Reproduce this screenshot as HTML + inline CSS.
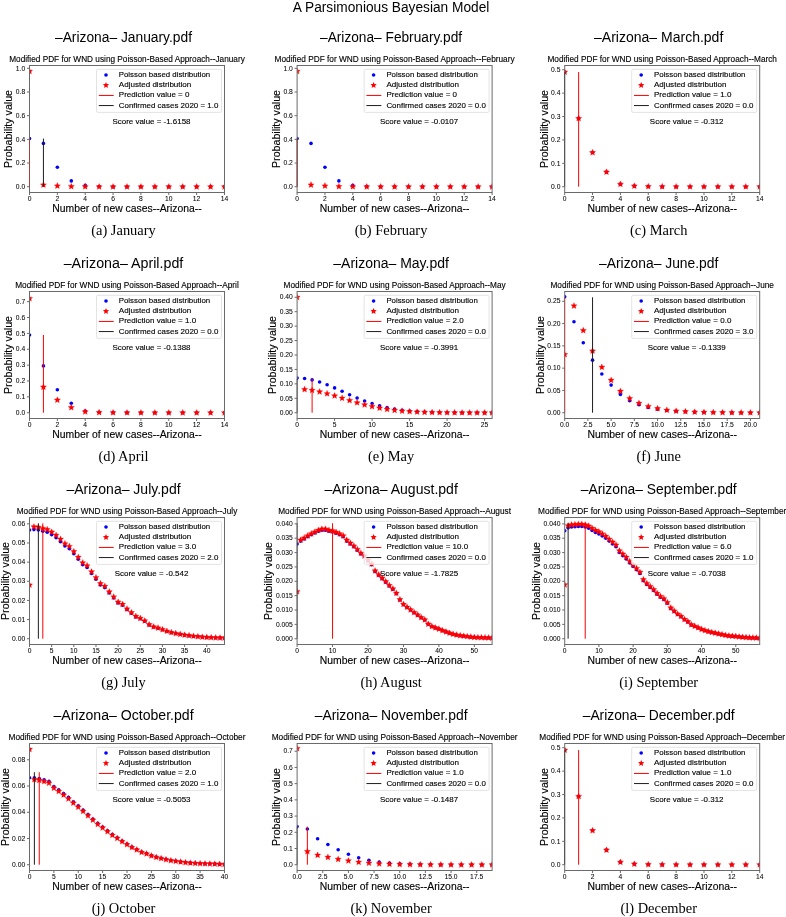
<!DOCTYPE html>
<html><head><meta charset="utf-8"><style>
html,body{margin:0;padding:0;background:#fff;width:786px;height:917px;overflow:hidden}
svg{display:block;will-change:transform}
.b{stroke:#000;stroke-width:0.13px}
.t{stroke:#000;stroke-width:0.05px}
</style></head><body>
<svg width="786" height="917" viewBox="0 0 786 917">
<text x="391.1" y="11.8" font-size="14" text-anchor="middle" textLength="196.46" lengthAdjust="spacingAndGlyphs" fill="#000" font-family='"Liberation Sans", sans-serif'>A Parsimonious Bayesian Model</text>
<text x="123.5" y="41.5" font-size="14" text-anchor="middle" textLength="137" lengthAdjust="spacingAndGlyphs" fill="#000" font-family='"Liberation Sans", sans-serif'>–Arizona– January.pdf</text>
<text x="123.5" y="235.1" font-size="14.45" text-anchor="middle" fill="#000" font-family='"Liberation Serif", serif'>(a) January</text>
<text x="127" y="62.4" font-size="8.2" text-anchor="middle" textLength="235.6" lengthAdjust="spacingAndGlyphs" fill="#000" font-family='"Liberation Sans", sans-serif' class="b">Modified PDF for WND using Poisson-Based Approach--January</text>
<clipPath id="clip0"><rect x="29.5" y="65.5" width="195" height="127"/></clipPath>
<g clip-path="url(#clip0)">
<circle cx="29.5" cy="138.58" r="1.8" fill="#0000ff"/>
<circle cx="43.43" cy="143.4" r="1.8" fill="#0000ff"/>
<circle cx="57.36" cy="167.23" r="1.8" fill="#0000ff"/>
<circle cx="71.29" cy="180.88" r="1.8" fill="#0000ff"/>
<circle cx="85.21" cy="185.41" r="1.8" fill="#0000ff"/>
<circle cx="99.14" cy="186.49" r="1.8" fill="#0000ff"/>
<circle cx="113.07" cy="186.69" r="1.8" fill="#0000ff"/>
<circle cx="127" cy="186.72" r="1.8" fill="#0000ff"/>
<circle cx="140.93" cy="186.73" r="1.8" fill="#0000ff"/>
<circle cx="154.86" cy="186.73" r="1.8" fill="#0000ff"/>
<circle cx="168.79" cy="186.73" r="1.8" fill="#0000ff"/>
<circle cx="182.71" cy="186.73" r="1.8" fill="#0000ff"/>
<circle cx="196.64" cy="186.73" r="1.8" fill="#0000ff"/>
<circle cx="210.57" cy="186.73" r="1.8" fill="#0000ff"/>
<circle cx="224.5" cy="186.73" r="1.8" fill="#0000ff"/>
<path d="M29.50,67.97L28.61,70.04L26.36,70.25L28.06,71.74L27.56,73.94L29.50,72.79L31.44,73.94L30.94,71.74L32.64,70.25L30.39,70.04ZM43.43,181.60L42.54,183.67L40.29,183.88L41.98,185.37L41.49,187.57L43.43,186.42L45.37,187.57L44.87,185.37L46.57,183.88L44.32,183.67ZM57.36,182.61L56.46,184.68L54.22,184.89L55.91,186.37L55.42,188.58L57.36,187.42L59.30,188.58L58.80,186.37L60.50,184.89L58.25,184.68ZM71.29,183.18L70.39,185.25L68.15,185.46L69.84,186.95L69.35,189.15L71.29,188.00L73.23,189.15L72.73,186.95L74.42,185.46L72.18,185.25ZM85.21,183.37L84.32,185.44L82.08,185.65L83.77,187.14L83.27,189.34L85.21,188.19L87.15,189.34L86.66,187.14L88.35,185.65L86.11,185.44ZM99.14,183.42L98.25,185.49L96.00,185.70L97.70,187.19L97.20,189.39L99.14,188.24L101.08,189.39L100.59,187.19L102.28,185.70L100.04,185.49ZM113.07,183.43L112.18,185.50L109.93,185.71L111.63,187.19L111.13,189.40L113.07,188.24L115.01,189.40L114.52,187.19L116.21,185.71L113.96,185.50ZM127.00,183.43L126.11,185.50L123.86,185.71L125.56,187.20L125.06,189.40L127.00,188.25L128.94,189.40L128.44,187.20L130.14,185.71L127.89,185.50ZM140.93,183.43L140.04,185.50L137.79,185.71L139.48,187.20L138.99,189.40L140.93,188.25L142.87,189.40L142.37,187.20L144.07,185.71L141.82,185.50ZM154.86,183.43L153.96,185.50L151.72,185.71L153.41,187.20L152.92,189.40L154.86,188.25L156.80,189.40L156.30,187.20L158.00,185.71L155.75,185.50ZM168.79,183.43L167.89,185.50L165.65,185.71L167.34,187.20L166.85,189.40L168.79,188.25L170.73,189.40L170.23,187.20L171.92,185.71L169.68,185.50ZM182.71,183.43L181.82,185.50L179.58,185.71L181.27,187.20L180.77,189.40L182.71,188.25L184.65,189.40L184.16,187.20L185.85,185.71L183.61,185.50ZM196.64,183.43L195.75,185.50L193.50,185.71L195.20,187.20L194.70,189.40L196.64,188.25L198.58,189.40L198.09,187.20L199.78,185.71L197.54,185.50ZM210.57,183.43L209.68,185.50L207.43,185.71L209.13,187.20L208.63,189.40L210.57,188.25L212.51,189.40L212.02,187.20L213.71,185.71L211.46,185.50ZM224.50,183.43L223.61,185.50L221.36,185.71L223.06,187.20L222.56,189.40L224.50,188.25L226.44,189.40L225.94,187.20L227.64,185.71L225.39,185.50Z" fill="#ff0000" stroke="#ff0000" stroke-width="0.25" stroke-linejoin="round"/>
<line x1="43.43" y1="186.73" x2="43.43" y2="138.58" stroke="#1e1e1e" stroke-width="1.0"/>
<text x="151.5" y="123.7" font-size="7.7" text-anchor="middle" textLength="78.06" lengthAdjust="spacingAndGlyphs" fill="#000" font-family='"Liberation Sans", sans-serif' class="b">Score value = -1.6158</text>
<rect x="96.5" y="69.3" width="125" height="43.1" rx="1.5" fill="#fff" fill-opacity="0.8" stroke="#dcdcdc" stroke-width="0.8"/>
<circle cx="106" cy="75.05" r="1.8" fill="#0000ff"/>
<path d="M106.00,81.95L105.11,84.02L102.86,84.23L104.56,85.72L104.06,87.92L106.00,86.77L107.94,87.92L107.44,85.72L109.14,84.23L106.89,84.02Z" fill="#ff0000"/>
<line x1="98.8" y1="95.45" x2="113.7" y2="95.45" stroke="#ff0000" stroke-width="1.0"/>
<line x1="98.8" y1="105.55" x2="113.7" y2="105.55" stroke="#1e1e1e" stroke-width="1.0"/>
<text x="118.8" y="77.1" font-size="7.7" text-anchor="start" textLength="91.42" lengthAdjust="spacingAndGlyphs" fill="#000" font-family='"Liberation Sans", sans-serif' class="b">Poisson based distribution</text>
<text x="118.8" y="87.27" font-size="7.7" text-anchor="start" textLength="72.54" lengthAdjust="spacingAndGlyphs" fill="#000" font-family='"Liberation Sans", sans-serif' class="b">Adjusted distribution</text>
<text x="118.8" y="97.44" font-size="7.7" text-anchor="start" textLength="70.69" lengthAdjust="spacingAndGlyphs" fill="#000" font-family='"Liberation Sans", sans-serif' class="b">Prediction value = 0</text>
<text x="118.8" y="107.61" font-size="7.7" text-anchor="start" textLength="99.51" lengthAdjust="spacingAndGlyphs" fill="#000" font-family='"Liberation Sans", sans-serif' class="b">Confirmed cases 2020 = 1.0</text>
</g>
<rect x="29.5" y="65.5" width="195" height="127" fill="none" stroke="#6a6a6a" stroke-width="1"/>
<line x1="29.5" y1="186.73" x2="29.5" y2="138.58" stroke="#ff0000" stroke-opacity="0.4" stroke-width="1.0"/>
<line x1="27" y1="186.73" x2="29.5" y2="186.73" stroke="#6a6a6a" stroke-width="1"/>
<text x="25.2" y="188.93" font-size="6.3" text-anchor="end" textLength="9.38" lengthAdjust="spacingAndGlyphs" fill="#000" font-family='"Liberation Sans", sans-serif' class="t">0.0</text>
<line x1="27" y1="163.04" x2="29.5" y2="163.04" stroke="#6a6a6a" stroke-width="1"/>
<text x="25.2" y="165.24" font-size="6.3" text-anchor="end" textLength="9.38" lengthAdjust="spacingAndGlyphs" fill="#000" font-family='"Liberation Sans", sans-serif' class="t">0.2</text>
<line x1="27" y1="139.36" x2="29.5" y2="139.36" stroke="#6a6a6a" stroke-width="1"/>
<text x="25.2" y="141.56" font-size="6.3" text-anchor="end" textLength="9.38" lengthAdjust="spacingAndGlyphs" fill="#000" font-family='"Liberation Sans", sans-serif' class="t">0.4</text>
<line x1="27" y1="115.68" x2="29.5" y2="115.68" stroke="#6a6a6a" stroke-width="1"/>
<text x="25.2" y="117.88" font-size="6.3" text-anchor="end" textLength="9.38" lengthAdjust="spacingAndGlyphs" fill="#000" font-family='"Liberation Sans", sans-serif' class="t">0.6</text>
<line x1="27" y1="92" x2="29.5" y2="92" stroke="#6a6a6a" stroke-width="1"/>
<text x="25.2" y="94.2" font-size="6.3" text-anchor="end" textLength="9.38" lengthAdjust="spacingAndGlyphs" fill="#000" font-family='"Liberation Sans", sans-serif' class="t">0.8</text>
<line x1="27" y1="68.31" x2="29.5" y2="68.31" stroke="#6a6a6a" stroke-width="1"/>
<text x="25.2" y="70.51" font-size="6.3" text-anchor="end" textLength="9.38" lengthAdjust="spacingAndGlyphs" fill="#000" font-family='"Liberation Sans", sans-serif' class="t">1.0</text>
<line x1="29.5" y1="192.5" x2="29.5" y2="195" stroke="#6a6a6a" stroke-width="1"/>
<text x="29.5" y="201" font-size="6.3" text-anchor="middle" textLength="3.75" lengthAdjust="spacingAndGlyphs" fill="#000" font-family='"Liberation Sans", sans-serif' class="t">0</text>
<line x1="57.36" y1="192.5" x2="57.36" y2="195" stroke="#6a6a6a" stroke-width="1"/>
<text x="57.36" y="201" font-size="6.3" text-anchor="middle" textLength="3.75" lengthAdjust="spacingAndGlyphs" fill="#000" font-family='"Liberation Sans", sans-serif' class="t">2</text>
<line x1="85.21" y1="192.5" x2="85.21" y2="195" stroke="#6a6a6a" stroke-width="1"/>
<text x="85.21" y="201" font-size="6.3" text-anchor="middle" textLength="3.75" lengthAdjust="spacingAndGlyphs" fill="#000" font-family='"Liberation Sans", sans-serif' class="t">4</text>
<line x1="113.07" y1="192.5" x2="113.07" y2="195" stroke="#6a6a6a" stroke-width="1"/>
<text x="113.07" y="201" font-size="6.3" text-anchor="middle" textLength="3.75" lengthAdjust="spacingAndGlyphs" fill="#000" font-family='"Liberation Sans", sans-serif' class="t">6</text>
<line x1="140.93" y1="192.5" x2="140.93" y2="195" stroke="#6a6a6a" stroke-width="1"/>
<text x="140.93" y="201" font-size="6.3" text-anchor="middle" textLength="3.75" lengthAdjust="spacingAndGlyphs" fill="#000" font-family='"Liberation Sans", sans-serif' class="t">8</text>
<line x1="168.79" y1="192.5" x2="168.79" y2="195" stroke="#6a6a6a" stroke-width="1"/>
<text x="168.79" y="201" font-size="6.3" text-anchor="middle" textLength="7.51" lengthAdjust="spacingAndGlyphs" fill="#000" font-family='"Liberation Sans", sans-serif' class="t">10</text>
<line x1="196.64" y1="192.5" x2="196.64" y2="195" stroke="#6a6a6a" stroke-width="1"/>
<text x="196.64" y="201" font-size="6.3" text-anchor="middle" textLength="7.51" lengthAdjust="spacingAndGlyphs" fill="#000" font-family='"Liberation Sans", sans-serif' class="t">12</text>
<line x1="224.5" y1="192.5" x2="224.5" y2="195" stroke="#6a6a6a" stroke-width="1"/>
<text x="224.5" y="201" font-size="6.3" text-anchor="middle" textLength="7.51" lengthAdjust="spacingAndGlyphs" fill="#000" font-family='"Liberation Sans", sans-serif' class="t">14</text>
<text x="127" y="211.7" font-size="10" text-anchor="middle" textLength="149.59" lengthAdjust="spacingAndGlyphs" fill="#000" font-family='"Liberation Sans", sans-serif' class="b">Number of new cases--Arizona--</text>
<g transform="translate(12.32,129) rotate(-90)"><text x="0" y="0" font-size="10" text-anchor="middle" textLength="77.94" lengthAdjust="spacingAndGlyphs" fill="#000" font-family='"Liberation Sans", sans-serif' class="b">Probability value</text></g>
<text x="391.1" y="41.5" font-size="14" text-anchor="middle" textLength="142.09" lengthAdjust="spacingAndGlyphs" fill="#000" font-family='"Liberation Sans", sans-serif'>–Arizona– February.pdf</text>
<text x="391.1" y="235.1" font-size="14.45" text-anchor="middle" fill="#000" font-family='"Liberation Serif", serif'>(b) February</text>
<text x="394.6" y="62.4" font-size="8.2" text-anchor="middle" textLength="240.02" lengthAdjust="spacingAndGlyphs" fill="#000" font-family='"Liberation Sans", sans-serif' class="b">Modified PDF for WND using Poisson-Based Approach--February</text>
<clipPath id="clip1"><rect x="297.1" y="65.5" width="195" height="127"/></clipPath>
<g clip-path="url(#clip1)">
<circle cx="297.1" cy="138.58" r="1.8" fill="#0000ff"/>
<circle cx="311.03" cy="143.4" r="1.8" fill="#0000ff"/>
<circle cx="324.96" cy="167.23" r="1.8" fill="#0000ff"/>
<circle cx="338.89" cy="180.88" r="1.8" fill="#0000ff"/>
<circle cx="352.81" cy="185.41" r="1.8" fill="#0000ff"/>
<circle cx="366.74" cy="186.49" r="1.8" fill="#0000ff"/>
<circle cx="380.67" cy="186.69" r="1.8" fill="#0000ff"/>
<circle cx="394.6" cy="186.72" r="1.8" fill="#0000ff"/>
<circle cx="408.53" cy="186.73" r="1.8" fill="#0000ff"/>
<circle cx="422.46" cy="186.73" r="1.8" fill="#0000ff"/>
<circle cx="436.39" cy="186.73" r="1.8" fill="#0000ff"/>
<circle cx="450.31" cy="186.73" r="1.8" fill="#0000ff"/>
<circle cx="464.24" cy="186.73" r="1.8" fill="#0000ff"/>
<circle cx="478.17" cy="186.73" r="1.8" fill="#0000ff"/>
<circle cx="492.1" cy="186.73" r="1.8" fill="#0000ff"/>
<path d="M297.10,67.97L296.21,70.04L293.96,70.25L295.66,71.74L295.16,73.94L297.10,72.79L299.04,73.94L298.54,71.74L300.24,70.25L297.99,70.04ZM311.03,181.60L310.14,183.67L307.89,183.88L309.58,185.37L309.09,187.57L311.03,186.42L312.97,187.57L312.47,185.37L314.17,183.88L311.92,183.67ZM324.96,182.61L324.06,184.68L321.82,184.89L323.51,186.37L323.02,188.58L324.96,187.42L326.90,188.58L326.40,186.37L328.10,184.89L325.85,184.68ZM338.89,183.18L337.99,185.25L335.75,185.46L337.44,186.95L336.95,189.15L338.89,188.00L340.83,189.15L340.33,186.95L342.02,185.46L339.78,185.25ZM352.81,183.37L351.92,185.44L349.68,185.65L351.37,187.14L350.87,189.34L352.81,188.19L354.75,189.34L354.26,187.14L355.95,185.65L353.71,185.44ZM366.74,183.42L365.85,185.49L363.60,185.70L365.30,187.19L364.80,189.39L366.74,188.24L368.68,189.39L368.19,187.19L369.88,185.70L367.64,185.49ZM380.67,183.43L379.78,185.50L377.53,185.71L379.23,187.19L378.73,189.40L380.67,188.24L382.61,189.40L382.12,187.19L383.81,185.71L381.56,185.50ZM394.60,183.43L393.71,185.50L391.46,185.71L393.16,187.20L392.66,189.40L394.60,188.25L396.54,189.40L396.04,187.20L397.74,185.71L395.49,185.50ZM408.53,183.43L407.64,185.50L405.39,185.71L407.08,187.20L406.59,189.40L408.53,188.25L410.47,189.40L409.97,187.20L411.67,185.71L409.42,185.50ZM422.46,183.43L421.56,185.50L419.32,185.71L421.01,187.20L420.52,189.40L422.46,188.25L424.40,189.40L423.90,187.20L425.60,185.71L423.35,185.50ZM436.39,183.43L435.49,185.50L433.25,185.71L434.94,187.20L434.45,189.40L436.39,188.25L438.33,189.40L437.83,187.20L439.52,185.71L437.28,185.50ZM450.31,183.43L449.42,185.50L447.18,185.71L448.87,187.20L448.37,189.40L450.31,188.25L452.25,189.40L451.76,187.20L453.45,185.71L451.21,185.50ZM464.24,183.43L463.35,185.50L461.10,185.71L462.80,187.20L462.30,189.40L464.24,188.25L466.18,189.40L465.69,187.20L467.38,185.71L465.14,185.50ZM478.17,183.43L477.28,185.50L475.03,185.71L476.73,187.20L476.23,189.40L478.17,188.25L480.11,189.40L479.62,187.20L481.31,185.71L479.06,185.50ZM492.10,183.43L491.21,185.50L488.96,185.71L490.66,187.20L490.16,189.40L492.10,188.25L494.04,189.40L493.54,187.20L495.24,185.71L492.99,185.50Z" fill="#ff0000" stroke="#ff0000" stroke-width="0.25" stroke-linejoin="round"/>
<text x="419.1" y="123.7" font-size="7.7" text-anchor="middle" textLength="78.06" lengthAdjust="spacingAndGlyphs" fill="#000" font-family='"Liberation Sans", sans-serif' class="b">Score value = -0.0107</text>
<rect x="364.1" y="69.3" width="125" height="43.1" rx="1.5" fill="#fff" fill-opacity="0.8" stroke="#dcdcdc" stroke-width="0.8"/>
<circle cx="373.6" cy="75.05" r="1.8" fill="#0000ff"/>
<path d="M373.60,81.95L372.71,84.02L370.46,84.23L372.16,85.72L371.66,87.92L373.60,86.77L375.54,87.92L375.04,85.72L376.74,84.23L374.49,84.02Z" fill="#ff0000"/>
<line x1="366.4" y1="95.45" x2="381.3" y2="95.45" stroke="#ff0000" stroke-width="1.0"/>
<line x1="366.4" y1="105.55" x2="381.3" y2="105.55" stroke="#1e1e1e" stroke-width="1.0"/>
<text x="386.4" y="77.1" font-size="7.7" text-anchor="start" textLength="91.42" lengthAdjust="spacingAndGlyphs" fill="#000" font-family='"Liberation Sans", sans-serif' class="b">Poisson based distribution</text>
<text x="386.4" y="87.27" font-size="7.7" text-anchor="start" textLength="72.54" lengthAdjust="spacingAndGlyphs" fill="#000" font-family='"Liberation Sans", sans-serif' class="b">Adjusted distribution</text>
<text x="386.4" y="97.44" font-size="7.7" text-anchor="start" textLength="70.69" lengthAdjust="spacingAndGlyphs" fill="#000" font-family='"Liberation Sans", sans-serif' class="b">Prediction value = 0</text>
<text x="386.4" y="107.61" font-size="7.7" text-anchor="start" textLength="99.51" lengthAdjust="spacingAndGlyphs" fill="#000" font-family='"Liberation Sans", sans-serif' class="b">Confirmed cases 2020 = 0.0</text>
</g>
<rect x="297.1" y="65.5" width="195" height="127" fill="none" stroke="#6a6a6a" stroke-width="1"/>
<line x1="297.1" y1="186.73" x2="297.1" y2="138.58" stroke="#ff0000" stroke-opacity="0.4" stroke-width="1.0"/>
<line x1="297.1" y1="186.73" x2="297.1" y2="138.58" stroke="#000" stroke-opacity="0.45" stroke-width="1.0"/>
<line x1="294.6" y1="186.73" x2="297.1" y2="186.73" stroke="#6a6a6a" stroke-width="1"/>
<text x="292.8" y="188.93" font-size="6.3" text-anchor="end" textLength="9.38" lengthAdjust="spacingAndGlyphs" fill="#000" font-family='"Liberation Sans", sans-serif' class="t">0.0</text>
<line x1="294.6" y1="163.04" x2="297.1" y2="163.04" stroke="#6a6a6a" stroke-width="1"/>
<text x="292.8" y="165.24" font-size="6.3" text-anchor="end" textLength="9.38" lengthAdjust="spacingAndGlyphs" fill="#000" font-family='"Liberation Sans", sans-serif' class="t">0.2</text>
<line x1="294.6" y1="139.36" x2="297.1" y2="139.36" stroke="#6a6a6a" stroke-width="1"/>
<text x="292.8" y="141.56" font-size="6.3" text-anchor="end" textLength="9.38" lengthAdjust="spacingAndGlyphs" fill="#000" font-family='"Liberation Sans", sans-serif' class="t">0.4</text>
<line x1="294.6" y1="115.68" x2="297.1" y2="115.68" stroke="#6a6a6a" stroke-width="1"/>
<text x="292.8" y="117.88" font-size="6.3" text-anchor="end" textLength="9.38" lengthAdjust="spacingAndGlyphs" fill="#000" font-family='"Liberation Sans", sans-serif' class="t">0.6</text>
<line x1="294.6" y1="92" x2="297.1" y2="92" stroke="#6a6a6a" stroke-width="1"/>
<text x="292.8" y="94.2" font-size="6.3" text-anchor="end" textLength="9.38" lengthAdjust="spacingAndGlyphs" fill="#000" font-family='"Liberation Sans", sans-serif' class="t">0.8</text>
<line x1="294.6" y1="68.31" x2="297.1" y2="68.31" stroke="#6a6a6a" stroke-width="1"/>
<text x="292.8" y="70.51" font-size="6.3" text-anchor="end" textLength="9.38" lengthAdjust="spacingAndGlyphs" fill="#000" font-family='"Liberation Sans", sans-serif' class="t">1.0</text>
<line x1="297.1" y1="192.5" x2="297.1" y2="195" stroke="#6a6a6a" stroke-width="1"/>
<text x="297.1" y="201" font-size="6.3" text-anchor="middle" textLength="3.75" lengthAdjust="spacingAndGlyphs" fill="#000" font-family='"Liberation Sans", sans-serif' class="t">0</text>
<line x1="324.96" y1="192.5" x2="324.96" y2="195" stroke="#6a6a6a" stroke-width="1"/>
<text x="324.96" y="201" font-size="6.3" text-anchor="middle" textLength="3.75" lengthAdjust="spacingAndGlyphs" fill="#000" font-family='"Liberation Sans", sans-serif' class="t">2</text>
<line x1="352.81" y1="192.5" x2="352.81" y2="195" stroke="#6a6a6a" stroke-width="1"/>
<text x="352.81" y="201" font-size="6.3" text-anchor="middle" textLength="3.75" lengthAdjust="spacingAndGlyphs" fill="#000" font-family='"Liberation Sans", sans-serif' class="t">4</text>
<line x1="380.67" y1="192.5" x2="380.67" y2="195" stroke="#6a6a6a" stroke-width="1"/>
<text x="380.67" y="201" font-size="6.3" text-anchor="middle" textLength="3.75" lengthAdjust="spacingAndGlyphs" fill="#000" font-family='"Liberation Sans", sans-serif' class="t">6</text>
<line x1="408.53" y1="192.5" x2="408.53" y2="195" stroke="#6a6a6a" stroke-width="1"/>
<text x="408.53" y="201" font-size="6.3" text-anchor="middle" textLength="3.75" lengthAdjust="spacingAndGlyphs" fill="#000" font-family='"Liberation Sans", sans-serif' class="t">8</text>
<line x1="436.39" y1="192.5" x2="436.39" y2="195" stroke="#6a6a6a" stroke-width="1"/>
<text x="436.39" y="201" font-size="6.3" text-anchor="middle" textLength="7.51" lengthAdjust="spacingAndGlyphs" fill="#000" font-family='"Liberation Sans", sans-serif' class="t">10</text>
<line x1="464.24" y1="192.5" x2="464.24" y2="195" stroke="#6a6a6a" stroke-width="1"/>
<text x="464.24" y="201" font-size="6.3" text-anchor="middle" textLength="7.51" lengthAdjust="spacingAndGlyphs" fill="#000" font-family='"Liberation Sans", sans-serif' class="t">12</text>
<line x1="492.1" y1="192.5" x2="492.1" y2="195" stroke="#6a6a6a" stroke-width="1"/>
<text x="492.1" y="201" font-size="6.3" text-anchor="middle" textLength="7.51" lengthAdjust="spacingAndGlyphs" fill="#000" font-family='"Liberation Sans", sans-serif' class="t">14</text>
<text x="394.6" y="211.7" font-size="10" text-anchor="middle" textLength="149.59" lengthAdjust="spacingAndGlyphs" fill="#000" font-family='"Liberation Sans", sans-serif' class="b">Number of new cases--Arizona--</text>
<g transform="translate(279.92,129) rotate(-90)"><text x="0" y="0" font-size="10" text-anchor="middle" textLength="77.94" lengthAdjust="spacingAndGlyphs" fill="#000" font-family='"Liberation Sans", sans-serif' class="b">Probability value</text></g>
<text x="658.7" y="41.5" font-size="14" text-anchor="middle" textLength="129.23" lengthAdjust="spacingAndGlyphs" fill="#000" font-family='"Liberation Sans", sans-serif'>–Arizona– March.pdf</text>
<text x="658.7" y="235.1" font-size="14.45" text-anchor="middle" fill="#000" font-family='"Liberation Serif", serif'>(c) March</text>
<text x="662.2" y="62.4" font-size="8.2" text-anchor="middle" textLength="229.57" lengthAdjust="spacingAndGlyphs" fill="#000" font-family='"Liberation Sans", sans-serif' class="b">Modified PDF for WND using Poisson-Based Approach--March</text>
<clipPath id="clip2"><rect x="564.7" y="65.5" width="195" height="127"/></clipPath>
<g clip-path="url(#clip2)">
<circle cx="564.7" cy="72.07" r="1.8" fill="#0000ff"/>
<circle cx="578.63" cy="118.4" r="1.8" fill="#0000ff"/>
<circle cx="592.56" cy="152.56" r="1.8" fill="#0000ff"/>
<circle cx="606.49" cy="171.99" r="1.8" fill="#0000ff"/>
<circle cx="620.41" cy="184.15" r="1.8" fill="#0000ff"/>
<circle cx="634.34" cy="186.03" r="1.8" fill="#0000ff"/>
<circle cx="648.27" cy="186.49" r="1.8" fill="#0000ff"/>
<circle cx="662.2" cy="186.63" r="1.8" fill="#0000ff"/>
<circle cx="676.13" cy="186.68" r="1.8" fill="#0000ff"/>
<circle cx="690.06" cy="186.7" r="1.8" fill="#0000ff"/>
<circle cx="703.99" cy="186.7" r="1.8" fill="#0000ff"/>
<circle cx="717.91" cy="186.7" r="1.8" fill="#0000ff"/>
<circle cx="731.84" cy="186.7" r="1.8" fill="#0000ff"/>
<circle cx="745.77" cy="186.7" r="1.8" fill="#0000ff"/>
<circle cx="759.7" cy="186.7" r="1.8" fill="#0000ff"/>
<path d="M564.70,68.77L563.81,70.84L561.56,71.05L563.26,72.54L562.76,74.74L564.70,73.59L566.64,74.74L566.14,72.54L567.84,71.05L565.59,70.84ZM578.63,115.10L577.74,117.17L575.49,117.38L577.18,118.87L576.69,121.07L578.63,119.92L580.57,121.07L580.07,118.87L581.77,117.38L579.52,117.17ZM592.56,149.26L591.66,151.34L589.42,151.54L591.11,153.03L590.62,155.23L592.56,154.08L594.50,155.23L594.00,153.03L595.70,151.54L593.45,151.34ZM606.49,168.69L605.59,170.76L603.35,170.97L605.04,172.45L604.55,174.66L606.49,173.50L608.43,174.66L607.93,172.45L609.62,170.97L607.38,170.76ZM620.41,180.85L619.52,182.93L617.28,183.13L618.97,184.62L618.47,186.82L620.41,185.67L622.35,186.82L621.86,184.62L623.55,183.13L621.31,182.93ZM634.34,182.73L633.45,184.80L631.20,185.01L632.90,186.49L632.40,188.70L634.34,187.54L636.28,188.70L635.79,186.49L637.48,185.01L635.24,184.80ZM648.27,183.19L647.38,185.27L645.13,185.47L646.83,186.96L646.33,189.16L648.27,188.01L650.21,189.16L649.72,186.96L651.41,185.47L649.16,185.27ZM662.20,183.33L661.31,185.41L659.06,185.61L660.76,187.10L660.26,189.30L662.20,188.15L664.14,189.30L663.64,187.10L665.34,185.61L663.09,185.41ZM676.13,183.38L675.24,185.45L672.99,185.66L674.68,187.15L674.19,189.35L676.13,188.20L678.07,189.35L677.57,187.15L679.27,185.66L677.02,185.45ZM690.06,183.40L689.16,185.48L686.92,185.68L688.61,187.17L688.12,189.37L690.06,188.22L692.00,189.37L691.50,187.17L693.20,185.68L690.95,185.48ZM703.99,183.40L703.09,185.48L700.85,185.68L702.54,187.17L702.05,189.37L703.99,188.22L705.93,189.37L705.43,187.17L707.12,185.68L704.88,185.48ZM717.91,183.40L717.02,185.48L714.78,185.68L716.47,187.17L715.97,189.37L717.91,188.22L719.85,189.37L719.36,187.17L721.05,185.68L718.81,185.48ZM731.84,183.40L730.95,185.48L728.70,185.68L730.40,187.17L729.90,189.37L731.84,188.22L733.78,189.37L733.29,187.17L734.98,185.68L732.74,185.48ZM745.77,183.40L744.88,185.48L742.63,185.68L744.33,187.17L743.83,189.37L745.77,188.22L747.71,189.37L747.22,187.17L748.91,185.68L746.66,185.48ZM759.70,183.40L758.81,185.48L756.56,185.68L758.26,187.17L757.76,189.37L759.70,188.22L761.64,189.37L761.14,187.17L762.84,185.68L760.59,185.48Z" fill="#ff0000" stroke="#ff0000" stroke-width="0.25" stroke-linejoin="round"/>
<line x1="578.63" y1="186.73" x2="578.63" y2="72.07" stroke="#ff0000" stroke-width="1.0"/>
<text x="686.7" y="123.7" font-size="7.7" text-anchor="middle" textLength="73.62" lengthAdjust="spacingAndGlyphs" fill="#000" font-family='"Liberation Sans", sans-serif' class="b">Score value = -0.312</text>
<rect x="631.7" y="69.3" width="125" height="43.1" rx="1.5" fill="#fff" fill-opacity="0.8" stroke="#dcdcdc" stroke-width="0.8"/>
<circle cx="641.2" cy="75.05" r="1.8" fill="#0000ff"/>
<path d="M641.20,81.95L640.31,84.02L638.06,84.23L639.76,85.72L639.26,87.92L641.20,86.77L643.14,87.92L642.64,85.72L644.34,84.23L642.09,84.02Z" fill="#ff0000"/>
<line x1="634" y1="95.45" x2="648.9" y2="95.45" stroke="#ff0000" stroke-width="1.0"/>
<line x1="634" y1="105.55" x2="648.9" y2="105.55" stroke="#1e1e1e" stroke-width="1.0"/>
<text x="654" y="77.1" font-size="7.7" text-anchor="start" textLength="91.42" lengthAdjust="spacingAndGlyphs" fill="#000" font-family='"Liberation Sans", sans-serif' class="b">Poisson based distribution</text>
<text x="654" y="87.27" font-size="7.7" text-anchor="start" textLength="72.54" lengthAdjust="spacingAndGlyphs" fill="#000" font-family='"Liberation Sans", sans-serif' class="b">Adjusted distribution</text>
<text x="654" y="97.44" font-size="7.7" text-anchor="start" textLength="77.35" lengthAdjust="spacingAndGlyphs" fill="#000" font-family='"Liberation Sans", sans-serif' class="b">Prediction value = 1.0</text>
<text x="654" y="107.61" font-size="7.7" text-anchor="start" textLength="99.51" lengthAdjust="spacingAndGlyphs" fill="#000" font-family='"Liberation Sans", sans-serif' class="b">Confirmed cases 2020 = 0.0</text>
</g>
<rect x="564.7" y="65.5" width="195" height="127" fill="none" stroke="#6a6a6a" stroke-width="1"/>
<line x1="564.7" y1="186.73" x2="564.7" y2="72.07" stroke="#000" stroke-opacity="0.45" stroke-width="1.0"/>
<line x1="562.2" y1="186.73" x2="564.7" y2="186.73" stroke="#6a6a6a" stroke-width="1"/>
<text x="560.4" y="188.93" font-size="6.3" text-anchor="end" textLength="9.38" lengthAdjust="spacingAndGlyphs" fill="#000" font-family='"Liberation Sans", sans-serif' class="t">0.0</text>
<line x1="562.2" y1="163.33" x2="564.7" y2="163.33" stroke="#6a6a6a" stroke-width="1"/>
<text x="560.4" y="165.53" font-size="6.3" text-anchor="end" textLength="9.38" lengthAdjust="spacingAndGlyphs" fill="#000" font-family='"Liberation Sans", sans-serif' class="t">0.1</text>
<line x1="562.2" y1="139.93" x2="564.7" y2="139.93" stroke="#6a6a6a" stroke-width="1"/>
<text x="560.4" y="142.13" font-size="6.3" text-anchor="end" textLength="9.38" lengthAdjust="spacingAndGlyphs" fill="#000" font-family='"Liberation Sans", sans-serif' class="t">0.2</text>
<line x1="562.2" y1="116.53" x2="564.7" y2="116.53" stroke="#6a6a6a" stroke-width="1"/>
<text x="560.4" y="118.73" font-size="6.3" text-anchor="end" textLength="9.38" lengthAdjust="spacingAndGlyphs" fill="#000" font-family='"Liberation Sans", sans-serif' class="t">0.3</text>
<line x1="562.2" y1="93.13" x2="564.7" y2="93.13" stroke="#6a6a6a" stroke-width="1"/>
<text x="560.4" y="95.33" font-size="6.3" text-anchor="end" textLength="9.38" lengthAdjust="spacingAndGlyphs" fill="#000" font-family='"Liberation Sans", sans-serif' class="t">0.4</text>
<line x1="562.2" y1="69.73" x2="564.7" y2="69.73" stroke="#6a6a6a" stroke-width="1"/>
<text x="560.4" y="71.93" font-size="6.3" text-anchor="end" textLength="9.38" lengthAdjust="spacingAndGlyphs" fill="#000" font-family='"Liberation Sans", sans-serif' class="t">0.5</text>
<line x1="564.7" y1="192.5" x2="564.7" y2="195" stroke="#6a6a6a" stroke-width="1"/>
<text x="564.7" y="201" font-size="6.3" text-anchor="middle" textLength="3.75" lengthAdjust="spacingAndGlyphs" fill="#000" font-family='"Liberation Sans", sans-serif' class="t">0</text>
<line x1="592.56" y1="192.5" x2="592.56" y2="195" stroke="#6a6a6a" stroke-width="1"/>
<text x="592.56" y="201" font-size="6.3" text-anchor="middle" textLength="3.75" lengthAdjust="spacingAndGlyphs" fill="#000" font-family='"Liberation Sans", sans-serif' class="t">2</text>
<line x1="620.41" y1="192.5" x2="620.41" y2="195" stroke="#6a6a6a" stroke-width="1"/>
<text x="620.41" y="201" font-size="6.3" text-anchor="middle" textLength="3.75" lengthAdjust="spacingAndGlyphs" fill="#000" font-family='"Liberation Sans", sans-serif' class="t">4</text>
<line x1="648.27" y1="192.5" x2="648.27" y2="195" stroke="#6a6a6a" stroke-width="1"/>
<text x="648.27" y="201" font-size="6.3" text-anchor="middle" textLength="3.75" lengthAdjust="spacingAndGlyphs" fill="#000" font-family='"Liberation Sans", sans-serif' class="t">6</text>
<line x1="676.13" y1="192.5" x2="676.13" y2="195" stroke="#6a6a6a" stroke-width="1"/>
<text x="676.13" y="201" font-size="6.3" text-anchor="middle" textLength="3.75" lengthAdjust="spacingAndGlyphs" fill="#000" font-family='"Liberation Sans", sans-serif' class="t">8</text>
<line x1="703.99" y1="192.5" x2="703.99" y2="195" stroke="#6a6a6a" stroke-width="1"/>
<text x="703.99" y="201" font-size="6.3" text-anchor="middle" textLength="7.51" lengthAdjust="spacingAndGlyphs" fill="#000" font-family='"Liberation Sans", sans-serif' class="t">10</text>
<line x1="731.84" y1="192.5" x2="731.84" y2="195" stroke="#6a6a6a" stroke-width="1"/>
<text x="731.84" y="201" font-size="6.3" text-anchor="middle" textLength="7.51" lengthAdjust="spacingAndGlyphs" fill="#000" font-family='"Liberation Sans", sans-serif' class="t">12</text>
<line x1="759.7" y1="192.5" x2="759.7" y2="195" stroke="#6a6a6a" stroke-width="1"/>
<text x="759.7" y="201" font-size="6.3" text-anchor="middle" textLength="7.51" lengthAdjust="spacingAndGlyphs" fill="#000" font-family='"Liberation Sans", sans-serif' class="t">14</text>
<text x="662.2" y="211.7" font-size="10" text-anchor="middle" textLength="149.59" lengthAdjust="spacingAndGlyphs" fill="#000" font-family='"Liberation Sans", sans-serif' class="b">Number of new cases--Arizona--</text>
<g transform="translate(547.52,129) rotate(-90)"><text x="0" y="0" font-size="10" text-anchor="middle" textLength="77.94" lengthAdjust="spacingAndGlyphs" fill="#000" font-family='"Liberation Sans", sans-serif' class="b">Probability value</text></g>
<text x="123.5" y="267.5" font-size="14" text-anchor="middle" textLength="119.6" lengthAdjust="spacingAndGlyphs" fill="#000" font-family='"Liberation Sans", sans-serif'>–Arizona– April.pdf</text>
<text x="123.5" y="461.1" font-size="14.45" text-anchor="middle" fill="#000" font-family='"Liberation Serif", serif'>(d) April</text>
<text x="127" y="288.4" font-size="8.2" text-anchor="middle" textLength="223.63" lengthAdjust="spacingAndGlyphs" fill="#000" font-family='"Liberation Sans", sans-serif' class="b">Modified PDF for WND using Poisson-Based Approach--April</text>
<clipPath id="clip3"><rect x="29.5" y="291.5" width="195" height="127"/></clipPath>
<g clip-path="url(#clip3)">
<circle cx="29.5" cy="334.96" r="1.8" fill="#0000ff"/>
<circle cx="43.43" cy="365.91" r="1.8" fill="#0000ff"/>
<circle cx="57.36" cy="389.72" r="1.8" fill="#0000ff"/>
<circle cx="71.29" cy="403.21" r="1.8" fill="#0000ff"/>
<circle cx="85.21" cy="410.98" r="1.8" fill="#0000ff"/>
<circle cx="99.14" cy="412.25" r="1.8" fill="#0000ff"/>
<circle cx="113.07" cy="412.57" r="1.8" fill="#0000ff"/>
<circle cx="127" cy="412.66" r="1.8" fill="#0000ff"/>
<circle cx="140.93" cy="412.7" r="1.8" fill="#0000ff"/>
<circle cx="154.86" cy="412.71" r="1.8" fill="#0000ff"/>
<circle cx="168.79" cy="412.71" r="1.8" fill="#0000ff"/>
<circle cx="182.71" cy="412.71" r="1.8" fill="#0000ff"/>
<circle cx="196.64" cy="412.71" r="1.8" fill="#0000ff"/>
<circle cx="210.57" cy="412.71" r="1.8" fill="#0000ff"/>
<circle cx="224.5" cy="412.71" r="1.8" fill="#0000ff"/>
<path d="M29.50,295.16L28.61,297.23L26.36,297.44L28.06,298.93L27.56,301.13L29.50,299.98L31.44,301.13L30.94,298.93L32.64,297.44L30.39,297.23ZM43.43,383.72L42.54,385.80L40.29,386.00L41.98,387.49L41.49,389.69L43.43,388.54L45.37,389.69L44.87,387.49L46.57,386.00L44.32,385.80ZM57.36,396.79L56.46,398.87L54.22,399.07L55.91,400.56L55.42,402.76L57.36,401.61L59.30,402.76L58.80,400.56L60.50,399.07L58.25,398.87ZM71.29,404.20L70.39,406.27L68.15,406.48L69.84,407.97L69.35,410.17L71.29,409.02L73.23,410.17L72.73,407.97L74.42,406.48L72.18,406.27ZM85.21,408.47L84.32,410.54L82.08,410.75L83.77,412.24L83.27,414.44L85.21,413.29L87.15,414.44L86.66,412.24L88.35,410.75L86.11,410.54ZM99.14,409.17L98.25,411.24L96.00,411.45L97.70,412.93L97.20,415.14L99.14,413.98L101.08,415.14L100.59,412.93L102.28,411.45L100.04,411.24ZM113.07,409.34L112.18,411.41L109.93,411.62L111.63,413.11L111.13,415.31L113.07,414.16L115.01,415.31L114.52,413.11L116.21,411.62L113.96,411.41ZM127.00,409.39L126.11,411.46L123.86,411.67L125.56,413.16L125.06,415.36L127.00,414.21L128.94,415.36L128.44,413.16L130.14,411.67L127.89,411.46ZM140.93,409.41L140.04,411.48L137.79,411.69L139.48,413.18L138.99,415.38L140.93,414.23L142.87,415.38L142.37,413.18L144.07,411.69L141.82,411.48ZM154.86,409.42L153.96,411.49L151.72,411.70L153.41,413.19L152.92,415.39L154.86,414.24L156.80,415.39L156.30,413.19L158.00,411.70L155.75,411.49ZM168.79,409.42L167.89,411.49L165.65,411.70L167.34,413.19L166.85,415.39L168.79,414.24L170.73,415.39L170.23,413.19L171.92,411.70L169.68,411.49ZM182.71,409.42L181.82,411.49L179.58,411.70L181.27,413.19L180.77,415.39L182.71,414.24L184.65,415.39L184.16,413.19L185.85,411.70L183.61,411.49ZM196.64,409.42L195.75,411.49L193.50,411.70L195.20,413.19L194.70,415.39L196.64,414.24L198.58,415.39L198.09,413.19L199.78,411.70L197.54,411.49ZM210.57,409.42L209.68,411.49L207.43,411.70L209.13,413.19L208.63,415.39L210.57,414.24L212.51,415.39L212.02,413.19L213.71,411.70L211.46,411.49ZM224.50,409.42L223.61,411.49L221.36,411.70L223.06,413.19L222.56,415.39L224.50,414.24L226.44,415.39L225.94,413.19L227.64,411.70L225.39,411.49Z" fill="#ff0000" stroke="#ff0000" stroke-width="0.25" stroke-linejoin="round"/>
<line x1="43.43" y1="412.73" x2="43.43" y2="334.96" stroke="#ff0000" stroke-width="1.0"/>
<text x="151.5" y="349.7" font-size="7.7" text-anchor="middle" textLength="78.06" lengthAdjust="spacingAndGlyphs" fill="#000" font-family='"Liberation Sans", sans-serif' class="b">Score value = -0.1388</text>
<rect x="96.5" y="295.3" width="125" height="43.1" rx="1.5" fill="#fff" fill-opacity="0.8" stroke="#dcdcdc" stroke-width="0.8"/>
<circle cx="106" cy="301.05" r="1.8" fill="#0000ff"/>
<path d="M106.00,307.95L105.11,310.02L102.86,310.23L104.56,311.72L104.06,313.92L106.00,312.77L107.94,313.92L107.44,311.72L109.14,310.23L106.89,310.02Z" fill="#ff0000"/>
<line x1="98.8" y1="321.45" x2="113.7" y2="321.45" stroke="#ff0000" stroke-width="1.0"/>
<line x1="98.8" y1="331.55" x2="113.7" y2="331.55" stroke="#1e1e1e" stroke-width="1.0"/>
<text x="118.8" y="303.1" font-size="7.7" text-anchor="start" textLength="91.42" lengthAdjust="spacingAndGlyphs" fill="#000" font-family='"Liberation Sans", sans-serif' class="b">Poisson based distribution</text>
<text x="118.8" y="313.27" font-size="7.7" text-anchor="start" textLength="72.54" lengthAdjust="spacingAndGlyphs" fill="#000" font-family='"Liberation Sans", sans-serif' class="b">Adjusted distribution</text>
<text x="118.8" y="323.44" font-size="7.7" text-anchor="start" textLength="77.35" lengthAdjust="spacingAndGlyphs" fill="#000" font-family='"Liberation Sans", sans-serif' class="b">Prediction value = 1.0</text>
<text x="118.8" y="333.61" font-size="7.7" text-anchor="start" textLength="99.51" lengthAdjust="spacingAndGlyphs" fill="#000" font-family='"Liberation Sans", sans-serif' class="b">Confirmed cases 2020 = 0.0</text>
</g>
<rect x="29.5" y="291.5" width="195" height="127" fill="none" stroke="#6a6a6a" stroke-width="1"/>
<line x1="29.5" y1="412.73" x2="29.5" y2="334.96" stroke="#000" stroke-opacity="0.45" stroke-width="1.0"/>
<line x1="27" y1="412.73" x2="29.5" y2="412.73" stroke="#6a6a6a" stroke-width="1"/>
<text x="25.2" y="414.93" font-size="6.3" text-anchor="end" textLength="9.38" lengthAdjust="spacingAndGlyphs" fill="#000" font-family='"Liberation Sans", sans-serif' class="t">0.0</text>
<line x1="27" y1="396.86" x2="29.5" y2="396.86" stroke="#6a6a6a" stroke-width="1"/>
<text x="25.2" y="399.06" font-size="6.3" text-anchor="end" textLength="9.38" lengthAdjust="spacingAndGlyphs" fill="#000" font-family='"Liberation Sans", sans-serif' class="t">0.1</text>
<line x1="27" y1="380.99" x2="29.5" y2="380.99" stroke="#6a6a6a" stroke-width="1"/>
<text x="25.2" y="383.19" font-size="6.3" text-anchor="end" textLength="9.38" lengthAdjust="spacingAndGlyphs" fill="#000" font-family='"Liberation Sans", sans-serif' class="t">0.2</text>
<line x1="27" y1="365.12" x2="29.5" y2="365.12" stroke="#6a6a6a" stroke-width="1"/>
<text x="25.2" y="367.32" font-size="6.3" text-anchor="end" textLength="9.38" lengthAdjust="spacingAndGlyphs" fill="#000" font-family='"Liberation Sans", sans-serif' class="t">0.3</text>
<line x1="27" y1="349.25" x2="29.5" y2="349.25" stroke="#6a6a6a" stroke-width="1"/>
<text x="25.2" y="351.45" font-size="6.3" text-anchor="end" textLength="9.38" lengthAdjust="spacingAndGlyphs" fill="#000" font-family='"Liberation Sans", sans-serif' class="t">0.4</text>
<line x1="27" y1="333.38" x2="29.5" y2="333.38" stroke="#6a6a6a" stroke-width="1"/>
<text x="25.2" y="335.58" font-size="6.3" text-anchor="end" textLength="9.38" lengthAdjust="spacingAndGlyphs" fill="#000" font-family='"Liberation Sans", sans-serif' class="t">0.5</text>
<line x1="27" y1="317.51" x2="29.5" y2="317.51" stroke="#6a6a6a" stroke-width="1"/>
<text x="25.2" y="319.71" font-size="6.3" text-anchor="end" textLength="9.38" lengthAdjust="spacingAndGlyphs" fill="#000" font-family='"Liberation Sans", sans-serif' class="t">0.6</text>
<line x1="27" y1="301.64" x2="29.5" y2="301.64" stroke="#6a6a6a" stroke-width="1"/>
<text x="25.2" y="303.84" font-size="6.3" text-anchor="end" textLength="9.38" lengthAdjust="spacingAndGlyphs" fill="#000" font-family='"Liberation Sans", sans-serif' class="t">0.7</text>
<line x1="29.5" y1="418.5" x2="29.5" y2="421" stroke="#6a6a6a" stroke-width="1"/>
<text x="29.5" y="427" font-size="6.3" text-anchor="middle" textLength="3.75" lengthAdjust="spacingAndGlyphs" fill="#000" font-family='"Liberation Sans", sans-serif' class="t">0</text>
<line x1="57.36" y1="418.5" x2="57.36" y2="421" stroke="#6a6a6a" stroke-width="1"/>
<text x="57.36" y="427" font-size="6.3" text-anchor="middle" textLength="3.75" lengthAdjust="spacingAndGlyphs" fill="#000" font-family='"Liberation Sans", sans-serif' class="t">2</text>
<line x1="85.21" y1="418.5" x2="85.21" y2="421" stroke="#6a6a6a" stroke-width="1"/>
<text x="85.21" y="427" font-size="6.3" text-anchor="middle" textLength="3.75" lengthAdjust="spacingAndGlyphs" fill="#000" font-family='"Liberation Sans", sans-serif' class="t">4</text>
<line x1="113.07" y1="418.5" x2="113.07" y2="421" stroke="#6a6a6a" stroke-width="1"/>
<text x="113.07" y="427" font-size="6.3" text-anchor="middle" textLength="3.75" lengthAdjust="spacingAndGlyphs" fill="#000" font-family='"Liberation Sans", sans-serif' class="t">6</text>
<line x1="140.93" y1="418.5" x2="140.93" y2="421" stroke="#6a6a6a" stroke-width="1"/>
<text x="140.93" y="427" font-size="6.3" text-anchor="middle" textLength="3.75" lengthAdjust="spacingAndGlyphs" fill="#000" font-family='"Liberation Sans", sans-serif' class="t">8</text>
<line x1="168.79" y1="418.5" x2="168.79" y2="421" stroke="#6a6a6a" stroke-width="1"/>
<text x="168.79" y="427" font-size="6.3" text-anchor="middle" textLength="7.51" lengthAdjust="spacingAndGlyphs" fill="#000" font-family='"Liberation Sans", sans-serif' class="t">10</text>
<line x1="196.64" y1="418.5" x2="196.64" y2="421" stroke="#6a6a6a" stroke-width="1"/>
<text x="196.64" y="427" font-size="6.3" text-anchor="middle" textLength="7.51" lengthAdjust="spacingAndGlyphs" fill="#000" font-family='"Liberation Sans", sans-serif' class="t">12</text>
<line x1="224.5" y1="418.5" x2="224.5" y2="421" stroke="#6a6a6a" stroke-width="1"/>
<text x="224.5" y="427" font-size="6.3" text-anchor="middle" textLength="7.51" lengthAdjust="spacingAndGlyphs" fill="#000" font-family='"Liberation Sans", sans-serif' class="t">14</text>
<text x="127" y="437.7" font-size="10" text-anchor="middle" textLength="149.59" lengthAdjust="spacingAndGlyphs" fill="#000" font-family='"Liberation Sans", sans-serif' class="b">Number of new cases--Arizona--</text>
<g transform="translate(12.32,355) rotate(-90)"><text x="0" y="0" font-size="10" text-anchor="middle" textLength="77.94" lengthAdjust="spacingAndGlyphs" fill="#000" font-family='"Liberation Sans", sans-serif' class="b">Probability value</text></g>
<text x="391.1" y="267.5" font-size="14" text-anchor="middle" textLength="115.63" lengthAdjust="spacingAndGlyphs" fill="#000" font-family='"Liberation Sans", sans-serif'>–Arizona– May.pdf</text>
<text x="391.1" y="461.1" font-size="14.45" text-anchor="middle" fill="#000" font-family='"Liberation Serif", serif'>(e) May</text>
<text x="394.6" y="288.4" font-size="8.2" text-anchor="middle" textLength="222.15" lengthAdjust="spacingAndGlyphs" fill="#000" font-family='"Liberation Sans", sans-serif' class="b">Modified PDF for WND using Poisson-Based Approach--May</text>
<clipPath id="clip4"><rect x="297.1" y="291.5" width="195" height="127"/></clipPath>
<g clip-path="url(#clip4)">
<circle cx="297.1" cy="378.09" r="1.8" fill="#0000ff"/>
<circle cx="304.6" cy="378.55" r="1.8" fill="#0000ff"/>
<circle cx="312.1" cy="379.89" r="1.8" fill="#0000ff"/>
<circle cx="319.6" cy="382.01" r="1.8" fill="#0000ff"/>
<circle cx="327.1" cy="384.75" r="1.8" fill="#0000ff"/>
<circle cx="334.6" cy="387.91" r="1.8" fill="#0000ff"/>
<circle cx="342.1" cy="391.29" r="1.8" fill="#0000ff"/>
<circle cx="349.6" cy="394.71" r="1.8" fill="#0000ff"/>
<circle cx="357.1" cy="397.97" r="1.8" fill="#0000ff"/>
<circle cx="364.6" cy="400.96" r="1.8" fill="#0000ff"/>
<circle cx="372.1" cy="403.6" r="1.8" fill="#0000ff"/>
<circle cx="379.6" cy="405.83" r="1.8" fill="#0000ff"/>
<circle cx="387.1" cy="407.65" r="1.8" fill="#0000ff"/>
<circle cx="394.6" cy="409.09" r="1.8" fill="#0000ff"/>
<circle cx="402.1" cy="410.19" r="1.8" fill="#0000ff"/>
<circle cx="409.6" cy="411" r="1.8" fill="#0000ff"/>
<circle cx="417.1" cy="411.59" r="1.8" fill="#0000ff"/>
<circle cx="424.6" cy="411.99" r="1.8" fill="#0000ff"/>
<circle cx="432.1" cy="412.27" r="1.8" fill="#0000ff"/>
<circle cx="439.6" cy="412.45" r="1.8" fill="#0000ff"/>
<circle cx="447.1" cy="412.56" r="1.8" fill="#0000ff"/>
<circle cx="454.6" cy="412.63" r="1.8" fill="#0000ff"/>
<circle cx="462.1" cy="412.67" r="1.8" fill="#0000ff"/>
<circle cx="469.6" cy="412.7" r="1.8" fill="#0000ff"/>
<circle cx="477.1" cy="412.71" r="1.8" fill="#0000ff"/>
<circle cx="484.6" cy="412.72" r="1.8" fill="#0000ff"/>
<circle cx="492.1" cy="412.72" r="1.8" fill="#0000ff"/>
<path d="M297.10,293.97L296.21,296.04L293.96,296.25L295.66,297.74L295.16,299.94L297.10,298.79L299.04,299.94L298.54,297.74L300.24,296.25L297.99,296.04ZM304.60,386.12L303.71,388.20L301.46,388.40L303.16,389.89L302.66,392.09L304.60,390.94L306.54,392.09L306.04,389.89L307.74,388.40L305.49,388.20ZM312.10,387.04L311.21,389.11L308.96,389.32L310.66,390.81L310.16,393.01L312.10,391.86L314.04,393.01L313.54,390.81L315.24,389.32L312.99,389.11ZM319.60,388.48L318.71,390.55L316.46,390.76L318.16,392.25L317.66,394.45L319.60,393.30L321.54,394.45L321.04,392.25L322.74,390.76L320.49,390.55ZM327.10,390.35L326.21,392.42L323.96,392.63L325.66,394.12L325.16,396.32L327.10,395.17L329.04,396.32L328.54,394.12L330.24,392.63L327.99,392.42ZM334.60,392.51L333.71,394.58L331.46,394.79L333.16,396.27L332.66,398.48L334.60,397.32L336.54,398.48L336.04,396.27L337.74,394.79L335.49,394.58ZM342.10,394.81L341.21,396.89L338.96,397.09L340.66,398.58L340.16,400.78L342.10,399.63L344.04,400.78L343.54,398.58L345.24,397.09L342.99,396.89ZM349.60,397.14L348.71,399.21L346.46,399.42L348.16,400.91L347.66,403.11L349.60,401.96L351.54,403.11L351.04,400.91L352.74,399.42L350.49,399.21ZM357.10,399.37L356.21,401.44L353.96,401.65L355.66,403.14L355.16,405.34L357.10,404.19L359.04,405.34L358.54,403.14L360.24,401.65L357.99,401.44ZM364.60,401.41L363.71,403.48L361.46,403.69L363.16,405.18L362.66,407.38L364.60,406.23L366.54,407.38L366.04,405.18L367.74,403.69L365.49,403.48ZM372.10,403.20L371.21,405.27L368.96,405.48L370.66,406.97L370.16,409.17L372.10,408.02L374.04,409.17L373.54,406.97L375.24,405.48L372.99,405.27ZM379.60,404.72L378.71,406.79L376.46,407.00L378.16,408.49L377.66,410.69L379.60,409.54L381.54,410.69L381.04,408.49L382.74,407.00L380.49,406.79ZM387.10,405.97L386.21,408.04L383.96,408.25L385.66,409.73L385.16,411.93L387.10,410.78L389.04,411.93L388.54,409.73L390.24,408.25L387.99,408.04ZM394.60,406.95L393.71,409.02L391.46,409.23L393.16,410.72L392.66,412.92L394.60,411.76L396.54,412.92L396.04,410.72L397.74,409.23L395.49,409.02ZM402.10,407.70L401.21,409.77L398.96,409.98L400.66,411.47L400.16,413.67L402.10,412.51L404.04,413.67L403.54,411.47L405.24,409.98L402.99,409.77ZM409.60,408.25L408.71,410.32L406.46,410.53L408.16,412.02L407.66,414.22L409.60,413.07L411.54,414.22L411.04,412.02L412.74,410.53L410.49,410.32ZM417.10,408.65L416.21,410.72L413.96,410.93L415.66,412.42L415.16,414.62L417.10,413.47L419.04,414.62L418.54,412.42L420.24,410.93L417.99,410.72ZM424.60,408.93L423.71,411.00L421.46,411.21L423.16,412.70L422.66,414.90L424.60,413.74L426.54,414.90L426.04,412.70L427.74,411.21L425.49,411.00ZM432.10,409.11L431.21,411.19L428.96,411.39L430.66,412.88L430.16,415.08L432.10,413.93L434.04,415.08L433.54,412.88L435.24,411.39L432.99,411.19ZM439.60,409.24L438.71,411.31L436.46,411.52L438.16,413.00L437.66,415.21L439.60,414.05L441.54,415.21L441.04,413.00L442.74,411.52L440.49,411.31ZM447.10,409.31L446.21,411.39L443.96,411.59L445.66,413.08L445.16,415.28L447.10,414.13L449.04,415.28L448.54,413.08L450.24,411.59L447.99,411.39ZM454.60,409.36L453.71,411.43L451.46,411.64L453.16,413.13L452.66,415.33L454.60,414.18L456.54,415.33L456.04,413.13L457.74,411.64L455.49,411.43ZM462.10,409.39L461.21,411.46L458.96,411.67L460.66,413.16L460.16,415.36L462.10,414.21L464.04,415.36L463.54,413.16L465.24,411.67L462.99,411.46ZM469.60,409.41L468.71,411.48L466.46,411.69L468.16,413.18L467.66,415.38L469.60,414.22L471.54,415.38L471.04,413.18L472.74,411.69L470.49,411.48ZM477.10,409.42L476.21,411.49L473.96,411.70L475.66,413.19L475.16,415.39L477.10,414.23L479.04,415.39L478.54,413.19L480.24,411.70L477.99,411.49ZM484.60,409.42L483.71,411.49L481.46,411.70L483.16,413.19L482.66,415.39L484.60,414.24L486.54,415.39L486.04,413.19L487.74,411.70L485.49,411.49ZM492.10,409.42L491.21,411.50L488.96,411.70L490.66,413.19L490.16,415.39L492.10,414.24L494.04,415.39L493.54,413.19L495.24,411.70L492.99,411.50Z" fill="#ff0000" stroke="#ff0000" stroke-width="0.25" stroke-linejoin="round"/>
<line x1="312.1" y1="412.73" x2="312.1" y2="378.81" stroke="#ff0000" stroke-width="1.0"/>
<text x="419.1" y="349.7" font-size="7.7" text-anchor="middle" textLength="78.06" lengthAdjust="spacingAndGlyphs" fill="#000" font-family='"Liberation Sans", sans-serif' class="b">Score value = -0.3991</text>
<rect x="364.1" y="295.3" width="125" height="43.1" rx="1.5" fill="#fff" fill-opacity="0.8" stroke="#dcdcdc" stroke-width="0.8"/>
<circle cx="373.6" cy="301.05" r="1.8" fill="#0000ff"/>
<path d="M373.60,307.95L372.71,310.02L370.46,310.23L372.16,311.72L371.66,313.92L373.60,312.77L375.54,313.92L375.04,311.72L376.74,310.23L374.49,310.02Z" fill="#ff0000"/>
<line x1="366.4" y1="321.45" x2="381.3" y2="321.45" stroke="#ff0000" stroke-width="1.0"/>
<line x1="366.4" y1="331.55" x2="381.3" y2="331.55" stroke="#1e1e1e" stroke-width="1.0"/>
<text x="386.4" y="303.1" font-size="7.7" text-anchor="start" textLength="91.42" lengthAdjust="spacingAndGlyphs" fill="#000" font-family='"Liberation Sans", sans-serif' class="b">Poisson based distribution</text>
<text x="386.4" y="313.27" font-size="7.7" text-anchor="start" textLength="72.54" lengthAdjust="spacingAndGlyphs" fill="#000" font-family='"Liberation Sans", sans-serif' class="b">Adjusted distribution</text>
<text x="386.4" y="323.44" font-size="7.7" text-anchor="start" textLength="77.35" lengthAdjust="spacingAndGlyphs" fill="#000" font-family='"Liberation Sans", sans-serif' class="b">Prediction value = 2.0</text>
<text x="386.4" y="333.61" font-size="7.7" text-anchor="start" textLength="99.51" lengthAdjust="spacingAndGlyphs" fill="#000" font-family='"Liberation Sans", sans-serif' class="b">Confirmed cases 2020 = 0.0</text>
</g>
<rect x="297.1" y="291.5" width="195" height="127" fill="none" stroke="#6a6a6a" stroke-width="1"/>
<line x1="297.1" y1="412.73" x2="297.1" y2="378.81" stroke="#000" stroke-opacity="0.45" stroke-width="1.0"/>
<line x1="294.6" y1="412.73" x2="297.1" y2="412.73" stroke="#6a6a6a" stroke-width="1"/>
<text x="292.8" y="414.93" font-size="6.3" text-anchor="end" textLength="13.14" lengthAdjust="spacingAndGlyphs" fill="#000" font-family='"Liberation Sans", sans-serif' class="t">0.00</text>
<line x1="294.6" y1="398.3" x2="297.1" y2="398.3" stroke="#6a6a6a" stroke-width="1"/>
<text x="292.8" y="400.5" font-size="6.3" text-anchor="end" textLength="13.14" lengthAdjust="spacingAndGlyphs" fill="#000" font-family='"Liberation Sans", sans-serif' class="t">0.05</text>
<line x1="294.6" y1="383.86" x2="297.1" y2="383.86" stroke="#6a6a6a" stroke-width="1"/>
<text x="292.8" y="386.06" font-size="6.3" text-anchor="end" textLength="13.14" lengthAdjust="spacingAndGlyphs" fill="#000" font-family='"Liberation Sans", sans-serif' class="t">0.10</text>
<line x1="294.6" y1="369.43" x2="297.1" y2="369.43" stroke="#6a6a6a" stroke-width="1"/>
<text x="292.8" y="371.63" font-size="6.3" text-anchor="end" textLength="13.14" lengthAdjust="spacingAndGlyphs" fill="#000" font-family='"Liberation Sans", sans-serif' class="t">0.15</text>
<line x1="294.6" y1="355" x2="297.1" y2="355" stroke="#6a6a6a" stroke-width="1"/>
<text x="292.8" y="357.2" font-size="6.3" text-anchor="end" textLength="13.14" lengthAdjust="spacingAndGlyphs" fill="#000" font-family='"Liberation Sans", sans-serif' class="t">0.20</text>
<line x1="294.6" y1="340.57" x2="297.1" y2="340.57" stroke="#6a6a6a" stroke-width="1"/>
<text x="292.8" y="342.77" font-size="6.3" text-anchor="end" textLength="13.14" lengthAdjust="spacingAndGlyphs" fill="#000" font-family='"Liberation Sans", sans-serif' class="t">0.25</text>
<line x1="294.6" y1="326.14" x2="297.1" y2="326.14" stroke="#6a6a6a" stroke-width="1"/>
<text x="292.8" y="328.34" font-size="6.3" text-anchor="end" textLength="13.14" lengthAdjust="spacingAndGlyphs" fill="#000" font-family='"Liberation Sans", sans-serif' class="t">0.30</text>
<line x1="294.6" y1="311.7" x2="297.1" y2="311.7" stroke="#6a6a6a" stroke-width="1"/>
<text x="292.8" y="313.9" font-size="6.3" text-anchor="end" textLength="13.14" lengthAdjust="spacingAndGlyphs" fill="#000" font-family='"Liberation Sans", sans-serif' class="t">0.35</text>
<line x1="294.6" y1="297.27" x2="297.1" y2="297.27" stroke="#6a6a6a" stroke-width="1"/>
<text x="292.8" y="299.47" font-size="6.3" text-anchor="end" textLength="13.14" lengthAdjust="spacingAndGlyphs" fill="#000" font-family='"Liberation Sans", sans-serif' class="t">0.40</text>
<line x1="297.1" y1="418.5" x2="297.1" y2="421" stroke="#6a6a6a" stroke-width="1"/>
<text x="297.1" y="427" font-size="6.3" text-anchor="middle" textLength="3.75" lengthAdjust="spacingAndGlyphs" fill="#000" font-family='"Liberation Sans", sans-serif' class="t">0</text>
<line x1="334.6" y1="418.5" x2="334.6" y2="421" stroke="#6a6a6a" stroke-width="1"/>
<text x="334.6" y="427" font-size="6.3" text-anchor="middle" textLength="3.75" lengthAdjust="spacingAndGlyphs" fill="#000" font-family='"Liberation Sans", sans-serif' class="t">5</text>
<line x1="372.1" y1="418.5" x2="372.1" y2="421" stroke="#6a6a6a" stroke-width="1"/>
<text x="372.1" y="427" font-size="6.3" text-anchor="middle" textLength="7.51" lengthAdjust="spacingAndGlyphs" fill="#000" font-family='"Liberation Sans", sans-serif' class="t">10</text>
<line x1="409.6" y1="418.5" x2="409.6" y2="421" stroke="#6a6a6a" stroke-width="1"/>
<text x="409.6" y="427" font-size="6.3" text-anchor="middle" textLength="7.51" lengthAdjust="spacingAndGlyphs" fill="#000" font-family='"Liberation Sans", sans-serif' class="t">15</text>
<line x1="447.1" y1="418.5" x2="447.1" y2="421" stroke="#6a6a6a" stroke-width="1"/>
<text x="447.1" y="427" font-size="6.3" text-anchor="middle" textLength="7.51" lengthAdjust="spacingAndGlyphs" fill="#000" font-family='"Liberation Sans", sans-serif' class="t">20</text>
<line x1="484.6" y1="418.5" x2="484.6" y2="421" stroke="#6a6a6a" stroke-width="1"/>
<text x="484.6" y="427" font-size="6.3" text-anchor="middle" textLength="7.51" lengthAdjust="spacingAndGlyphs" fill="#000" font-family='"Liberation Sans", sans-serif' class="t">25</text>
<text x="394.6" y="437.7" font-size="10" text-anchor="middle" textLength="149.59" lengthAdjust="spacingAndGlyphs" fill="#000" font-family='"Liberation Sans", sans-serif' class="b">Number of new cases--Arizona--</text>
<g transform="translate(276.16,355) rotate(-90)"><text x="0" y="0" font-size="10" text-anchor="middle" textLength="77.94" lengthAdjust="spacingAndGlyphs" fill="#000" font-family='"Liberation Sans", sans-serif' class="b">Probability value</text></g>
<text x="658.7" y="267.5" font-size="14" text-anchor="middle" textLength="119.22" lengthAdjust="spacingAndGlyphs" fill="#000" font-family='"Liberation Sans", sans-serif'>–Arizona– June.pdf</text>
<text x="658.7" y="461.1" font-size="14.45" text-anchor="middle" fill="#000" font-family='"Liberation Serif", serif'>(f) June</text>
<text x="662.2" y="288.4" font-size="8.2" text-anchor="middle" textLength="223.41" lengthAdjust="spacingAndGlyphs" fill="#000" font-family='"Liberation Sans", sans-serif' class="b">Modified PDF for WND using Poisson-Based Approach--June</text>
<clipPath id="clip5"><rect x="564.7" y="291.5" width="195" height="127"/></clipPath>
<g clip-path="url(#clip5)">
<circle cx="564.7" cy="296.83" r="1.8" fill="#0000ff"/>
<circle cx="573.99" cy="321.79" r="1.8" fill="#0000ff"/>
<circle cx="583.27" cy="342.74" r="1.8" fill="#0000ff"/>
<circle cx="592.56" cy="360.13" r="1.8" fill="#0000ff"/>
<circle cx="601.84" cy="373.95" r="1.8" fill="#0000ff"/>
<circle cx="611.13" cy="385.09" r="1.8" fill="#0000ff"/>
<circle cx="620.41" cy="394.45" r="1.8" fill="#0000ff"/>
<circle cx="629.7" cy="400.69" r="1.8" fill="#0000ff"/>
<circle cx="638.99" cy="404.7" r="1.8" fill="#0000ff"/>
<circle cx="648.27" cy="407.38" r="1.8" fill="#0000ff"/>
<circle cx="657.56" cy="409.16" r="1.8" fill="#0000ff"/>
<circle cx="666.84" cy="410.5" r="1.8" fill="#0000ff"/>
<circle cx="676.13" cy="411.26" r="1.8" fill="#0000ff"/>
<circle cx="685.41" cy="411.75" r="1.8" fill="#0000ff"/>
<circle cx="694.7" cy="412.1" r="1.8" fill="#0000ff"/>
<circle cx="703.99" cy="412.33" r="1.8" fill="#0000ff"/>
<circle cx="713.27" cy="412.46" r="1.8" fill="#0000ff"/>
<circle cx="722.56" cy="412.55" r="1.8" fill="#0000ff"/>
<circle cx="731.84" cy="412.64" r="1.8" fill="#0000ff"/>
<circle cx="741.13" cy="412.68" r="1.8" fill="#0000ff"/>
<circle cx="750.41" cy="412.68" r="1.8" fill="#0000ff"/>
<circle cx="759.7" cy="412.68" r="1.8" fill="#0000ff"/>
<path d="M564.70,351.25L563.81,353.33L561.56,353.53L563.26,355.02L562.76,357.22L564.70,356.07L566.64,357.22L566.14,355.02L567.84,353.53L565.59,353.33ZM573.99,302.58L573.09,304.65L570.85,304.86L572.54,306.35L572.05,308.55L573.99,307.39L575.93,308.55L575.43,306.35L577.12,304.86L574.88,304.65ZM583.27,327.19L582.38,329.27L580.13,329.47L581.83,330.96L581.33,333.16L583.27,332.01L585.21,333.16L584.72,330.96L586.41,329.47L584.16,329.27ZM592.56,347.62L591.66,349.69L589.42,349.90L591.11,351.39L590.62,353.59L592.56,352.44L594.50,353.59L594.00,351.39L595.70,349.90L593.45,349.69ZM601.84,363.86L600.95,365.93L598.70,366.14L600.40,367.63L599.90,369.83L601.84,368.68L603.78,369.83L603.29,367.63L604.98,366.14L602.74,365.93ZM611.13,376.95L610.24,379.02L607.99,379.23L609.68,380.72L609.19,382.92L611.13,381.77L613.07,382.92L612.57,380.72L614.27,379.23L612.02,379.02ZM620.41,387.95L619.52,390.02L617.28,390.23L618.97,391.72L618.47,393.92L620.41,392.77L622.35,393.92L621.86,391.72L623.55,390.23L621.31,390.02ZM629.70,395.29L628.81,397.36L626.56,397.57L628.26,399.05L627.76,401.25L629.70,400.10L631.64,401.25L631.14,399.05L632.84,397.57L630.59,397.36ZM638.99,400.00L638.09,402.07L635.85,402.28L637.54,403.77L637.05,405.97L638.99,404.82L640.93,405.97L640.43,403.77L642.12,402.28L639.88,402.07ZM648.27,403.14L647.38,405.21L645.13,405.42L646.83,406.91L646.33,409.11L648.27,407.96L650.21,409.11L649.72,406.91L651.41,405.42L649.16,405.21ZM657.56,405.24L656.66,407.31L654.42,407.52L656.11,409.01L655.62,411.21L657.56,410.06L659.50,411.21L659.00,409.01L660.70,407.52L658.45,407.31ZM666.84,406.81L665.95,408.88L663.70,409.09L665.40,410.58L664.90,412.78L666.84,411.63L668.78,412.78L668.29,410.58L669.98,409.09L667.74,408.88ZM676.13,407.70L675.24,409.77L672.99,409.98L674.68,411.47L674.19,413.67L676.13,412.52L678.07,413.67L677.57,411.47L679.27,409.98L677.02,409.77ZM685.41,408.27L684.52,410.35L682.28,410.56L683.97,412.04L683.47,414.24L685.41,413.09L687.35,414.24L686.86,412.04L688.55,410.56L686.31,410.35ZM694.70,408.69L693.81,410.77L691.56,410.97L693.26,412.46L692.76,414.66L694.70,413.51L696.64,414.66L696.14,412.46L697.84,410.97L695.59,410.77ZM703.99,408.96L703.09,411.03L700.85,411.24L702.54,412.72L702.05,414.93L703.99,413.77L705.93,414.93L705.43,412.72L707.12,411.24L704.88,411.03ZM713.27,409.11L712.38,411.18L710.13,411.39L711.83,412.88L711.33,415.08L713.27,413.93L715.21,415.08L714.72,412.88L716.41,411.39L714.16,411.18ZM722.56,409.22L721.66,411.29L719.42,411.50L721.11,412.99L720.62,415.19L722.56,414.04L724.50,415.19L724.00,412.99L725.70,411.50L723.45,411.29ZM731.84,409.32L730.95,411.39L728.70,411.60L730.40,413.09L729.90,415.29L731.84,414.14L733.78,415.29L733.29,413.09L734.98,411.60L732.74,411.39ZM741.13,409.37L740.24,411.45L737.99,411.66L739.68,413.14L739.19,415.34L741.13,414.19L743.07,415.34L742.57,413.14L744.27,411.66L742.02,411.45ZM750.41,409.37L749.52,411.45L747.28,411.66L748.97,413.14L748.47,415.34L750.41,414.19L752.35,415.34L751.86,413.14L753.55,411.66L751.31,411.45ZM759.70,409.37L758.81,411.45L756.56,411.66L758.26,413.14L757.76,415.34L759.70,414.19L761.64,415.34L761.14,413.14L762.84,411.66L760.59,411.45Z" fill="#ff0000" stroke="#ff0000" stroke-width="0.25" stroke-linejoin="round"/>
<line x1="592.56" y1="412.73" x2="592.56" y2="297.27" stroke="#1e1e1e" stroke-width="1.0"/>
<text x="686.7" y="349.7" font-size="7.7" text-anchor="middle" textLength="78.06" lengthAdjust="spacingAndGlyphs" fill="#000" font-family='"Liberation Sans", sans-serif' class="b">Score value = -0.1339</text>
<rect x="631.7" y="295.3" width="125" height="43.1" rx="1.5" fill="#fff" fill-opacity="0.8" stroke="#dcdcdc" stroke-width="0.8"/>
<circle cx="641.2" cy="301.05" r="1.8" fill="#0000ff"/>
<path d="M641.20,307.95L640.31,310.02L638.06,310.23L639.76,311.72L639.26,313.92L641.20,312.77L643.14,313.92L642.64,311.72L644.34,310.23L642.09,310.02Z" fill="#ff0000"/>
<line x1="634" y1="321.45" x2="648.9" y2="321.45" stroke="#ff0000" stroke-width="1.0"/>
<line x1="634" y1="331.55" x2="648.9" y2="331.55" stroke="#1e1e1e" stroke-width="1.0"/>
<text x="654" y="303.1" font-size="7.7" text-anchor="start" textLength="91.42" lengthAdjust="spacingAndGlyphs" fill="#000" font-family='"Liberation Sans", sans-serif' class="b">Poisson based distribution</text>
<text x="654" y="313.27" font-size="7.7" text-anchor="start" textLength="72.54" lengthAdjust="spacingAndGlyphs" fill="#000" font-family='"Liberation Sans", sans-serif' class="b">Adjusted distribution</text>
<text x="654" y="323.44" font-size="7.7" text-anchor="start" textLength="77.35" lengthAdjust="spacingAndGlyphs" fill="#000" font-family='"Liberation Sans", sans-serif' class="b">Prediction value = 0.0</text>
<text x="654" y="333.61" font-size="7.7" text-anchor="start" textLength="99.51" lengthAdjust="spacingAndGlyphs" fill="#000" font-family='"Liberation Sans", sans-serif' class="b">Confirmed cases 2020 = 3.0</text>
</g>
<rect x="564.7" y="291.5" width="195" height="127" fill="none" stroke="#6a6a6a" stroke-width="1"/>
<line x1="564.7" y1="412.73" x2="564.7" y2="297.27" stroke="#ff0000" stroke-opacity="0.4" stroke-width="1.0"/>
<line x1="562.2" y1="412.73" x2="564.7" y2="412.73" stroke="#6a6a6a" stroke-width="1"/>
<text x="560.4" y="414.93" font-size="6.3" text-anchor="end" textLength="13.14" lengthAdjust="spacingAndGlyphs" fill="#000" font-family='"Liberation Sans", sans-serif' class="t">0.00</text>
<line x1="562.2" y1="390.44" x2="564.7" y2="390.44" stroke="#6a6a6a" stroke-width="1"/>
<text x="560.4" y="392.64" font-size="6.3" text-anchor="end" textLength="13.14" lengthAdjust="spacingAndGlyphs" fill="#000" font-family='"Liberation Sans", sans-serif' class="t">0.05</text>
<line x1="562.2" y1="368.15" x2="564.7" y2="368.15" stroke="#6a6a6a" stroke-width="1"/>
<text x="560.4" y="370.35" font-size="6.3" text-anchor="end" textLength="13.14" lengthAdjust="spacingAndGlyphs" fill="#000" font-family='"Liberation Sans", sans-serif' class="t">0.10</text>
<line x1="562.2" y1="345.86" x2="564.7" y2="345.86" stroke="#6a6a6a" stroke-width="1"/>
<text x="560.4" y="348.06" font-size="6.3" text-anchor="end" textLength="13.14" lengthAdjust="spacingAndGlyphs" fill="#000" font-family='"Liberation Sans", sans-serif' class="t">0.15</text>
<line x1="562.2" y1="323.57" x2="564.7" y2="323.57" stroke="#6a6a6a" stroke-width="1"/>
<text x="560.4" y="325.77" font-size="6.3" text-anchor="end" textLength="13.14" lengthAdjust="spacingAndGlyphs" fill="#000" font-family='"Liberation Sans", sans-serif' class="t">0.20</text>
<line x1="562.2" y1="301.28" x2="564.7" y2="301.28" stroke="#6a6a6a" stroke-width="1"/>
<text x="560.4" y="303.48" font-size="6.3" text-anchor="end" textLength="13.14" lengthAdjust="spacingAndGlyphs" fill="#000" font-family='"Liberation Sans", sans-serif' class="t">0.25</text>
<line x1="564.7" y1="418.5" x2="564.7" y2="421" stroke="#6a6a6a" stroke-width="1"/>
<text x="564.7" y="427" font-size="6.3" text-anchor="middle" textLength="9.38" lengthAdjust="spacingAndGlyphs" fill="#000" font-family='"Liberation Sans", sans-serif' class="t">0.0</text>
<line x1="587.91" y1="418.5" x2="587.91" y2="421" stroke="#6a6a6a" stroke-width="1"/>
<text x="587.91" y="427" font-size="6.3" text-anchor="middle" textLength="9.38" lengthAdjust="spacingAndGlyphs" fill="#000" font-family='"Liberation Sans", sans-serif' class="t">2.5</text>
<line x1="611.13" y1="418.5" x2="611.13" y2="421" stroke="#6a6a6a" stroke-width="1"/>
<text x="611.13" y="427" font-size="6.3" text-anchor="middle" textLength="9.38" lengthAdjust="spacingAndGlyphs" fill="#000" font-family='"Liberation Sans", sans-serif' class="t">5.0</text>
<line x1="634.34" y1="418.5" x2="634.34" y2="421" stroke="#6a6a6a" stroke-width="1"/>
<text x="634.34" y="427" font-size="6.3" text-anchor="middle" textLength="9.38" lengthAdjust="spacingAndGlyphs" fill="#000" font-family='"Liberation Sans", sans-serif' class="t">7.5</text>
<line x1="657.56" y1="418.5" x2="657.56" y2="421" stroke="#6a6a6a" stroke-width="1"/>
<text x="657.56" y="427" font-size="6.3" text-anchor="middle" textLength="13.14" lengthAdjust="spacingAndGlyphs" fill="#000" font-family='"Liberation Sans", sans-serif' class="t">10.0</text>
<line x1="680.77" y1="418.5" x2="680.77" y2="421" stroke="#6a6a6a" stroke-width="1"/>
<text x="680.77" y="427" font-size="6.3" text-anchor="middle" textLength="13.14" lengthAdjust="spacingAndGlyphs" fill="#000" font-family='"Liberation Sans", sans-serif' class="t">12.5</text>
<line x1="703.99" y1="418.5" x2="703.99" y2="421" stroke="#6a6a6a" stroke-width="1"/>
<text x="703.99" y="427" font-size="6.3" text-anchor="middle" textLength="13.14" lengthAdjust="spacingAndGlyphs" fill="#000" font-family='"Liberation Sans", sans-serif' class="t">15.0</text>
<line x1="727.2" y1="418.5" x2="727.2" y2="421" stroke="#6a6a6a" stroke-width="1"/>
<text x="727.2" y="427" font-size="6.3" text-anchor="middle" textLength="13.14" lengthAdjust="spacingAndGlyphs" fill="#000" font-family='"Liberation Sans", sans-serif' class="t">17.5</text>
<line x1="750.41" y1="418.5" x2="750.41" y2="421" stroke="#6a6a6a" stroke-width="1"/>
<text x="750.41" y="427" font-size="6.3" text-anchor="middle" textLength="13.14" lengthAdjust="spacingAndGlyphs" fill="#000" font-family='"Liberation Sans", sans-serif' class="t">20.0</text>
<text x="662.2" y="437.7" font-size="10" text-anchor="middle" textLength="149.59" lengthAdjust="spacingAndGlyphs" fill="#000" font-family='"Liberation Sans", sans-serif' class="b">Number of new cases--Arizona--</text>
<g transform="translate(543.76,355) rotate(-90)"><text x="0" y="0" font-size="10" text-anchor="middle" textLength="77.94" lengthAdjust="spacingAndGlyphs" fill="#000" font-family='"Liberation Sans", sans-serif' class="b">Probability value</text></g>
<text x="123.5" y="493.5" font-size="14" text-anchor="middle" textLength="114.16" lengthAdjust="spacingAndGlyphs" fill="#000" font-family='"Liberation Sans", sans-serif'>–Arizona– July.pdf</text>
<text x="123.5" y="687.1" font-size="14.45" text-anchor="middle" fill="#000" font-family='"Liberation Serif", serif'>(g) July</text>
<text x="127" y="514.4" font-size="8.2" text-anchor="middle" textLength="220.54" lengthAdjust="spacingAndGlyphs" fill="#000" font-family='"Liberation Sans", sans-serif' class="b">Modified PDF for WND using Poisson-Based Approach--July</text>
<clipPath id="clip6"><rect x="29.5" y="517.5" width="195" height="127"/></clipPath>
<g clip-path="url(#clip6)">
<circle cx="29.5" cy="529.97" r="1.8" fill="#0000ff"/>
<circle cx="33.93" cy="529.59" r="1.8" fill="#0000ff"/>
<circle cx="38.36" cy="529.97" r="1.8" fill="#0000ff"/>
<circle cx="42.8" cy="531.31" r="1.8" fill="#0000ff"/>
<circle cx="47.23" cy="532.27" r="1.8" fill="#0000ff"/>
<circle cx="51.66" cy="534.76" r="1.8" fill="#0000ff"/>
<circle cx="56.09" cy="537.82" r="1.8" fill="#0000ff"/>
<circle cx="60.52" cy="541.65" r="1.8" fill="#0000ff"/>
<circle cx="64.95" cy="546.06" r="1.8" fill="#0000ff"/>
<circle cx="69.39" cy="548.74" r="1.8" fill="#0000ff"/>
<circle cx="73.82" cy="553.72" r="1.8" fill="#0000ff"/>
<circle cx="78.25" cy="559.27" r="1.8" fill="#0000ff"/>
<circle cx="82.68" cy="564.63" r="1.8" fill="#0000ff"/>
<circle cx="87.11" cy="567.5" r="1.8" fill="#0000ff"/>
<circle cx="91.55" cy="573.44" r="1.8" fill="#0000ff"/>
<circle cx="95.98" cy="579.18" r="1.8" fill="#0000ff"/>
<circle cx="100.41" cy="584.93" r="1.8" fill="#0000ff"/>
<circle cx="104.84" cy="587.61" r="1.8" fill="#0000ff"/>
<circle cx="109.27" cy="592.97" r="1.8" fill="#0000ff"/>
<circle cx="113.7" cy="597.94" r="1.8" fill="#0000ff"/>
<circle cx="118.14" cy="602.92" r="1.8" fill="#0000ff"/>
<circle cx="122.57" cy="605.22" r="1.8" fill="#0000ff"/>
<circle cx="127" cy="609.62" r="1.8" fill="#0000ff"/>
<circle cx="131.43" cy="613.26" r="1.8" fill="#0000ff"/>
<circle cx="135.86" cy="616.9" r="1.8" fill="#0000ff"/>
<circle cx="140.3" cy="618.81" r="1.8" fill="#0000ff"/>
<circle cx="144.73" cy="621.3" r="1.8" fill="#0000ff"/>
<circle cx="149.16" cy="624.94" r="1.8" fill="#0000ff"/>
<circle cx="153.59" cy="627.05" r="1.8" fill="#0000ff"/>
<circle cx="158.02" cy="628.2" r="1.8" fill="#0000ff"/>
<circle cx="162.45" cy="629.73" r="1.8" fill="#0000ff"/>
<circle cx="166.89" cy="631.3" r="1.8" fill="#0000ff"/>
<circle cx="171.32" cy="632.6" r="1.8" fill="#0000ff"/>
<circle cx="175.75" cy="633.53" r="1.8" fill="#0000ff"/>
<circle cx="180.18" cy="634.32" r="1.8" fill="#0000ff"/>
<circle cx="184.61" cy="635.05" r="1.8" fill="#0000ff"/>
<circle cx="189.05" cy="635.66" r="1.8" fill="#0000ff"/>
<circle cx="193.48" cy="636.19" r="1.8" fill="#0000ff"/>
<circle cx="197.91" cy="636.62" r="1.8" fill="#0000ff"/>
<circle cx="202.34" cy="637.05" r="1.8" fill="#0000ff"/>
<circle cx="206.77" cy="637.39" r="1.8" fill="#0000ff"/>
<circle cx="211.2" cy="637.56" r="1.8" fill="#0000ff"/>
<circle cx="215.64" cy="637.71" r="1.8" fill="#0000ff"/>
<circle cx="220.07" cy="637.85" r="1.8" fill="#0000ff"/>
<circle cx="224.5" cy="637.96" r="1.8" fill="#0000ff"/>
<path d="M29.50,581.63L28.61,583.70L26.36,583.91L28.06,585.39L27.56,587.59L29.50,586.44L31.44,587.59L30.94,585.39L32.64,583.91L30.39,583.70ZM33.93,523.45L33.04,525.53L30.79,525.73L32.49,527.22L31.99,529.42L33.93,528.27L35.87,529.42L35.38,527.22L37.07,525.73L34.82,525.53ZM38.36,523.85L37.47,525.92L35.23,526.13L36.92,527.62L36.42,529.82L38.36,528.66L40.30,529.82L39.81,527.62L41.50,526.13L39.26,525.92ZM42.80,525.22L41.90,527.29L39.66,527.50L41.35,528.99L40.86,531.19L42.80,530.04L44.74,531.19L44.24,528.99L45.93,527.50L43.69,527.29ZM47.23,526.20L46.34,528.28L44.09,528.48L45.78,529.97L45.29,532.17L47.23,531.02L49.17,532.17L48.67,529.97L50.37,528.48L48.12,528.28ZM51.66,528.76L50.77,530.83L48.52,531.04L50.22,532.53L49.72,534.73L51.66,533.58L53.60,534.73L53.10,532.53L54.80,531.04L52.55,530.83ZM56.09,531.90L55.20,533.97L52.95,534.18L54.65,535.67L54.15,537.87L56.09,536.72L58.03,537.87L57.53,535.67L59.23,534.18L56.98,533.97ZM60.52,535.83L59.63,537.90L57.38,538.11L59.08,539.60L58.58,541.80L60.52,540.65L62.46,541.80L61.97,539.60L63.66,538.11L61.41,537.90ZM64.95,540.35L64.06,542.42L61.82,542.63L63.51,544.12L63.01,546.32L64.95,545.17L66.89,546.32L66.40,544.12L68.09,542.63L65.85,542.42ZM69.39,543.10L68.49,545.17L66.25,545.38L67.94,546.87L67.45,549.07L69.39,547.92L71.33,549.07L70.83,546.87L72.52,545.38L70.28,545.17ZM73.82,548.21L72.93,550.28L70.68,550.49L72.37,551.97L71.88,554.18L73.82,553.02L75.76,554.18L75.26,551.97L76.96,550.49L74.71,550.28ZM78.25,553.90L77.36,555.97L75.11,556.18L76.81,557.67L76.31,559.87L78.25,558.72L80.19,559.87L79.69,557.67L81.39,556.18L79.14,555.97ZM82.68,559.40L81.79,561.47L79.54,561.68L81.24,563.17L80.74,565.37L82.68,564.22L84.62,565.37L84.13,563.17L85.82,561.68L83.57,561.47ZM87.11,562.35L86.22,564.42L83.98,564.63L85.67,566.12L85.17,568.32L87.11,567.17L89.05,568.32L88.56,566.12L90.25,564.63L88.01,564.42ZM91.55,568.44L90.65,570.51L88.41,570.72L90.10,572.21L89.61,574.41L91.55,573.26L93.49,574.41L92.99,572.21L94.68,570.72L92.44,570.51ZM95.98,574.33L95.09,576.40L92.84,576.61L94.53,578.10L94.04,580.30L95.98,579.15L97.92,580.30L97.42,578.10L99.12,576.61L96.87,576.40ZM100.41,580.23L99.52,582.30L97.27,582.51L98.97,584.00L98.47,586.20L100.41,585.04L102.35,586.20L101.85,584.00L103.55,582.51L101.30,582.30ZM104.84,582.98L103.95,585.05L101.70,585.26L103.40,586.75L102.90,588.95L104.84,587.79L106.78,588.95L106.28,586.75L107.98,585.26L105.73,585.05ZM109.27,588.48L108.38,590.55L106.13,590.76L107.83,592.25L107.33,594.45L109.27,593.29L111.21,594.45L110.72,592.25L112.41,590.76L110.16,590.55ZM113.70,593.58L112.81,595.66L110.57,595.86L112.26,597.35L111.76,599.55L113.70,598.40L115.64,599.55L115.15,597.35L116.84,595.86L114.60,595.66ZM118.14,598.69L117.24,600.76L115.00,600.97L116.69,602.46L116.20,604.66L118.14,603.51L120.08,604.66L119.58,602.46L121.27,600.97L119.03,600.76ZM122.57,601.05L121.68,603.12L119.43,603.33L121.12,604.82L120.63,607.02L122.57,605.87L124.51,607.02L124.01,604.82L125.71,603.33L123.46,603.12ZM127.00,605.57L126.11,607.64L123.86,607.85L125.56,609.34L125.06,611.54L127.00,610.39L128.94,611.54L128.44,609.34L130.14,607.85L127.89,607.64ZM131.43,609.30L130.54,611.37L128.29,611.58L129.99,613.07L129.49,615.27L131.43,614.12L133.37,615.27L132.88,613.07L134.57,611.58L132.32,611.37ZM135.86,613.03L134.97,615.10L132.73,615.31L134.42,616.80L133.92,619.00L135.86,617.85L137.80,619.00L137.31,616.80L139.00,615.31L136.76,615.10ZM140.30,615.00L139.40,617.07L137.16,617.28L138.85,618.77L138.36,620.97L140.30,619.81L142.24,620.97L141.74,618.77L143.43,617.28L141.19,617.07ZM144.73,617.55L143.84,619.62L141.59,619.83L143.28,621.32L142.79,623.52L144.73,622.37L146.67,623.52L146.17,621.32L147.87,619.83L145.62,619.62ZM149.16,621.28L148.27,623.36L146.02,623.56L147.72,625.05L147.22,627.25L149.16,626.10L151.10,627.25L150.60,625.05L152.30,623.56L150.05,623.36ZM153.59,623.44L152.70,625.52L150.45,625.72L152.15,627.21L151.65,629.41L153.59,628.26L155.53,629.41L155.03,627.21L156.73,625.72L154.48,625.52ZM158.02,624.62L157.13,626.69L154.88,626.90L156.58,628.39L156.08,630.59L158.02,629.44L159.96,630.59L159.47,628.39L161.16,626.90L158.91,626.69ZM162.45,626.19L161.56,628.27L159.32,628.47L161.01,629.96L160.51,632.16L162.45,631.01L164.39,632.16L163.90,629.96L165.59,628.47L163.35,628.27ZM166.89,627.81L165.99,629.88L163.75,630.09L165.44,631.58L164.95,633.78L166.89,632.63L168.83,633.78L168.33,631.58L170.02,630.09L167.78,629.88ZM171.32,629.14L170.43,631.21L168.18,631.42L169.87,632.91L169.38,635.11L171.32,633.96L173.26,635.11L172.76,632.91L174.46,631.42L172.21,631.21ZM175.75,630.10L174.86,632.17L172.61,632.38L174.31,633.87L173.81,636.07L175.75,634.92L177.69,636.07L177.19,633.87L178.89,632.38L176.64,632.17ZM180.18,630.91L179.29,632.98L177.04,633.19L178.74,634.68L178.24,636.88L180.18,635.73L182.12,636.88L181.63,634.68L183.32,633.19L181.07,632.98ZM184.61,631.66L183.72,633.73L181.48,633.94L183.17,635.43L182.67,637.63L184.61,636.48L186.55,637.63L186.06,635.43L187.75,633.94L185.51,633.73ZM189.05,632.28L188.15,634.36L185.91,634.56L187.60,636.05L187.11,638.25L189.05,637.10L190.99,638.25L190.49,636.05L192.18,634.56L189.94,634.36ZM193.48,632.82L192.59,634.89L190.34,635.10L192.03,636.59L191.54,638.79L193.48,637.64L195.42,638.79L194.92,636.59L196.62,635.10L194.37,634.89ZM197.91,633.27L197.02,635.34L194.77,635.55L196.47,637.04L195.97,639.24L197.91,638.08L199.85,639.24L199.35,637.04L201.05,635.55L198.80,635.34ZM202.34,633.70L201.45,635.78L199.20,635.98L200.90,637.47L200.40,639.67L202.34,638.52L204.28,639.67L203.78,637.47L205.48,635.98L203.23,635.78ZM206.77,634.05L205.88,636.12L203.63,636.33L205.33,637.82L204.83,640.02L206.77,638.87L208.71,640.02L208.22,637.82L209.91,636.33L207.66,636.12ZM211.20,634.23L210.31,636.30L208.07,636.51L209.76,638.00L209.26,640.20L211.20,639.05L213.14,640.20L212.65,638.00L214.34,636.51L212.10,636.30ZM215.64,634.39L214.74,636.46L212.50,636.67L214.19,638.16L213.70,640.36L215.64,639.21L217.58,640.36L217.08,638.16L218.77,636.67L216.53,636.46ZM220.07,634.52L219.18,636.60L216.93,636.80L218.62,638.29L218.13,640.49L220.07,639.34L222.01,640.49L221.51,638.29L223.21,636.80L220.96,636.60ZM224.50,634.64L223.61,636.71L221.36,636.92L223.06,638.41L222.56,640.61L224.50,639.46L226.44,640.61L225.94,638.41L227.64,636.92L225.39,636.71Z" fill="#ff0000" stroke="#ff0000" stroke-width="0.25" stroke-linejoin="round"/>
<line x1="42.8" y1="638.73" x2="42.8" y2="523.27" stroke="#ff0000" stroke-width="1.0"/>
<line x1="38.36" y1="638.73" x2="38.36" y2="523.27" stroke="#1e1e1e" stroke-width="1.0"/>
<text x="151.5" y="575.7" font-size="7.7" text-anchor="middle" textLength="73.62" lengthAdjust="spacingAndGlyphs" fill="#000" font-family='"Liberation Sans", sans-serif' class="b">Score value = -0.542</text>
<rect x="96.5" y="521.3" width="125" height="43.1" rx="1.5" fill="#fff" fill-opacity="0.8" stroke="#dcdcdc" stroke-width="0.8"/>
<circle cx="106" cy="527.05" r="1.8" fill="#0000ff"/>
<path d="M106.00,533.95L105.11,536.02L102.86,536.23L104.56,537.72L104.06,539.92L106.00,538.77L107.94,539.92L107.44,537.72L109.14,536.23L106.89,536.02Z" fill="#ff0000"/>
<line x1="98.8" y1="547.45" x2="113.7" y2="547.45" stroke="#ff0000" stroke-width="1.0"/>
<line x1="98.8" y1="557.55" x2="113.7" y2="557.55" stroke="#1e1e1e" stroke-width="1.0"/>
<text x="118.8" y="529.1" font-size="7.7" text-anchor="start" textLength="91.42" lengthAdjust="spacingAndGlyphs" fill="#000" font-family='"Liberation Sans", sans-serif' class="b">Poisson based distribution</text>
<text x="118.8" y="539.27" font-size="7.7" text-anchor="start" textLength="72.54" lengthAdjust="spacingAndGlyphs" fill="#000" font-family='"Liberation Sans", sans-serif' class="b">Adjusted distribution</text>
<text x="118.8" y="549.44" font-size="7.7" text-anchor="start" textLength="77.35" lengthAdjust="spacingAndGlyphs" fill="#000" font-family='"Liberation Sans", sans-serif' class="b">Prediction value = 3.0</text>
<text x="118.8" y="559.61" font-size="7.7" text-anchor="start" textLength="99.51" lengthAdjust="spacingAndGlyphs" fill="#000" font-family='"Liberation Sans", sans-serif' class="b">Confirmed cases 2020 = 2.0</text>
</g>
<rect x="29.5" y="517.5" width="195" height="127" fill="none" stroke="#6a6a6a" stroke-width="1"/>
<line x1="27" y1="638.73" x2="29.5" y2="638.73" stroke="#6a6a6a" stroke-width="1"/>
<text x="25.2" y="640.93" font-size="6.3" text-anchor="end" textLength="13.14" lengthAdjust="spacingAndGlyphs" fill="#000" font-family='"Liberation Sans", sans-serif' class="t">0.00</text>
<line x1="27" y1="619.58" x2="29.5" y2="619.58" stroke="#6a6a6a" stroke-width="1"/>
<text x="25.2" y="621.78" font-size="6.3" text-anchor="end" textLength="13.14" lengthAdjust="spacingAndGlyphs" fill="#000" font-family='"Liberation Sans", sans-serif' class="t">0.01</text>
<line x1="27" y1="600.43" x2="29.5" y2="600.43" stroke="#6a6a6a" stroke-width="1"/>
<text x="25.2" y="602.63" font-size="6.3" text-anchor="end" textLength="13.14" lengthAdjust="spacingAndGlyphs" fill="#000" font-family='"Liberation Sans", sans-serif' class="t">0.02</text>
<line x1="27" y1="581.29" x2="29.5" y2="581.29" stroke="#6a6a6a" stroke-width="1"/>
<text x="25.2" y="583.49" font-size="6.3" text-anchor="end" textLength="13.14" lengthAdjust="spacingAndGlyphs" fill="#000" font-family='"Liberation Sans", sans-serif' class="t">0.03</text>
<line x1="27" y1="562.14" x2="29.5" y2="562.14" stroke="#6a6a6a" stroke-width="1"/>
<text x="25.2" y="564.34" font-size="6.3" text-anchor="end" textLength="13.14" lengthAdjust="spacingAndGlyphs" fill="#000" font-family='"Liberation Sans", sans-serif' class="t">0.04</text>
<line x1="27" y1="542.99" x2="29.5" y2="542.99" stroke="#6a6a6a" stroke-width="1"/>
<text x="25.2" y="545.19" font-size="6.3" text-anchor="end" textLength="13.14" lengthAdjust="spacingAndGlyphs" fill="#000" font-family='"Liberation Sans", sans-serif' class="t">0.05</text>
<line x1="27" y1="523.85" x2="29.5" y2="523.85" stroke="#6a6a6a" stroke-width="1"/>
<text x="25.2" y="526.05" font-size="6.3" text-anchor="end" textLength="13.14" lengthAdjust="spacingAndGlyphs" fill="#000" font-family='"Liberation Sans", sans-serif' class="t">0.06</text>
<line x1="29.5" y1="644.5" x2="29.5" y2="647" stroke="#6a6a6a" stroke-width="1"/>
<text x="29.5" y="653" font-size="6.3" text-anchor="middle" textLength="3.75" lengthAdjust="spacingAndGlyphs" fill="#000" font-family='"Liberation Sans", sans-serif' class="t">0</text>
<line x1="51.66" y1="644.5" x2="51.66" y2="647" stroke="#6a6a6a" stroke-width="1"/>
<text x="51.66" y="653" font-size="6.3" text-anchor="middle" textLength="3.75" lengthAdjust="spacingAndGlyphs" fill="#000" font-family='"Liberation Sans", sans-serif' class="t">5</text>
<line x1="73.82" y1="644.5" x2="73.82" y2="647" stroke="#6a6a6a" stroke-width="1"/>
<text x="73.82" y="653" font-size="6.3" text-anchor="middle" textLength="7.51" lengthAdjust="spacingAndGlyphs" fill="#000" font-family='"Liberation Sans", sans-serif' class="t">10</text>
<line x1="95.98" y1="644.5" x2="95.98" y2="647" stroke="#6a6a6a" stroke-width="1"/>
<text x="95.98" y="653" font-size="6.3" text-anchor="middle" textLength="7.51" lengthAdjust="spacingAndGlyphs" fill="#000" font-family='"Liberation Sans", sans-serif' class="t">15</text>
<line x1="118.14" y1="644.5" x2="118.14" y2="647" stroke="#6a6a6a" stroke-width="1"/>
<text x="118.14" y="653" font-size="6.3" text-anchor="middle" textLength="7.51" lengthAdjust="spacingAndGlyphs" fill="#000" font-family='"Liberation Sans", sans-serif' class="t">20</text>
<line x1="140.3" y1="644.5" x2="140.3" y2="647" stroke="#6a6a6a" stroke-width="1"/>
<text x="140.3" y="653" font-size="6.3" text-anchor="middle" textLength="7.51" lengthAdjust="spacingAndGlyphs" fill="#000" font-family='"Liberation Sans", sans-serif' class="t">25</text>
<line x1="162.45" y1="644.5" x2="162.45" y2="647" stroke="#6a6a6a" stroke-width="1"/>
<text x="162.45" y="653" font-size="6.3" text-anchor="middle" textLength="7.51" lengthAdjust="spacingAndGlyphs" fill="#000" font-family='"Liberation Sans", sans-serif' class="t">30</text>
<line x1="184.61" y1="644.5" x2="184.61" y2="647" stroke="#6a6a6a" stroke-width="1"/>
<text x="184.61" y="653" font-size="6.3" text-anchor="middle" textLength="7.51" lengthAdjust="spacingAndGlyphs" fill="#000" font-family='"Liberation Sans", sans-serif' class="t">35</text>
<line x1="206.77" y1="644.5" x2="206.77" y2="647" stroke="#6a6a6a" stroke-width="1"/>
<text x="206.77" y="653" font-size="6.3" text-anchor="middle" textLength="7.51" lengthAdjust="spacingAndGlyphs" fill="#000" font-family='"Liberation Sans", sans-serif' class="t">40</text>
<text x="127" y="663.7" font-size="10" text-anchor="middle" textLength="149.59" lengthAdjust="spacingAndGlyphs" fill="#000" font-family='"Liberation Sans", sans-serif' class="b">Number of new cases--Arizona--</text>
<g transform="translate(8.56,581) rotate(-90)"><text x="0" y="0" font-size="10" text-anchor="middle" textLength="77.94" lengthAdjust="spacingAndGlyphs" fill="#000" font-family='"Liberation Sans", sans-serif' class="b">Probability value</text></g>
<text x="391.1" y="493.5" font-size="14" text-anchor="middle" textLength="133.43" lengthAdjust="spacingAndGlyphs" fill="#000" font-family='"Liberation Sans", sans-serif'>–Arizona– August.pdf</text>
<text x="391.1" y="687.1" font-size="14.45" text-anchor="middle" fill="#000" font-family='"Liberation Serif", serif'>(h) August</text>
<text x="394.6" y="514.4" font-size="8.2" text-anchor="middle" textLength="232.81" lengthAdjust="spacingAndGlyphs" fill="#000" font-family='"Liberation Sans", sans-serif' class="b">Modified PDF for WND using Poisson-Based Approach--August</text>
<clipPath id="clip7"><rect x="297.1" y="517.5" width="195" height="127"/></clipPath>
<g clip-path="url(#clip7)">
<circle cx="297.1" cy="543.95" r="1.8" fill="#0000ff"/>
<circle cx="300.65" cy="541.08" r="1.8" fill="#0000ff"/>
<circle cx="304.19" cy="539.07" r="1.8" fill="#0000ff"/>
<circle cx="307.74" cy="536.77" r="1.8" fill="#0000ff"/>
<circle cx="311.28" cy="534.76" r="1.8" fill="#0000ff"/>
<circle cx="314.83" cy="533.04" r="1.8" fill="#0000ff"/>
<circle cx="318.37" cy="531.31" r="1.8" fill="#0000ff"/>
<circle cx="321.92" cy="530.17" r="1.8" fill="#0000ff"/>
<circle cx="325.46" cy="530.17" r="1.8" fill="#0000ff"/>
<circle cx="329.01" cy="531.31" r="1.8" fill="#0000ff"/>
<circle cx="332.55" cy="531.89" r="1.8" fill="#0000ff"/>
<circle cx="336.1" cy="533.32" r="1.8" fill="#0000ff"/>
<circle cx="339.65" cy="534.76" r="1.8" fill="#0000ff"/>
<circle cx="343.19" cy="536.77" r="1.8" fill="#0000ff"/>
<circle cx="346.74" cy="541.08" r="1.8" fill="#0000ff"/>
<circle cx="350.28" cy="543.95" r="1.8" fill="#0000ff"/>
<circle cx="353.83" cy="546.82" r="1.8" fill="#0000ff"/>
<circle cx="357.37" cy="550.27" r="1.8" fill="#0000ff"/>
<circle cx="360.92" cy="554" r="1.8" fill="#0000ff"/>
<circle cx="364.46" cy="556.59" r="1.8" fill="#0000ff"/>
<circle cx="368.01" cy="560.9" r="1.8" fill="#0000ff"/>
<circle cx="371.55" cy="564.63" r="1.8" fill="#0000ff"/>
<circle cx="375.1" cy="571.52" r="1.8" fill="#0000ff"/>
<circle cx="378.65" cy="575.26" r="1.8" fill="#0000ff"/>
<circle cx="382.19" cy="578.7" r="1.8" fill="#0000ff"/>
<circle cx="385.74" cy="582.15" r="1.8" fill="#0000ff"/>
<circle cx="389.28" cy="585.88" r="1.8" fill="#0000ff"/>
<circle cx="392.83" cy="589.33" r="1.8" fill="#0000ff"/>
<circle cx="396.37" cy="593.64" r="1.8" fill="#0000ff"/>
<circle cx="399.92" cy="599.96" r="1.8" fill="#0000ff"/>
<circle cx="403.46" cy="604.6" r="1.8" fill="#0000ff"/>
<circle cx="407.01" cy="607.42" r="1.8" fill="#0000ff"/>
<circle cx="410.55" cy="610.01" r="1.8" fill="#0000ff"/>
<circle cx="414.1" cy="612.69" r="1.8" fill="#0000ff"/>
<circle cx="417.65" cy="615.13" r="1.8" fill="#0000ff"/>
<circle cx="421.19" cy="617.68" r="1.8" fill="#0000ff"/>
<circle cx="424.74" cy="619.96" r="1.8" fill="#0000ff"/>
<circle cx="428.28" cy="624.23" r="1.8" fill="#0000ff"/>
<circle cx="431.83" cy="626.5" r="1.8" fill="#0000ff"/>
<circle cx="435.37" cy="627.85" r="1.8" fill="#0000ff"/>
<circle cx="438.92" cy="629.06" r="1.8" fill="#0000ff"/>
<circle cx="442.46" cy="630.6" r="1.8" fill="#0000ff"/>
<circle cx="446.01" cy="631.9" r="1.8" fill="#0000ff"/>
<circle cx="449.55" cy="633.16" r="1.8" fill="#0000ff"/>
<circle cx="453.1" cy="634.18" r="1.8" fill="#0000ff"/>
<circle cx="456.65" cy="634.95" r="1.8" fill="#0000ff"/>
<circle cx="460.19" cy="635.6" r="1.8" fill="#0000ff"/>
<circle cx="463.74" cy="636.06" r="1.8" fill="#0000ff"/>
<circle cx="467.28" cy="636.45" r="1.8" fill="#0000ff"/>
<circle cx="470.83" cy="636.93" r="1.8" fill="#0000ff"/>
<circle cx="474.37" cy="637.31" r="1.8" fill="#0000ff"/>
<circle cx="477.92" cy="637.44" r="1.8" fill="#0000ff"/>
<circle cx="481.46" cy="637.57" r="1.8" fill="#0000ff"/>
<circle cx="485.01" cy="637.68" r="1.8" fill="#0000ff"/>
<circle cx="488.55" cy="637.78" r="1.8" fill="#0000ff"/>
<circle cx="492.1" cy="637.87" r="1.8" fill="#0000ff"/>
<path d="M297.10,588.33L296.21,590.40L293.96,590.61L295.66,592.10L295.16,594.30L297.10,593.14L299.04,594.30L298.54,592.10L300.24,590.61L297.99,590.40ZM300.65,536.80L299.75,538.87L297.51,539.08L299.20,540.57L298.71,542.77L300.65,541.62L302.59,542.77L302.09,540.57L303.78,539.08L301.54,538.87ZM304.19,534.77L303.30,536.84L301.05,537.05L302.75,538.54L302.25,540.74L304.19,539.59L306.13,540.74L305.63,538.54L307.33,537.05L305.08,536.84ZM307.74,532.45L306.84,534.52L304.60,534.73L306.29,536.22L305.80,538.42L307.74,537.27L309.68,538.42L309.18,536.22L310.87,534.73L308.63,534.52ZM311.28,530.42L310.39,532.49L308.14,532.70L309.84,534.19L309.34,536.39L311.28,535.24L313.22,536.39L312.73,534.19L314.42,532.70L312.17,532.49ZM314.83,528.68L313.94,530.75L311.69,530.96L313.38,532.45L312.89,534.65L314.83,533.50L316.77,534.65L316.27,532.45L317.97,530.96L315.72,530.75ZM318.37,526.94L317.48,529.01L315.23,529.22L316.93,530.71L316.43,532.91L318.37,531.76L320.31,532.91L319.82,530.71L321.51,529.22L319.26,529.01ZM321.92,525.78L321.03,527.85L318.78,528.06L320.47,529.55L319.98,531.75L321.92,530.60L323.86,531.75L323.36,529.55L325.06,528.06L322.81,527.85ZM325.46,525.78L324.57,527.85L322.33,528.06L324.02,529.55L323.52,531.75L325.46,530.60L327.40,531.75L326.91,529.55L328.60,528.06L326.36,527.85ZM329.01,526.94L328.12,529.01L325.87,529.22L327.57,530.71L327.07,532.91L329.01,531.76L330.95,532.91L330.45,530.71L332.15,529.22L329.90,529.01ZM332.55,527.52L331.66,529.59L329.42,529.80L331.11,531.29L330.61,533.49L332.55,532.34L334.49,533.49L334.00,531.29L335.69,529.80L333.45,529.59ZM336.10,528.97L335.21,531.04L332.96,531.25L334.66,532.74L334.16,534.94L336.10,533.79L338.04,534.94L337.54,532.74L339.24,531.25L336.99,531.04ZM339.65,530.42L338.75,532.49L336.51,532.70L338.20,534.19L337.71,536.39L339.65,535.24L341.59,536.39L341.09,534.19L342.78,532.70L340.54,532.49ZM343.19,532.45L342.30,534.52L340.05,534.73L341.75,536.22L341.25,538.42L343.19,537.27L345.13,538.42L344.63,536.22L346.33,534.73L344.08,534.52ZM346.74,536.80L345.84,538.87L343.60,539.08L345.29,540.57L344.80,542.77L346.74,541.62L348.68,542.77L348.18,540.57L349.87,539.08L347.63,538.87ZM350.28,539.70L349.39,541.78L347.14,541.98L348.84,543.47L348.34,545.67L350.28,544.52L352.22,545.67L351.73,543.47L353.42,541.98L351.17,541.78ZM353.83,542.60L352.94,544.68L350.69,544.88L352.38,546.37L351.89,548.57L353.83,547.42L355.77,548.57L355.27,546.37L356.97,544.88L354.72,544.68ZM357.37,546.08L356.48,548.16L354.23,548.37L355.93,549.85L355.43,552.05L357.37,550.90L359.31,552.05L358.82,549.85L360.51,548.37L358.26,548.16ZM360.92,549.86L360.03,551.93L357.78,552.14L359.47,553.63L358.98,555.83L360.92,554.67L362.86,555.83L362.36,553.63L364.06,552.14L361.81,551.93ZM364.46,552.47L363.57,554.54L361.33,554.75L363.02,556.24L362.52,558.44L364.46,557.28L366.40,558.44L365.91,556.24L367.60,554.75L365.36,554.54ZM368.01,556.82L367.12,558.89L364.87,559.10L366.57,560.59L366.07,562.79L368.01,561.64L369.95,562.79L369.45,560.59L371.15,559.10L368.90,558.89ZM371.55,560.59L370.66,562.66L368.42,562.87L370.11,564.36L369.61,566.56L371.55,565.41L373.49,566.56L373.00,564.36L374.69,562.87L372.45,562.66ZM375.10,567.55L374.21,569.62L371.96,569.83L373.66,571.32L373.16,573.52L375.10,572.37L377.04,573.52L376.54,571.32L378.24,569.83L375.99,569.62ZM378.65,571.32L377.75,573.39L375.51,573.60L377.20,575.09L376.71,577.29L378.65,576.14L380.59,577.29L380.09,575.09L381.78,573.60L379.54,573.39ZM382.19,574.80L381.30,576.87L379.05,577.08L380.75,578.57L380.25,580.77L382.19,579.62L384.13,580.77L383.63,578.57L385.33,577.08L383.08,576.87ZM385.74,578.28L384.84,580.35L382.60,580.56L384.29,582.05L383.80,584.25L385.74,583.10L387.68,584.25L387.18,582.05L388.87,580.56L386.63,580.35ZM389.28,582.05L388.39,584.13L386.14,584.33L387.84,585.82L387.34,588.02L389.28,586.87L391.22,588.02L390.73,585.82L392.42,584.33L390.17,584.13ZM392.83,585.53L391.94,587.61L389.69,587.82L391.38,589.30L390.89,591.50L392.83,590.35L394.77,591.50L394.27,589.30L395.97,587.82L393.72,587.61ZM396.37,589.89L395.48,591.96L393.23,592.17L394.93,593.65L394.43,595.86L396.37,594.70L398.31,595.86L397.82,593.65L399.51,592.17L397.26,591.96ZM399.92,596.27L399.03,598.34L396.78,598.55L398.47,600.04L397.98,602.24L399.92,601.09L401.86,602.24L401.36,600.04L403.06,598.55L400.81,598.34ZM403.46,600.96L402.57,603.04L400.33,603.24L402.02,604.73L401.52,606.93L403.46,605.78L405.40,606.93L404.91,604.73L406.60,603.24L404.36,603.04ZM407.01,603.81L406.12,605.88L403.87,606.09L405.57,607.58L405.07,609.78L407.01,608.63L408.95,609.78L408.45,607.58L410.15,606.09L407.90,605.88ZM410.55,606.42L409.66,608.49L407.42,608.70L409.11,610.19L408.61,612.39L410.55,611.24L412.49,612.39L412.00,610.19L413.69,608.70L411.45,608.49ZM414.10,609.13L413.21,611.20L410.96,611.41L412.66,612.90L412.16,615.10L414.10,613.95L416.04,615.10L415.54,612.90L417.24,611.41L414.99,611.20ZM417.65,611.59L416.75,613.66L414.51,613.87L416.20,615.36L415.71,617.56L417.65,616.41L419.59,617.56L419.09,615.36L420.78,613.87L418.54,613.66ZM421.19,614.17L420.30,616.25L418.05,616.45L419.75,617.94L419.25,620.14L421.19,618.99L423.13,620.14L422.63,617.94L424.33,616.45L422.08,616.25ZM424.74,616.47L423.84,618.54L421.60,618.75L423.29,620.24L422.80,622.44L424.74,621.29L426.68,622.44L426.18,620.24L427.87,618.75L425.63,618.54ZM428.28,620.78L427.39,622.85L425.14,623.06L426.84,624.55L426.34,626.75L428.28,625.60L430.22,626.75L429.73,624.55L431.42,623.06L429.17,622.85ZM431.83,623.08L430.94,625.15L428.69,625.36L430.38,626.85L429.89,629.05L431.83,627.90L433.77,629.05L433.27,626.85L434.97,625.36L432.72,625.15ZM435.37,624.45L434.48,626.52L432.23,626.73L433.93,628.21L433.43,630.42L435.37,629.26L437.31,630.42L436.82,628.21L438.51,626.73L436.26,626.52ZM438.92,625.66L438.03,627.73L435.78,627.94L437.47,629.43L436.98,631.63L438.92,630.48L440.86,631.63L440.36,629.43L442.06,627.94L439.81,627.73ZM442.46,627.22L441.57,629.30L439.33,629.50L441.02,630.99L440.52,633.19L442.46,632.04L444.40,633.19L443.91,630.99L445.60,629.50L443.36,629.30ZM446.01,628.53L445.12,630.61L442.87,630.81L444.57,632.30L444.07,634.50L446.01,633.35L447.95,634.50L447.45,632.30L449.15,630.81L446.90,630.61ZM449.55,629.80L448.66,631.87L446.42,632.08L448.11,633.57L447.61,635.77L449.55,634.62L451.49,635.77L451.00,633.57L452.69,632.08L450.45,631.87ZM453.10,630.83L452.21,632.90L449.96,633.11L451.66,634.60L451.16,636.80L453.10,635.65L455.04,636.80L454.54,634.60L456.24,633.11L453.99,632.90ZM456.65,631.62L455.75,633.69L453.51,633.90L455.20,635.39L454.71,637.59L456.65,636.44L458.59,637.59L458.09,635.39L459.78,633.90L457.54,633.69ZM460.19,632.27L459.30,634.34L457.05,634.55L458.75,636.04L458.25,638.24L460.19,637.09L462.13,638.24L461.63,636.04L463.33,634.55L461.08,634.34ZM463.74,632.73L462.84,634.81L460.60,635.01L462.29,636.50L461.80,638.70L463.74,637.55L465.68,638.70L465.18,636.50L466.87,635.01L464.63,634.81ZM467.28,633.13L466.39,635.20L464.14,635.41L465.84,636.90L465.34,639.10L467.28,637.95L469.22,639.10L468.73,636.90L470.42,635.41L468.17,635.20ZM470.83,633.61L469.94,635.68L467.69,635.89L469.38,637.38L468.89,639.58L470.83,638.43L472.77,639.58L472.27,637.38L473.97,635.89L471.72,635.68ZM474.37,633.99L473.48,636.06L471.23,636.27L472.93,637.76L472.43,639.96L474.37,638.81L476.31,639.96L475.82,637.76L477.51,636.27L475.26,636.06ZM477.92,634.13L477.03,636.20L474.78,636.41L476.47,637.90L475.98,640.10L477.92,638.95L479.86,640.10L479.36,637.90L481.06,636.41L478.81,636.20ZM481.46,634.26L480.57,636.33L478.33,636.54L480.02,638.03L479.52,640.23L481.46,639.07L483.40,640.23L482.91,638.03L484.60,636.54L482.36,636.33ZM485.01,634.37L484.12,636.44L481.87,636.65L483.57,638.14L483.07,640.34L485.01,639.19L486.95,640.34L486.45,638.14L488.15,636.65L485.90,636.44ZM488.55,634.47L487.66,636.54L485.42,636.75L487.11,638.24L486.61,640.44L488.55,639.29L490.49,640.44L490.00,638.24L491.69,636.75L489.45,636.54ZM492.10,634.57L491.21,636.64L488.96,636.85L490.66,638.33L490.16,640.54L492.10,639.38L494.04,640.54L493.54,638.33L495.24,636.85L492.99,636.64Z" fill="#ff0000" stroke="#ff0000" stroke-width="0.25" stroke-linejoin="round"/>
<line x1="332.55" y1="638.73" x2="332.55" y2="523.27" stroke="#ff0000" stroke-width="1.0"/>
<text x="419.1" y="575.7" font-size="7.7" text-anchor="middle" textLength="78.06" lengthAdjust="spacingAndGlyphs" fill="#000" font-family='"Liberation Sans", sans-serif' class="b">Score value = -1.7825</text>
<rect x="364.1" y="521.3" width="125" height="43.1" rx="1.5" fill="#fff" fill-opacity="0.8" stroke="#dcdcdc" stroke-width="0.8"/>
<circle cx="373.6" cy="527.05" r="1.8" fill="#0000ff"/>
<path d="M373.60,533.95L372.71,536.02L370.46,536.23L372.16,537.72L371.66,539.92L373.60,538.77L375.54,539.92L375.04,537.72L376.74,536.23L374.49,536.02Z" fill="#ff0000"/>
<line x1="366.4" y1="547.45" x2="381.3" y2="547.45" stroke="#ff0000" stroke-width="1.0"/>
<line x1="366.4" y1="557.55" x2="381.3" y2="557.55" stroke="#1e1e1e" stroke-width="1.0"/>
<text x="386.4" y="529.1" font-size="7.7" text-anchor="start" textLength="91.42" lengthAdjust="spacingAndGlyphs" fill="#000" font-family='"Liberation Sans", sans-serif' class="b">Poisson based distribution</text>
<text x="386.4" y="539.27" font-size="7.7" text-anchor="start" textLength="72.54" lengthAdjust="spacingAndGlyphs" fill="#000" font-family='"Liberation Sans", sans-serif' class="b">Adjusted distribution</text>
<text x="386.4" y="549.44" font-size="7.7" text-anchor="start" textLength="81.79" lengthAdjust="spacingAndGlyphs" fill="#000" font-family='"Liberation Sans", sans-serif' class="b">Prediction value = 10.0</text>
<text x="386.4" y="559.61" font-size="7.7" text-anchor="start" textLength="99.51" lengthAdjust="spacingAndGlyphs" fill="#000" font-family='"Liberation Sans", sans-serif' class="b">Confirmed cases 2020 = 0.0</text>
</g>
<rect x="297.1" y="517.5" width="195" height="127" fill="none" stroke="#6a6a6a" stroke-width="1"/>
<line x1="297.1" y1="638.73" x2="297.1" y2="523.27" stroke="#000" stroke-opacity="0.45" stroke-width="1.0"/>
<line x1="294.6" y1="638.73" x2="297.1" y2="638.73" stroke="#6a6a6a" stroke-width="1"/>
<text x="292.8" y="640.93" font-size="6.3" text-anchor="end" textLength="16.89" lengthAdjust="spacingAndGlyphs" fill="#000" font-family='"Liberation Sans", sans-serif' class="t">0.000</text>
<line x1="294.6" y1="624.37" x2="297.1" y2="624.37" stroke="#6a6a6a" stroke-width="1"/>
<text x="292.8" y="626.57" font-size="6.3" text-anchor="end" textLength="16.89" lengthAdjust="spacingAndGlyphs" fill="#000" font-family='"Liberation Sans", sans-serif' class="t">0.005</text>
<line x1="294.6" y1="610.01" x2="297.1" y2="610.01" stroke="#6a6a6a" stroke-width="1"/>
<text x="292.8" y="612.21" font-size="6.3" text-anchor="end" textLength="16.89" lengthAdjust="spacingAndGlyphs" fill="#000" font-family='"Liberation Sans", sans-serif' class="t">0.010</text>
<line x1="294.6" y1="595.65" x2="297.1" y2="595.65" stroke="#6a6a6a" stroke-width="1"/>
<text x="292.8" y="597.85" font-size="6.3" text-anchor="end" textLength="16.89" lengthAdjust="spacingAndGlyphs" fill="#000" font-family='"Liberation Sans", sans-serif' class="t">0.015</text>
<line x1="294.6" y1="581.29" x2="297.1" y2="581.29" stroke="#6a6a6a" stroke-width="1"/>
<text x="292.8" y="583.49" font-size="6.3" text-anchor="end" textLength="16.89" lengthAdjust="spacingAndGlyphs" fill="#000" font-family='"Liberation Sans", sans-serif' class="t">0.020</text>
<line x1="294.6" y1="566.93" x2="297.1" y2="566.93" stroke="#6a6a6a" stroke-width="1"/>
<text x="292.8" y="569.13" font-size="6.3" text-anchor="end" textLength="16.89" lengthAdjust="spacingAndGlyphs" fill="#000" font-family='"Liberation Sans", sans-serif' class="t">0.025</text>
<line x1="294.6" y1="552.57" x2="297.1" y2="552.57" stroke="#6a6a6a" stroke-width="1"/>
<text x="292.8" y="554.77" font-size="6.3" text-anchor="end" textLength="16.89" lengthAdjust="spacingAndGlyphs" fill="#000" font-family='"Liberation Sans", sans-serif' class="t">0.030</text>
<line x1="294.6" y1="538.21" x2="297.1" y2="538.21" stroke="#6a6a6a" stroke-width="1"/>
<text x="292.8" y="540.41" font-size="6.3" text-anchor="end" textLength="16.89" lengthAdjust="spacingAndGlyphs" fill="#000" font-family='"Liberation Sans", sans-serif' class="t">0.035</text>
<line x1="294.6" y1="523.85" x2="297.1" y2="523.85" stroke="#6a6a6a" stroke-width="1"/>
<text x="292.8" y="526.05" font-size="6.3" text-anchor="end" textLength="16.89" lengthAdjust="spacingAndGlyphs" fill="#000" font-family='"Liberation Sans", sans-serif' class="t">0.040</text>
<line x1="297.1" y1="644.5" x2="297.1" y2="647" stroke="#6a6a6a" stroke-width="1"/>
<text x="297.1" y="653" font-size="6.3" text-anchor="middle" textLength="3.75" lengthAdjust="spacingAndGlyphs" fill="#000" font-family='"Liberation Sans", sans-serif' class="t">0</text>
<line x1="332.55" y1="644.5" x2="332.55" y2="647" stroke="#6a6a6a" stroke-width="1"/>
<text x="332.55" y="653" font-size="6.3" text-anchor="middle" textLength="7.51" lengthAdjust="spacingAndGlyphs" fill="#000" font-family='"Liberation Sans", sans-serif' class="t">10</text>
<line x1="368.01" y1="644.5" x2="368.01" y2="647" stroke="#6a6a6a" stroke-width="1"/>
<text x="368.01" y="653" font-size="6.3" text-anchor="middle" textLength="7.51" lengthAdjust="spacingAndGlyphs" fill="#000" font-family='"Liberation Sans", sans-serif' class="t">20</text>
<line x1="403.46" y1="644.5" x2="403.46" y2="647" stroke="#6a6a6a" stroke-width="1"/>
<text x="403.46" y="653" font-size="6.3" text-anchor="middle" textLength="7.51" lengthAdjust="spacingAndGlyphs" fill="#000" font-family='"Liberation Sans", sans-serif' class="t">30</text>
<line x1="438.92" y1="644.5" x2="438.92" y2="647" stroke="#6a6a6a" stroke-width="1"/>
<text x="438.92" y="653" font-size="6.3" text-anchor="middle" textLength="7.51" lengthAdjust="spacingAndGlyphs" fill="#000" font-family='"Liberation Sans", sans-serif' class="t">40</text>
<line x1="474.37" y1="644.5" x2="474.37" y2="647" stroke="#6a6a6a" stroke-width="1"/>
<text x="474.37" y="653" font-size="6.3" text-anchor="middle" textLength="7.51" lengthAdjust="spacingAndGlyphs" fill="#000" font-family='"Liberation Sans", sans-serif' class="t">50</text>
<text x="394.6" y="663.7" font-size="10" text-anchor="middle" textLength="149.59" lengthAdjust="spacingAndGlyphs" fill="#000" font-family='"Liberation Sans", sans-serif' class="b">Number of new cases--Arizona--</text>
<g transform="translate(272.41,581) rotate(-90)"><text x="0" y="0" font-size="10" text-anchor="middle" textLength="77.94" lengthAdjust="spacingAndGlyphs" fill="#000" font-family='"Liberation Sans", sans-serif' class="b">Probability value</text></g>
<text x="658.7" y="493.5" font-size="14" text-anchor="middle" textLength="155.93" lengthAdjust="spacingAndGlyphs" fill="#000" font-family='"Liberation Sans", sans-serif'>–Arizona– September.pdf</text>
<text x="658.7" y="687.1" font-size="14.45" text-anchor="middle" fill="#000" font-family='"Liberation Serif", serif'>(i) September</text>
<text x="662.2" y="514.4" font-size="8.2" text-anchor="middle" textLength="248.31" lengthAdjust="spacingAndGlyphs" fill="#000" font-family='"Liberation Sans", sans-serif' class="b">Modified PDF for WND using Poisson-Based Approach--September</text>
<clipPath id="clip8"><rect x="564.7" y="517.5" width="195" height="127"/></clipPath>
<g clip-path="url(#clip8)">
<circle cx="564.7" cy="530.74" r="1.8" fill="#0000ff"/>
<circle cx="568.12" cy="527.87" r="1.8" fill="#0000ff"/>
<circle cx="571.54" cy="527.01" r="1.8" fill="#0000ff"/>
<circle cx="574.96" cy="526.72" r="1.8" fill="#0000ff"/>
<circle cx="578.38" cy="526.43" r="1.8" fill="#0000ff"/>
<circle cx="581.81" cy="526.43" r="1.8" fill="#0000ff"/>
<circle cx="585.23" cy="527.01" r="1.8" fill="#0000ff"/>
<circle cx="588.65" cy="528.16" r="1.8" fill="#0000ff"/>
<circle cx="592.07" cy="530.45" r="1.8" fill="#0000ff"/>
<circle cx="595.49" cy="532.46" r="1.8" fill="#0000ff"/>
<circle cx="598.91" cy="533.9" r="1.8" fill="#0000ff"/>
<circle cx="602.33" cy="535.91" r="1.8" fill="#0000ff"/>
<circle cx="605.75" cy="538.21" r="1.8" fill="#0000ff"/>
<circle cx="609.17" cy="541.08" r="1.8" fill="#0000ff"/>
<circle cx="612.59" cy="543.95" r="1.8" fill="#0000ff"/>
<circle cx="616.02" cy="546.82" r="1.8" fill="#0000ff"/>
<circle cx="619.44" cy="552.57" r="1.8" fill="#0000ff"/>
<circle cx="622.86" cy="555.73" r="1.8" fill="#0000ff"/>
<circle cx="626.28" cy="558.89" r="1.8" fill="#0000ff"/>
<circle cx="629.7" cy="562.91" r="1.8" fill="#0000ff"/>
<circle cx="633.12" cy="566.35" r="1.8" fill="#0000ff"/>
<circle cx="636.54" cy="569.8" r="1.8" fill="#0000ff"/>
<circle cx="639.96" cy="573.53" r="1.8" fill="#0000ff"/>
<circle cx="643.38" cy="580.74" r="1.8" fill="#0000ff"/>
<circle cx="646.81" cy="584.5" r="1.8" fill="#0000ff"/>
<circle cx="650.23" cy="587.49" r="1.8" fill="#0000ff"/>
<circle cx="653.65" cy="590.48" r="1.8" fill="#0000ff"/>
<circle cx="657.07" cy="594.24" r="1.8" fill="#0000ff"/>
<circle cx="660.49" cy="597.2" r="1.8" fill="#0000ff"/>
<circle cx="663.91" cy="599.44" r="1.8" fill="#0000ff"/>
<circle cx="667.33" cy="603.2" r="1.8" fill="#0000ff"/>
<circle cx="670.75" cy="608.43" r="1.8" fill="#0000ff"/>
<circle cx="674.17" cy="611.44" r="1.8" fill="#0000ff"/>
<circle cx="677.59" cy="614.43" r="1.8" fill="#0000ff"/>
<circle cx="681.02" cy="616.68" r="1.8" fill="#0000ff"/>
<circle cx="684.44" cy="619.67" r="1.8" fill="#0000ff"/>
<circle cx="687.86" cy="621.92" r="1.8" fill="#0000ff"/>
<circle cx="691.28" cy="624.9" r="1.8" fill="#0000ff"/>
<circle cx="694.7" cy="626.39" r="1.8" fill="#0000ff"/>
<circle cx="698.12" cy="627.89" r="1.8" fill="#0000ff"/>
<circle cx="701.54" cy="629.41" r="1.8" fill="#0000ff"/>
<circle cx="704.96" cy="630.6" r="1.8" fill="#0000ff"/>
<circle cx="708.38" cy="631.63" r="1.8" fill="#0000ff"/>
<circle cx="711.81" cy="632.44" r="1.8" fill="#0000ff"/>
<circle cx="715.23" cy="633.15" r="1.8" fill="#0000ff"/>
<circle cx="718.65" cy="633.94" r="1.8" fill="#0000ff"/>
<circle cx="722.07" cy="634.62" r="1.8" fill="#0000ff"/>
<circle cx="725.49" cy="635.27" r="1.8" fill="#0000ff"/>
<circle cx="728.91" cy="635.83" r="1.8" fill="#0000ff"/>
<circle cx="732.33" cy="636.14" r="1.8" fill="#0000ff"/>
<circle cx="735.75" cy="636.42" r="1.8" fill="#0000ff"/>
<circle cx="739.17" cy="636.82" r="1.8" fill="#0000ff"/>
<circle cx="742.59" cy="637.15" r="1.8" fill="#0000ff"/>
<circle cx="746.02" cy="637.41" r="1.8" fill="#0000ff"/>
<circle cx="749.44" cy="637.63" r="1.8" fill="#0000ff"/>
<circle cx="752.86" cy="637.78" r="1.8" fill="#0000ff"/>
<circle cx="756.28" cy="637.91" r="1.8" fill="#0000ff"/>
<circle cx="759.7" cy="638.02" r="1.8" fill="#0000ff"/>
<path d="M564.70,581.43L563.81,583.51L561.56,583.71L563.26,585.20L562.76,587.40L564.70,586.25L566.64,587.40L566.14,585.20L567.84,583.71L565.59,583.51ZM568.12,522.35L567.23,524.42L564.98,524.63L566.68,526.12L566.18,528.32L568.12,527.17L570.06,528.32L569.56,526.12L571.26,524.63L569.01,524.42ZM571.54,521.47L570.65,523.54L568.40,523.75L570.10,525.24L569.60,527.44L571.54,526.29L573.48,527.44L572.99,525.24L574.68,523.75L572.43,523.54ZM574.96,521.18L574.07,523.25L571.82,523.46L573.52,524.95L573.02,527.15L574.96,526.00L576.90,527.15L576.41,524.95L578.10,523.46L575.86,523.25ZM578.38,520.89L577.49,522.96L575.25,523.17L576.94,524.66L576.44,526.86L578.38,525.70L580.32,526.86L579.83,524.66L581.52,523.17L579.28,522.96ZM581.81,520.89L580.91,522.96L578.67,523.17L580.36,524.66L579.87,526.86L581.81,525.70L583.74,526.86L583.25,524.66L584.94,523.17L582.70,522.96ZM585.23,521.47L584.33,523.54L582.09,523.75L583.78,525.24L583.29,527.44L585.23,526.29L587.17,527.44L586.67,525.24L588.36,523.75L586.12,523.54ZM588.65,522.64L587.76,524.72L585.51,524.92L587.20,526.41L586.71,528.61L588.65,527.46L590.59,528.61L590.09,526.41L591.79,524.92L589.54,524.72ZM592.07,524.99L591.18,527.06L588.93,527.27L590.62,528.76L590.13,530.96L592.07,529.81L594.01,530.96L593.51,528.76L595.21,527.27L592.96,527.06ZM595.49,527.04L594.60,529.11L592.35,529.32L594.05,530.81L593.55,533.01L595.49,531.86L597.43,533.01L596.93,530.81L598.63,529.32L596.38,529.11ZM598.91,528.50L598.02,530.57L595.77,530.78L597.47,532.27L596.97,534.47L598.91,533.32L600.85,534.47L600.35,532.27L602.05,530.78L599.80,530.57ZM602.33,530.55L601.44,532.63L599.19,532.83L600.89,534.32L600.39,536.52L602.33,535.37L604.27,536.52L603.78,534.32L605.47,532.83L603.22,532.63ZM605.75,532.90L604.86,534.97L602.61,535.18L604.31,536.67L603.81,538.87L605.75,537.71L607.69,538.87L607.20,536.67L608.89,535.18L606.64,534.97ZM609.17,535.83L608.28,537.90L606.04,538.11L607.73,539.60L607.23,541.80L609.17,540.64L611.11,541.80L610.62,539.60L612.31,538.11L610.07,537.90ZM612.59,538.76L611.70,540.83L609.46,541.04L611.15,542.52L610.66,544.73L612.59,543.57L614.53,544.73L614.04,542.52L615.73,541.04L613.49,540.83ZM616.02,541.69L615.12,543.76L612.88,543.97L614.57,545.45L614.08,547.65L616.02,546.50L617.96,547.65L617.46,545.45L619.15,543.97L616.91,543.76ZM619.44,547.54L618.54,549.62L616.30,549.82L617.99,551.31L617.50,553.51L619.44,552.36L621.38,553.51L620.88,551.31L622.58,549.82L620.33,549.62ZM622.86,550.77L621.97,552.84L619.72,553.05L621.41,554.54L620.92,556.74L622.86,555.58L624.80,556.74L624.30,554.54L626.00,553.05L623.75,552.84ZM626.28,553.99L625.39,556.06L623.14,556.27L624.84,557.76L624.34,559.96L626.28,558.81L628.22,559.96L627.72,557.76L629.42,556.27L627.17,556.06ZM629.70,558.09L628.81,560.16L626.56,560.37L628.26,561.86L627.76,564.06L629.70,562.91L631.64,564.06L631.14,561.86L632.84,560.37L630.59,560.16ZM633.12,561.61L632.23,563.68L629.98,563.89L631.68,565.37L631.18,567.58L633.12,566.42L635.06,567.58L634.56,565.37L636.26,563.89L634.01,563.68ZM636.54,565.12L635.65,567.19L633.40,567.40L635.10,568.89L634.60,571.09L636.54,569.94L638.48,571.09L637.99,568.89L639.68,567.40L637.43,567.19ZM639.96,568.93L639.07,571.00L636.82,571.21L638.52,572.70L638.02,574.90L639.96,573.75L641.90,574.90L641.41,572.70L643.10,571.21L640.86,571.00ZM643.38,576.28L642.49,578.35L640.25,578.56L641.94,580.05L641.44,582.25L643.38,581.10L645.32,582.25L644.83,580.05L646.52,578.56L644.28,578.35ZM646.81,580.12L645.91,582.19L643.67,582.40L645.36,583.89L644.87,586.09L646.81,584.94L648.74,586.09L648.25,583.89L649.94,582.40L647.70,582.19ZM650.23,583.17L649.33,585.24L647.09,585.45L648.78,586.94L648.29,589.14L650.23,587.98L652.17,589.14L651.67,586.94L653.36,585.45L651.12,585.24ZM653.65,586.21L652.76,588.28L650.51,588.49L652.20,589.98L651.71,592.18L653.65,591.03L655.59,592.18L655.09,589.98L656.79,588.49L654.54,588.28ZM657.07,590.05L656.18,592.12L653.93,592.33L655.62,593.82L655.13,596.02L657.07,594.87L659.01,596.02L658.51,593.82L660.21,592.33L657.96,592.12ZM660.49,593.07L659.60,595.14L657.35,595.35L659.05,596.84L658.55,599.04L660.49,597.89L662.43,599.04L661.93,596.84L663.63,595.35L661.38,595.14ZM663.91,595.35L663.02,597.42L660.77,597.63L662.47,599.12L661.97,601.32L663.91,600.17L665.85,601.32L665.35,599.12L667.05,597.63L664.80,597.42ZM667.33,599.19L666.44,601.26L664.19,601.47L665.89,602.96L665.39,605.16L667.33,604.01L669.27,605.16L668.78,602.96L670.47,601.47L668.22,601.26ZM670.75,604.52L669.86,606.60L667.61,606.80L669.31,608.29L668.81,610.49L670.75,609.34L672.69,610.49L672.20,608.29L673.89,606.80L671.64,606.60ZM674.17,607.60L673.28,609.67L671.04,609.88L672.73,611.37L672.23,613.57L674.17,612.42L676.11,613.57L675.62,611.37L677.31,609.88L675.07,609.67ZM677.59,610.64L676.70,612.71L674.46,612.92L676.15,614.41L675.66,616.61L677.59,615.46L679.53,616.61L679.04,614.41L680.73,612.92L678.49,612.71ZM681.02,612.94L680.12,615.01L677.88,615.22L679.57,616.71L679.08,618.91L681.02,617.76L682.96,618.91L682.46,616.71L684.15,615.22L681.91,615.01ZM684.44,615.98L683.54,618.06L681.30,618.26L682.99,619.75L682.50,621.95L684.44,620.80L686.38,621.95L685.88,619.75L687.58,618.26L685.33,618.06ZM687.86,618.28L686.97,620.35L684.72,620.56L686.41,622.05L685.92,624.25L687.86,623.10L689.80,624.25L689.30,622.05L691.00,620.56L688.75,620.35ZM691.28,621.33L690.39,623.40L688.14,623.61L689.84,625.09L689.34,627.30L691.28,626.14L693.22,627.30L692.72,625.09L694.42,623.61L692.17,623.40ZM694.70,622.85L693.81,624.92L691.56,625.13L693.26,626.62L692.76,628.82L694.70,627.67L696.64,628.82L696.14,626.62L697.84,625.13L695.59,624.92ZM698.12,624.37L697.23,626.44L694.98,626.65L696.68,628.14L696.18,630.34L698.12,629.19L700.06,630.34L699.56,628.14L701.26,626.65L699.01,626.44ZM701.54,625.92L700.65,627.99L698.40,628.20L700.10,629.69L699.60,631.89L701.54,630.74L703.48,631.89L702.99,629.69L704.68,628.20L702.43,627.99ZM704.96,627.13L704.07,629.20L701.82,629.41L703.52,630.90L703.02,633.10L704.96,631.95L706.90,633.10L706.41,630.90L708.10,629.41L705.86,629.20ZM708.38,628.19L707.49,630.26L705.25,630.47L706.94,631.96L706.44,634.16L708.38,633.01L710.32,634.16L709.83,631.96L711.52,630.47L709.28,630.26ZM711.81,629.01L710.91,631.08L708.67,631.29L710.36,632.78L709.87,634.98L711.81,633.83L713.74,634.98L713.25,632.78L714.94,631.29L712.70,631.08ZM715.23,629.74L714.33,631.81L712.09,632.02L713.78,633.51L713.29,635.71L715.23,634.56L717.17,635.71L716.67,633.51L718.36,632.02L716.12,631.81ZM718.65,630.54L717.76,632.62L715.51,632.82L717.20,634.31L716.71,636.51L718.65,635.36L720.59,636.51L720.09,634.31L721.79,632.82L719.54,632.62ZM722.07,631.23L721.18,633.31L718.93,633.51L720.62,635.00L720.13,637.20L722.07,636.05L724.01,637.20L723.51,635.00L725.21,633.51L722.96,633.31ZM725.49,631.91L724.60,633.98L722.35,634.19L724.05,635.67L723.55,637.88L725.49,636.72L727.43,637.88L726.93,635.67L728.63,634.19L726.38,633.98ZM728.91,632.47L728.02,634.54L725.77,634.75L727.47,636.24L726.97,638.44L728.91,637.29L730.85,638.44L730.35,636.24L732.05,634.75L729.80,634.54ZM732.33,632.79L731.44,634.86L729.19,635.07L730.89,636.56L730.39,638.76L732.33,637.61L734.27,638.76L733.78,636.56L735.47,635.07L733.22,634.86ZM735.75,633.07L734.86,635.14L732.61,635.35L734.31,636.84L733.81,639.04L735.75,637.89L737.69,639.04L737.20,636.84L738.89,635.35L736.64,635.14ZM739.17,633.48L738.28,635.55L736.04,635.76L737.73,637.25L737.23,639.45L739.17,638.30L741.11,639.45L740.62,637.25L742.31,635.76L740.07,635.55ZM742.59,633.82L741.70,635.89L739.46,636.10L741.15,637.59L740.66,639.79L742.59,638.64L744.53,639.79L744.04,637.59L745.73,636.10L743.49,635.89ZM746.02,634.09L745.12,636.16L742.88,636.37L744.57,637.85L744.08,640.05L746.02,638.90L747.96,640.05L747.46,637.85L749.15,636.37L746.91,636.16ZM749.44,634.31L748.54,636.38L746.30,636.59L747.99,638.08L747.50,640.28L749.44,639.13L751.38,640.28L750.88,638.08L752.58,636.59L750.33,636.38ZM752.86,634.46L751.97,636.53L749.72,636.74L751.41,638.23L750.92,640.43L752.86,639.28L754.80,640.43L754.30,638.23L756.00,636.74L753.75,636.53ZM756.28,634.59L755.39,636.67L753.14,636.87L754.84,638.36L754.34,640.56L756.28,639.41L758.22,640.56L757.72,638.36L759.42,636.87L757.17,636.67ZM759.70,634.71L758.81,636.78L756.56,636.99L758.26,638.48L757.76,640.68L759.70,639.53L761.64,640.68L761.14,638.48L762.84,636.99L760.59,636.78Z" fill="#ff0000" stroke="#ff0000" stroke-width="0.25" stroke-linejoin="round"/>
<line x1="585.23" y1="638.73" x2="585.23" y2="523.27" stroke="#ff0000" stroke-width="1.0"/>
<line x1="568.12" y1="638.73" x2="568.12" y2="523.27" stroke="#1e1e1e" stroke-width="1.0"/>
<text x="686.7" y="575.7" font-size="7.7" text-anchor="middle" textLength="78.06" lengthAdjust="spacingAndGlyphs" fill="#000" font-family='"Liberation Sans", sans-serif' class="b">Score value = -0.7038</text>
<rect x="631.7" y="521.3" width="125" height="43.1" rx="1.5" fill="#fff" fill-opacity="0.8" stroke="#dcdcdc" stroke-width="0.8"/>
<circle cx="641.2" cy="527.05" r="1.8" fill="#0000ff"/>
<path d="M641.20,533.95L640.31,536.02L638.06,536.23L639.76,537.72L639.26,539.92L641.20,538.77L643.14,539.92L642.64,537.72L644.34,536.23L642.09,536.02Z" fill="#ff0000"/>
<line x1="634" y1="547.45" x2="648.9" y2="547.45" stroke="#ff0000" stroke-width="1.0"/>
<line x1="634" y1="557.55" x2="648.9" y2="557.55" stroke="#1e1e1e" stroke-width="1.0"/>
<text x="654" y="529.1" font-size="7.7" text-anchor="start" textLength="91.42" lengthAdjust="spacingAndGlyphs" fill="#000" font-family='"Liberation Sans", sans-serif' class="b">Poisson based distribution</text>
<text x="654" y="539.27" font-size="7.7" text-anchor="start" textLength="72.54" lengthAdjust="spacingAndGlyphs" fill="#000" font-family='"Liberation Sans", sans-serif' class="b">Adjusted distribution</text>
<text x="654" y="549.44" font-size="7.7" text-anchor="start" textLength="77.35" lengthAdjust="spacingAndGlyphs" fill="#000" font-family='"Liberation Sans", sans-serif' class="b">Prediction value = 6.0</text>
<text x="654" y="559.61" font-size="7.7" text-anchor="start" textLength="99.51" lengthAdjust="spacingAndGlyphs" fill="#000" font-family='"Liberation Sans", sans-serif' class="b">Confirmed cases 2020 = 1.0</text>
</g>
<rect x="564.7" y="517.5" width="195" height="127" fill="none" stroke="#6a6a6a" stroke-width="1"/>
<line x1="562.2" y1="638.73" x2="564.7" y2="638.73" stroke="#6a6a6a" stroke-width="1"/>
<text x="560.4" y="640.93" font-size="6.3" text-anchor="end" textLength="16.89" lengthAdjust="spacingAndGlyphs" fill="#000" font-family='"Liberation Sans", sans-serif' class="t">0.000</text>
<line x1="562.2" y1="624.37" x2="564.7" y2="624.37" stroke="#6a6a6a" stroke-width="1"/>
<text x="560.4" y="626.57" font-size="6.3" text-anchor="end" textLength="16.89" lengthAdjust="spacingAndGlyphs" fill="#000" font-family='"Liberation Sans", sans-serif' class="t">0.005</text>
<line x1="562.2" y1="610.01" x2="564.7" y2="610.01" stroke="#6a6a6a" stroke-width="1"/>
<text x="560.4" y="612.21" font-size="6.3" text-anchor="end" textLength="16.89" lengthAdjust="spacingAndGlyphs" fill="#000" font-family='"Liberation Sans", sans-serif' class="t">0.010</text>
<line x1="562.2" y1="595.65" x2="564.7" y2="595.65" stroke="#6a6a6a" stroke-width="1"/>
<text x="560.4" y="597.85" font-size="6.3" text-anchor="end" textLength="16.89" lengthAdjust="spacingAndGlyphs" fill="#000" font-family='"Liberation Sans", sans-serif' class="t">0.015</text>
<line x1="562.2" y1="581.29" x2="564.7" y2="581.29" stroke="#6a6a6a" stroke-width="1"/>
<text x="560.4" y="583.49" font-size="6.3" text-anchor="end" textLength="16.89" lengthAdjust="spacingAndGlyphs" fill="#000" font-family='"Liberation Sans", sans-serif' class="t">0.020</text>
<line x1="562.2" y1="566.93" x2="564.7" y2="566.93" stroke="#6a6a6a" stroke-width="1"/>
<text x="560.4" y="569.13" font-size="6.3" text-anchor="end" textLength="16.89" lengthAdjust="spacingAndGlyphs" fill="#000" font-family='"Liberation Sans", sans-serif' class="t">0.025</text>
<line x1="562.2" y1="552.57" x2="564.7" y2="552.57" stroke="#6a6a6a" stroke-width="1"/>
<text x="560.4" y="554.77" font-size="6.3" text-anchor="end" textLength="16.89" lengthAdjust="spacingAndGlyphs" fill="#000" font-family='"Liberation Sans", sans-serif' class="t">0.030</text>
<line x1="562.2" y1="538.21" x2="564.7" y2="538.21" stroke="#6a6a6a" stroke-width="1"/>
<text x="560.4" y="540.41" font-size="6.3" text-anchor="end" textLength="16.89" lengthAdjust="spacingAndGlyphs" fill="#000" font-family='"Liberation Sans", sans-serif' class="t">0.035</text>
<line x1="562.2" y1="523.85" x2="564.7" y2="523.85" stroke="#6a6a6a" stroke-width="1"/>
<text x="560.4" y="526.05" font-size="6.3" text-anchor="end" textLength="16.89" lengthAdjust="spacingAndGlyphs" fill="#000" font-family='"Liberation Sans", sans-serif' class="t">0.040</text>
<line x1="564.7" y1="644.5" x2="564.7" y2="647" stroke="#6a6a6a" stroke-width="1"/>
<text x="564.7" y="653" font-size="6.3" text-anchor="middle" textLength="3.75" lengthAdjust="spacingAndGlyphs" fill="#000" font-family='"Liberation Sans", sans-serif' class="t">0</text>
<line x1="598.91" y1="644.5" x2="598.91" y2="647" stroke="#6a6a6a" stroke-width="1"/>
<text x="598.91" y="653" font-size="6.3" text-anchor="middle" textLength="7.51" lengthAdjust="spacingAndGlyphs" fill="#000" font-family='"Liberation Sans", sans-serif' class="t">10</text>
<line x1="633.12" y1="644.5" x2="633.12" y2="647" stroke="#6a6a6a" stroke-width="1"/>
<text x="633.12" y="653" font-size="6.3" text-anchor="middle" textLength="7.51" lengthAdjust="spacingAndGlyphs" fill="#000" font-family='"Liberation Sans", sans-serif' class="t">20</text>
<line x1="667.33" y1="644.5" x2="667.33" y2="647" stroke="#6a6a6a" stroke-width="1"/>
<text x="667.33" y="653" font-size="6.3" text-anchor="middle" textLength="7.51" lengthAdjust="spacingAndGlyphs" fill="#000" font-family='"Liberation Sans", sans-serif' class="t">30</text>
<line x1="701.54" y1="644.5" x2="701.54" y2="647" stroke="#6a6a6a" stroke-width="1"/>
<text x="701.54" y="653" font-size="6.3" text-anchor="middle" textLength="7.51" lengthAdjust="spacingAndGlyphs" fill="#000" font-family='"Liberation Sans", sans-serif' class="t">40</text>
<line x1="735.75" y1="644.5" x2="735.75" y2="647" stroke="#6a6a6a" stroke-width="1"/>
<text x="735.75" y="653" font-size="6.3" text-anchor="middle" textLength="7.51" lengthAdjust="spacingAndGlyphs" fill="#000" font-family='"Liberation Sans", sans-serif' class="t">50</text>
<text x="662.2" y="663.7" font-size="10" text-anchor="middle" textLength="149.59" lengthAdjust="spacingAndGlyphs" fill="#000" font-family='"Liberation Sans", sans-serif' class="b">Number of new cases--Arizona--</text>
<g transform="translate(540.01,581) rotate(-90)"><text x="0" y="0" font-size="10" text-anchor="middle" textLength="77.94" lengthAdjust="spacingAndGlyphs" fill="#000" font-family='"Liberation Sans", sans-serif' class="b">Probability value</text></g>
<text x="123.5" y="719.5" font-size="14" text-anchor="middle" textLength="140.12" lengthAdjust="spacingAndGlyphs" fill="#000" font-family='"Liberation Sans", sans-serif'>–Arizona– October.pdf</text>
<text x="123.5" y="913.1" font-size="14.45" text-anchor="middle" fill="#000" font-family='"Liberation Serif", serif'>(j) October</text>
<text x="127" y="740.4" font-size="8.2" text-anchor="middle" textLength="236.99" lengthAdjust="spacingAndGlyphs" fill="#000" font-family='"Liberation Sans", sans-serif' class="b">Modified PDF for WND using Poisson-Based Approach--October</text>
<clipPath id="clip9"><rect x="29.5" y="743.5" width="195" height="127"/></clipPath>
<g clip-path="url(#clip9)">
<circle cx="29.5" cy="777.74" r="1.8" fill="#0000ff"/>
<circle cx="34.38" cy="777.74" r="1.8" fill="#0000ff"/>
<circle cx="39.25" cy="778.53" r="1.8" fill="#0000ff"/>
<circle cx="44.12" cy="779.71" r="1.8" fill="#0000ff"/>
<circle cx="49" cy="781.42" r="1.8" fill="#0000ff"/>
<circle cx="53.88" cy="786.53" r="1.8" fill="#0000ff"/>
<circle cx="58.75" cy="789.81" r="1.8" fill="#0000ff"/>
<circle cx="63.62" cy="793.49" r="1.8" fill="#0000ff"/>
<circle cx="68.5" cy="797.42" r="1.8" fill="#0000ff"/>
<circle cx="73.38" cy="801.75" r="1.8" fill="#0000ff"/>
<circle cx="78.25" cy="805.82" r="1.8" fill="#0000ff"/>
<circle cx="83.12" cy="810.15" r="1.8" fill="#0000ff"/>
<circle cx="88" cy="814.61" r="1.8" fill="#0000ff"/>
<circle cx="92.88" cy="819.07" r="1.8" fill="#0000ff"/>
<circle cx="97.75" cy="823.4" r="1.8" fill="#0000ff"/>
<circle cx="102.62" cy="827.07" r="1.8" fill="#0000ff"/>
<circle cx="107.5" cy="830.88" r="1.8" fill="#0000ff"/>
<circle cx="112.38" cy="834.55" r="1.8" fill="#0000ff"/>
<circle cx="117.25" cy="837.7" r="1.8" fill="#0000ff"/>
<circle cx="122.12" cy="841.11" r="1.8" fill="#0000ff"/>
<circle cx="127" cy="844.13" r="1.8" fill="#0000ff"/>
<circle cx="131.88" cy="847.02" r="1.8" fill="#0000ff"/>
<circle cx="136.75" cy="849.47" r="1.8" fill="#0000ff"/>
<circle cx="141.62" cy="852.01" r="1.8" fill="#0000ff"/>
<circle cx="146.5" cy="853.48" r="1.8" fill="#0000ff"/>
<circle cx="151.38" cy="855.62" r="1.8" fill="#0000ff"/>
<circle cx="156.25" cy="857.1" r="1.8" fill="#0000ff"/>
<circle cx="161.12" cy="858.3" r="1.8" fill="#0000ff"/>
<circle cx="166" cy="859.37" r="1.8" fill="#0000ff"/>
<circle cx="170.88" cy="860.44" r="1.8" fill="#0000ff"/>
<circle cx="175.75" cy="861.11" r="1.8" fill="#0000ff"/>
<circle cx="180.62" cy="861.86" r="1.8" fill="#0000ff"/>
<circle cx="185.5" cy="862.45" r="1.8" fill="#0000ff"/>
<circle cx="190.38" cy="862.9" r="1.8" fill="#0000ff"/>
<circle cx="195.25" cy="863.25" r="1.8" fill="#0000ff"/>
<circle cx="200.12" cy="863.47" r="1.8" fill="#0000ff"/>
<circle cx="205" cy="863.66" r="1.8" fill="#0000ff"/>
<circle cx="209.88" cy="863.8" r="1.8" fill="#0000ff"/>
<circle cx="214.75" cy="863.92" r="1.8" fill="#0000ff"/>
<circle cx="219.62" cy="864.16" r="1.8" fill="#0000ff"/>
<circle cx="224.5" cy="864.33" r="1.8" fill="#0000ff"/>
<path d="M29.50,745.97L28.61,748.04L26.36,748.25L28.06,749.74L27.56,751.94L29.50,750.79L31.44,751.94L30.94,749.74L32.64,748.25L30.39,748.04ZM34.38,776.18L33.48,778.25L31.24,778.46L32.93,779.95L32.44,782.15L34.38,781.00L36.31,782.15L35.82,779.95L37.51,778.46L35.27,778.25ZM39.25,776.95L38.36,779.03L36.11,779.23L37.81,780.72L37.31,782.92L39.25,781.77L41.19,782.92L40.69,780.72L42.39,779.23L40.14,779.03ZM44.12,778.11L43.23,780.18L40.99,780.39L42.68,781.88L42.19,784.08L44.12,782.93L46.06,784.08L45.57,781.88L47.26,780.39L45.02,780.18ZM49.00,779.78L48.11,781.85L45.86,782.06L47.56,783.55L47.06,785.75L49.00,784.60L50.94,785.75L50.44,783.55L52.14,782.06L49.89,781.85ZM53.88,784.80L52.98,786.87L50.74,787.08L52.43,788.57L51.94,790.77L53.88,789.61L55.81,790.77L55.32,788.57L57.01,787.08L54.77,786.87ZM58.75,788.01L57.86,790.08L55.61,790.29L57.31,791.78L56.81,793.98L58.75,792.83L60.69,793.98L60.19,791.78L61.89,790.29L59.64,790.08ZM63.62,791.61L62.73,793.68L60.49,793.89L62.18,795.38L61.69,797.58L63.62,796.43L65.56,797.58L65.07,795.38L66.76,793.89L64.52,793.68ZM68.50,795.47L67.61,797.54L65.36,797.75L67.06,799.24L66.56,801.44L68.50,800.29L70.44,801.44L69.94,799.24L71.64,797.75L69.39,797.54ZM73.38,799.71L72.48,801.78L70.24,801.99L71.93,803.48L71.44,805.68L73.38,804.53L75.31,805.68L74.82,803.48L76.51,801.99L74.27,801.78ZM78.25,803.70L77.36,805.77L75.11,805.98L76.81,807.47L76.31,809.67L78.25,808.52L80.19,809.67L79.69,807.47L81.39,805.98L79.14,805.77ZM83.12,807.94L82.23,810.01L79.99,810.22L81.68,811.71L81.19,813.91L83.12,812.76L85.06,813.91L84.57,811.71L86.26,810.22L84.02,810.01ZM88.00,812.31L87.11,814.38L84.86,814.59L86.56,816.08L86.06,818.28L88.00,817.13L89.94,818.28L89.44,816.08L91.14,814.59L88.89,814.38ZM92.88,816.68L91.98,818.76L89.74,818.96L91.43,820.45L90.94,822.65L92.88,821.50L94.81,822.65L94.32,820.45L96.01,818.96L93.77,818.76ZM97.75,820.93L96.86,823.00L94.61,823.21L96.31,824.70L95.81,826.90L97.75,825.74L99.69,826.90L99.19,824.70L100.89,823.21L98.64,823.00ZM102.62,824.53L101.73,826.60L99.49,826.81L101.18,828.30L100.69,830.50L102.62,829.34L104.56,830.50L104.07,828.30L105.76,826.81L103.52,826.60ZM107.50,828.26L106.61,830.33L104.36,830.54L106.06,832.02L105.56,834.22L107.50,833.07L109.44,834.22L108.94,832.02L110.64,830.54L108.39,830.33ZM112.38,831.86L111.48,833.93L109.24,834.14L110.93,835.62L110.44,837.82L112.38,836.67L114.31,837.82L113.82,835.62L115.51,834.14L113.27,833.93ZM117.25,834.94L116.36,837.01L114.11,837.22L115.81,838.71L115.31,840.91L117.25,839.76L119.19,840.91L118.69,838.71L120.39,837.22L118.14,837.01ZM122.12,838.28L121.23,840.36L118.99,840.56L120.68,842.05L120.19,844.25L122.12,843.10L124.06,844.25L123.57,842.05L125.26,840.56L123.02,840.36ZM127.00,841.24L126.11,843.31L123.86,843.52L125.56,845.01L125.06,847.21L127.00,846.06L128.94,847.21L128.44,845.01L130.14,843.52L127.89,843.31ZM131.88,844.07L130.98,846.14L128.74,846.35L130.43,847.84L129.94,850.04L131.88,848.89L133.81,850.04L133.32,847.84L135.01,846.35L132.77,846.14ZM136.75,846.47L135.86,848.54L133.61,848.75L135.31,850.24L134.81,852.44L136.75,851.29L138.69,852.44L138.19,850.24L139.89,848.75L137.64,848.54ZM141.62,848.96L140.73,851.04L138.49,851.24L140.18,852.73L139.69,854.93L141.62,853.78L143.56,854.93L143.07,852.73L144.76,851.24L142.52,851.04ZM146.50,850.41L145.61,852.48L143.36,852.69L145.06,854.18L144.56,856.38L146.50,855.22L148.44,856.38L147.94,854.18L149.64,852.69L147.39,852.48ZM151.38,852.51L150.48,854.58L148.24,854.79L149.93,856.27L149.44,858.48L151.38,857.32L153.31,858.48L152.82,856.27L154.51,854.79L152.27,854.58ZM156.25,853.95L155.36,856.02L153.11,856.23L154.81,857.72L154.31,859.92L156.25,858.77L158.19,859.92L157.69,857.72L159.39,856.23L157.14,856.02ZM161.12,855.13L160.23,857.20L157.99,857.41L159.68,858.90L159.19,861.10L161.12,859.95L163.06,861.10L162.57,858.90L164.26,857.41L162.02,857.20ZM166.00,856.18L165.11,858.25L162.86,858.46L164.56,859.95L164.06,862.15L166.00,861.00L167.94,862.15L167.44,859.95L169.14,858.46L166.89,858.25ZM170.88,857.23L169.98,859.30L167.74,859.51L169.43,861.00L168.94,863.20L170.88,862.05L172.81,863.20L172.32,861.00L174.01,859.51L171.77,859.30ZM175.75,857.88L174.86,859.96L172.61,860.17L174.31,861.65L173.81,863.85L175.75,862.70L177.69,863.85L177.19,861.65L178.89,860.17L176.64,859.96ZM180.62,858.62L179.73,860.69L177.49,860.90L179.18,862.39L178.69,864.59L180.62,863.43L182.56,864.59L182.07,862.39L183.76,860.90L181.52,860.69ZM185.50,859.20L184.61,861.27L182.36,861.48L184.06,862.97L183.56,865.17L185.50,864.01L187.44,865.17L186.94,862.97L188.64,861.48L186.39,861.27ZM190.38,859.63L189.48,861.71L187.24,861.91L188.93,863.40L188.44,865.60L190.38,864.45L192.31,865.60L191.82,863.40L193.51,861.91L191.27,861.71ZM195.25,859.98L194.36,862.06L192.11,862.26L193.81,863.75L193.31,865.95L195.25,864.80L197.19,865.95L196.69,863.75L198.39,862.26L196.14,862.06ZM200.12,860.20L199.23,862.27L196.99,862.48L198.68,863.97L198.19,866.17L200.12,865.01L202.06,866.17L201.57,863.97L203.26,862.48L201.02,862.27ZM205.00,860.38L204.11,862.45L201.86,862.66L203.56,864.15L203.06,866.35L205.00,865.20L206.94,866.35L206.44,864.15L208.14,862.66L205.89,862.45ZM209.88,860.52L208.98,862.59L206.74,862.80L208.43,864.29L207.94,866.49L209.88,865.34L211.81,866.49L211.32,864.29L213.01,862.80L210.77,862.59ZM214.75,860.64L213.86,862.71L211.61,862.92L213.31,864.41L212.81,866.61L214.75,865.46L216.69,866.61L216.19,864.41L217.89,862.92L215.64,862.71ZM219.62,860.87L218.73,862.94L216.49,863.15L218.18,864.64L217.69,866.84L219.62,865.69L221.56,866.84L221.07,864.64L222.76,863.15L220.52,862.94ZM224.50,861.03L223.61,863.11L221.36,863.31L223.06,864.80L222.56,867.00L224.50,865.85L226.44,867.00L225.94,864.80L227.64,863.31L225.39,863.11Z" fill="#ff0000" stroke="#ff0000" stroke-width="0.25" stroke-linejoin="round"/>
<line x1="39.25" y1="864.73" x2="39.25" y2="772.23" stroke="#ff0000" stroke-width="1.0"/>
<line x1="34.38" y1="864.73" x2="34.38" y2="772.23" stroke="#1e1e1e" stroke-width="1.0"/>
<text x="151.5" y="801.7" font-size="7.7" text-anchor="middle" textLength="78.06" lengthAdjust="spacingAndGlyphs" fill="#000" font-family='"Liberation Sans", sans-serif' class="b">Score value = -0.5053</text>
<rect x="96.5" y="747.3" width="125" height="43.1" rx="1.5" fill="#fff" fill-opacity="0.8" stroke="#dcdcdc" stroke-width="0.8"/>
<circle cx="106" cy="753.05" r="1.8" fill="#0000ff"/>
<path d="M106.00,759.95L105.11,762.02L102.86,762.23L104.56,763.72L104.06,765.92L106.00,764.77L107.94,765.92L107.44,763.72L109.14,762.23L106.89,762.02Z" fill="#ff0000"/>
<line x1="98.8" y1="773.45" x2="113.7" y2="773.45" stroke="#ff0000" stroke-width="1.0"/>
<line x1="98.8" y1="783.55" x2="113.7" y2="783.55" stroke="#1e1e1e" stroke-width="1.0"/>
<text x="118.8" y="755.1" font-size="7.7" text-anchor="start" textLength="91.42" lengthAdjust="spacingAndGlyphs" fill="#000" font-family='"Liberation Sans", sans-serif' class="b">Poisson based distribution</text>
<text x="118.8" y="765.27" font-size="7.7" text-anchor="start" textLength="72.54" lengthAdjust="spacingAndGlyphs" fill="#000" font-family='"Liberation Sans", sans-serif' class="b">Adjusted distribution</text>
<text x="118.8" y="775.44" font-size="7.7" text-anchor="start" textLength="77.35" lengthAdjust="spacingAndGlyphs" fill="#000" font-family='"Liberation Sans", sans-serif' class="b">Prediction value = 2.0</text>
<text x="118.8" y="785.61" font-size="7.7" text-anchor="start" textLength="99.51" lengthAdjust="spacingAndGlyphs" fill="#000" font-family='"Liberation Sans", sans-serif' class="b">Confirmed cases 2020 = 1.0</text>
</g>
<rect x="29.5" y="743.5" width="195" height="127" fill="none" stroke="#6a6a6a" stroke-width="1"/>
<line x1="27" y1="864.73" x2="29.5" y2="864.73" stroke="#6a6a6a" stroke-width="1"/>
<text x="25.2" y="866.93" font-size="6.3" text-anchor="end" textLength="13.14" lengthAdjust="spacingAndGlyphs" fill="#000" font-family='"Liberation Sans", sans-serif' class="t">0.00</text>
<line x1="27" y1="838.49" x2="29.5" y2="838.49" stroke="#6a6a6a" stroke-width="1"/>
<text x="25.2" y="840.69" font-size="6.3" text-anchor="end" textLength="13.14" lengthAdjust="spacingAndGlyphs" fill="#000" font-family='"Liberation Sans", sans-serif' class="t">0.02</text>
<line x1="27" y1="812.25" x2="29.5" y2="812.25" stroke="#6a6a6a" stroke-width="1"/>
<text x="25.2" y="814.45" font-size="6.3" text-anchor="end" textLength="13.14" lengthAdjust="spacingAndGlyphs" fill="#000" font-family='"Liberation Sans", sans-serif' class="t">0.04</text>
<line x1="27" y1="786.01" x2="29.5" y2="786.01" stroke="#6a6a6a" stroke-width="1"/>
<text x="25.2" y="788.21" font-size="6.3" text-anchor="end" textLength="13.14" lengthAdjust="spacingAndGlyphs" fill="#000" font-family='"Liberation Sans", sans-serif' class="t">0.06</text>
<line x1="27" y1="759.77" x2="29.5" y2="759.77" stroke="#6a6a6a" stroke-width="1"/>
<text x="25.2" y="761.97" font-size="6.3" text-anchor="end" textLength="13.14" lengthAdjust="spacingAndGlyphs" fill="#000" font-family='"Liberation Sans", sans-serif' class="t">0.08</text>
<line x1="29.5" y1="870.5" x2="29.5" y2="873" stroke="#6a6a6a" stroke-width="1"/>
<text x="29.5" y="879" font-size="6.3" text-anchor="middle" textLength="3.75" lengthAdjust="spacingAndGlyphs" fill="#000" font-family='"Liberation Sans", sans-serif' class="t">0</text>
<line x1="53.88" y1="870.5" x2="53.88" y2="873" stroke="#6a6a6a" stroke-width="1"/>
<text x="53.88" y="879" font-size="6.3" text-anchor="middle" textLength="3.75" lengthAdjust="spacingAndGlyphs" fill="#000" font-family='"Liberation Sans", sans-serif' class="t">5</text>
<line x1="78.25" y1="870.5" x2="78.25" y2="873" stroke="#6a6a6a" stroke-width="1"/>
<text x="78.25" y="879" font-size="6.3" text-anchor="middle" textLength="7.51" lengthAdjust="spacingAndGlyphs" fill="#000" font-family='"Liberation Sans", sans-serif' class="t">10</text>
<line x1="102.62" y1="870.5" x2="102.62" y2="873" stroke="#6a6a6a" stroke-width="1"/>
<text x="102.62" y="879" font-size="6.3" text-anchor="middle" textLength="7.51" lengthAdjust="spacingAndGlyphs" fill="#000" font-family='"Liberation Sans", sans-serif' class="t">15</text>
<line x1="127" y1="870.5" x2="127" y2="873" stroke="#6a6a6a" stroke-width="1"/>
<text x="127" y="879" font-size="6.3" text-anchor="middle" textLength="7.51" lengthAdjust="spacingAndGlyphs" fill="#000" font-family='"Liberation Sans", sans-serif' class="t">20</text>
<line x1="151.38" y1="870.5" x2="151.38" y2="873" stroke="#6a6a6a" stroke-width="1"/>
<text x="151.38" y="879" font-size="6.3" text-anchor="middle" textLength="7.51" lengthAdjust="spacingAndGlyphs" fill="#000" font-family='"Liberation Sans", sans-serif' class="t">25</text>
<line x1="175.75" y1="870.5" x2="175.75" y2="873" stroke="#6a6a6a" stroke-width="1"/>
<text x="175.75" y="879" font-size="6.3" text-anchor="middle" textLength="7.51" lengthAdjust="spacingAndGlyphs" fill="#000" font-family='"Liberation Sans", sans-serif' class="t">30</text>
<line x1="200.12" y1="870.5" x2="200.12" y2="873" stroke="#6a6a6a" stroke-width="1"/>
<text x="200.12" y="879" font-size="6.3" text-anchor="middle" textLength="7.51" lengthAdjust="spacingAndGlyphs" fill="#000" font-family='"Liberation Sans", sans-serif' class="t">35</text>
<line x1="224.5" y1="870.5" x2="224.5" y2="873" stroke="#6a6a6a" stroke-width="1"/>
<text x="224.5" y="879" font-size="6.3" text-anchor="middle" textLength="7.51" lengthAdjust="spacingAndGlyphs" fill="#000" font-family='"Liberation Sans", sans-serif' class="t">40</text>
<text x="127" y="889.7" font-size="10" text-anchor="middle" textLength="149.59" lengthAdjust="spacingAndGlyphs" fill="#000" font-family='"Liberation Sans", sans-serif' class="b">Number of new cases--Arizona--</text>
<g transform="translate(8.56,807) rotate(-90)"><text x="0" y="0" font-size="10" text-anchor="middle" textLength="77.94" lengthAdjust="spacingAndGlyphs" fill="#000" font-family='"Liberation Sans", sans-serif' class="b">Probability value</text></g>
<text x="391.1" y="719.5" font-size="14" text-anchor="middle" textLength="152.85" lengthAdjust="spacingAndGlyphs" fill="#000" font-family='"Liberation Sans", sans-serif'>–Arizona– November.pdf</text>
<text x="391.1" y="913.1" font-size="14.45" text-anchor="middle" fill="#000" font-family='"Liberation Serif", serif'>(k) November</text>
<text x="394.6" y="740.4" font-size="8.2" text-anchor="middle" textLength="245.85" lengthAdjust="spacingAndGlyphs" fill="#000" font-family='"Liberation Sans", sans-serif' class="b">Modified PDF for WND using Poisson-Based Approach--November</text>
<clipPath id="clip10"><rect x="297.1" y="743.5" width="195" height="127"/></clipPath>
<g clip-path="url(#clip10)">
<circle cx="297.1" cy="826.62" r="1.8" fill="#0000ff"/>
<circle cx="307.36" cy="829.05" r="1.8" fill="#0000ff"/>
<circle cx="317.63" cy="838.78" r="1.8" fill="#0000ff"/>
<circle cx="327.89" cy="844.46" r="1.8" fill="#0000ff"/>
<circle cx="338.15" cy="849.81" r="1.8" fill="#0000ff"/>
<circle cx="348.42" cy="854.19" r="1.8" fill="#0000ff"/>
<circle cx="358.68" cy="857.75" r="1.8" fill="#0000ff"/>
<circle cx="368.94" cy="860.19" r="1.8" fill="#0000ff"/>
<circle cx="379.21" cy="861.97" r="1.8" fill="#0000ff"/>
<circle cx="389.47" cy="863.11" r="1.8" fill="#0000ff"/>
<circle cx="399.73" cy="863.75" r="1.8" fill="#0000ff"/>
<circle cx="409.99" cy="864.16" r="1.8" fill="#0000ff"/>
<circle cx="420.26" cy="864.4" r="1.8" fill="#0000ff"/>
<circle cx="430.52" cy="864.57" r="1.8" fill="#0000ff"/>
<circle cx="440.78" cy="864.63" r="1.8" fill="#0000ff"/>
<circle cx="451.05" cy="864.68" r="1.8" fill="#0000ff"/>
<circle cx="461.31" cy="864.69" r="1.8" fill="#0000ff"/>
<circle cx="471.57" cy="864.71" r="1.8" fill="#0000ff"/>
<circle cx="481.84" cy="864.71" r="1.8" fill="#0000ff"/>
<circle cx="492.1" cy="864.71" r="1.8" fill="#0000ff"/>
<path d="M297.10,745.16L296.21,747.23L293.96,747.44L295.66,748.93L295.16,751.13L297.10,749.98L299.04,751.13L298.54,748.93L300.24,747.44L297.99,747.23ZM307.36,848.23L306.47,850.30L304.22,850.51L305.92,852.00L305.42,854.20L307.36,853.05L309.30,854.20L308.81,852.00L310.50,850.51L308.26,850.30ZM317.63,851.83L316.73,853.90L314.49,854.11L316.18,855.60L315.69,857.80L317.63,856.65L319.57,857.80L319.07,855.60L320.76,854.11L318.52,853.90ZM327.89,853.93L327.00,856.00L324.75,856.21L326.45,857.70L325.95,859.90L327.89,858.75L329.83,859.90L329.33,857.70L331.03,856.21L328.78,856.00ZM338.15,855.91L337.26,857.98L335.01,858.19L336.71,859.68L336.21,861.88L338.15,860.73L340.09,861.88L339.60,859.68L341.29,858.19L339.04,857.98ZM348.42,857.53L347.52,859.60L345.28,859.81L346.97,861.30L346.48,863.50L348.42,862.35L350.36,863.50L349.86,861.30L351.55,859.81L349.31,859.60ZM358.68,858.85L357.79,860.92L355.54,861.13L357.24,862.62L356.74,864.82L358.68,863.67L360.62,864.82L360.12,862.62L361.82,861.13L359.57,860.92ZM368.94,859.75L368.05,861.82L365.80,862.03L367.50,863.52L367.00,865.72L368.94,864.57L370.88,865.72L370.39,863.52L372.08,862.03L369.83,861.82ZM379.21,860.41L378.31,862.48L376.07,862.69L377.76,864.18L377.27,866.38L379.21,865.23L381.14,866.38L380.65,864.18L382.34,862.69L380.10,862.48ZM389.47,860.83L388.58,862.90L386.33,863.11L388.02,864.60L387.53,866.80L389.47,865.65L391.41,866.80L390.91,864.60L392.61,863.11L390.36,862.90ZM399.73,861.07L398.84,863.14L396.59,863.35L398.29,864.84L397.79,867.04L399.73,865.89L401.67,867.04L401.18,864.84L402.87,863.35L400.62,863.14ZM409.99,861.22L409.10,863.29L406.86,863.50L408.55,864.99L408.06,867.19L409.99,866.04L411.93,867.19L411.44,864.99L413.13,863.50L410.89,863.29ZM420.26,861.31L419.37,863.38L417.12,863.59L418.81,865.08L418.32,867.28L420.26,866.13L422.20,867.28L421.70,865.08L423.40,863.59L421.15,863.38ZM430.52,861.37L429.63,863.44L427.38,863.65L429.08,865.14L428.58,867.34L430.52,866.19L432.46,867.34L431.96,865.14L433.66,863.65L431.41,863.44ZM440.78,861.39L439.89,863.46L437.65,863.67L439.34,865.16L438.84,867.36L440.78,866.21L442.72,867.36L442.23,865.16L443.92,863.67L441.68,863.46ZM451.05,861.41L450.16,863.48L447.91,863.69L449.60,865.18L449.11,867.38L451.05,866.23L452.99,867.38L452.49,865.18L454.19,863.69L451.94,863.48ZM461.31,861.42L460.42,863.49L458.17,863.70L459.87,865.18L459.37,867.39L461.31,866.23L463.25,867.39L462.75,865.18L464.45,863.70L462.20,863.49ZM471.57,861.42L470.68,863.49L468.44,863.70L470.13,865.19L469.63,867.39L471.57,866.24L473.51,867.39L473.02,865.19L474.71,863.70L472.47,863.49ZM481.84,861.42L480.94,863.49L478.70,863.70L480.39,865.19L479.90,867.39L481.84,866.24L483.78,867.39L483.28,865.19L484.98,863.70L482.73,863.49ZM492.10,861.42L491.21,863.49L488.96,863.70L490.66,865.19L490.16,867.39L492.10,866.24L494.04,867.39L493.54,865.19L495.24,863.70L492.99,863.49Z" fill="#ff0000" stroke="#ff0000" stroke-width="0.25" stroke-linejoin="round"/>
<line x1="307.36" y1="864.73" x2="307.36" y2="826.62" stroke="#ff0000" stroke-width="1.0"/>
<text x="419.1" y="801.7" font-size="7.7" text-anchor="middle" textLength="78.06" lengthAdjust="spacingAndGlyphs" fill="#000" font-family='"Liberation Sans", sans-serif' class="b">Score value = -0.1487</text>
<rect x="364.1" y="747.3" width="125" height="43.1" rx="1.5" fill="#fff" fill-opacity="0.8" stroke="#dcdcdc" stroke-width="0.8"/>
<circle cx="373.6" cy="753.05" r="1.8" fill="#0000ff"/>
<path d="M373.60,759.95L372.71,762.02L370.46,762.23L372.16,763.72L371.66,765.92L373.60,764.77L375.54,765.92L375.04,763.72L376.74,762.23L374.49,762.02Z" fill="#ff0000"/>
<line x1="366.4" y1="773.45" x2="381.3" y2="773.45" stroke="#ff0000" stroke-width="1.0"/>
<line x1="366.4" y1="783.55" x2="381.3" y2="783.55" stroke="#1e1e1e" stroke-width="1.0"/>
<text x="386.4" y="755.1" font-size="7.7" text-anchor="start" textLength="91.42" lengthAdjust="spacingAndGlyphs" fill="#000" font-family='"Liberation Sans", sans-serif' class="b">Poisson based distribution</text>
<text x="386.4" y="765.27" font-size="7.7" text-anchor="start" textLength="72.54" lengthAdjust="spacingAndGlyphs" fill="#000" font-family='"Liberation Sans", sans-serif' class="b">Adjusted distribution</text>
<text x="386.4" y="775.44" font-size="7.7" text-anchor="start" textLength="77.35" lengthAdjust="spacingAndGlyphs" fill="#000" font-family='"Liberation Sans", sans-serif' class="b">Prediction value = 1.0</text>
<text x="386.4" y="785.61" font-size="7.7" text-anchor="start" textLength="99.51" lengthAdjust="spacingAndGlyphs" fill="#000" font-family='"Liberation Sans", sans-serif' class="b">Confirmed cases 2020 = 0.0</text>
</g>
<rect x="297.1" y="743.5" width="195" height="127" fill="none" stroke="#6a6a6a" stroke-width="1"/>
<line x1="297.1" y1="864.73" x2="297.1" y2="826.62" stroke="#000" stroke-opacity="0.45" stroke-width="1.0"/>
<line x1="294.6" y1="864.73" x2="297.1" y2="864.73" stroke="#6a6a6a" stroke-width="1"/>
<text x="292.8" y="866.93" font-size="6.3" text-anchor="end" textLength="9.38" lengthAdjust="spacingAndGlyphs" fill="#000" font-family='"Liberation Sans", sans-serif' class="t">0.0</text>
<line x1="294.6" y1="848.51" x2="297.1" y2="848.51" stroke="#6a6a6a" stroke-width="1"/>
<text x="292.8" y="850.71" font-size="6.3" text-anchor="end" textLength="9.38" lengthAdjust="spacingAndGlyphs" fill="#000" font-family='"Liberation Sans", sans-serif' class="t">0.1</text>
<line x1="294.6" y1="832.3" x2="297.1" y2="832.3" stroke="#6a6a6a" stroke-width="1"/>
<text x="292.8" y="834.5" font-size="6.3" text-anchor="end" textLength="9.38" lengthAdjust="spacingAndGlyphs" fill="#000" font-family='"Liberation Sans", sans-serif' class="t">0.2</text>
<line x1="294.6" y1="816.08" x2="297.1" y2="816.08" stroke="#6a6a6a" stroke-width="1"/>
<text x="292.8" y="818.28" font-size="6.3" text-anchor="end" textLength="9.38" lengthAdjust="spacingAndGlyphs" fill="#000" font-family='"Liberation Sans", sans-serif' class="t">0.3</text>
<line x1="294.6" y1="799.87" x2="297.1" y2="799.87" stroke="#6a6a6a" stroke-width="1"/>
<text x="292.8" y="802.07" font-size="6.3" text-anchor="end" textLength="9.38" lengthAdjust="spacingAndGlyphs" fill="#000" font-family='"Liberation Sans", sans-serif' class="t">0.4</text>
<line x1="294.6" y1="783.65" x2="297.1" y2="783.65" stroke="#6a6a6a" stroke-width="1"/>
<text x="292.8" y="785.85" font-size="6.3" text-anchor="end" textLength="9.38" lengthAdjust="spacingAndGlyphs" fill="#000" font-family='"Liberation Sans", sans-serif' class="t">0.5</text>
<line x1="294.6" y1="767.43" x2="297.1" y2="767.43" stroke="#6a6a6a" stroke-width="1"/>
<text x="292.8" y="769.63" font-size="6.3" text-anchor="end" textLength="9.38" lengthAdjust="spacingAndGlyphs" fill="#000" font-family='"Liberation Sans", sans-serif' class="t">0.6</text>
<line x1="294.6" y1="751.22" x2="297.1" y2="751.22" stroke="#6a6a6a" stroke-width="1"/>
<text x="292.8" y="753.42" font-size="6.3" text-anchor="end" textLength="9.38" lengthAdjust="spacingAndGlyphs" fill="#000" font-family='"Liberation Sans", sans-serif' class="t">0.7</text>
<line x1="297.1" y1="870.5" x2="297.1" y2="873" stroke="#6a6a6a" stroke-width="1"/>
<text x="297.1" y="879" font-size="6.3" text-anchor="middle" textLength="9.38" lengthAdjust="spacingAndGlyphs" fill="#000" font-family='"Liberation Sans", sans-serif' class="t">0.0</text>
<line x1="322.76" y1="870.5" x2="322.76" y2="873" stroke="#6a6a6a" stroke-width="1"/>
<text x="322.76" y="879" font-size="6.3" text-anchor="middle" textLength="9.38" lengthAdjust="spacingAndGlyphs" fill="#000" font-family='"Liberation Sans", sans-serif' class="t">2.5</text>
<line x1="348.42" y1="870.5" x2="348.42" y2="873" stroke="#6a6a6a" stroke-width="1"/>
<text x="348.42" y="879" font-size="6.3" text-anchor="middle" textLength="9.38" lengthAdjust="spacingAndGlyphs" fill="#000" font-family='"Liberation Sans", sans-serif' class="t">5.0</text>
<line x1="374.07" y1="870.5" x2="374.07" y2="873" stroke="#6a6a6a" stroke-width="1"/>
<text x="374.07" y="879" font-size="6.3" text-anchor="middle" textLength="9.38" lengthAdjust="spacingAndGlyphs" fill="#000" font-family='"Liberation Sans", sans-serif' class="t">7.5</text>
<line x1="399.73" y1="870.5" x2="399.73" y2="873" stroke="#6a6a6a" stroke-width="1"/>
<text x="399.73" y="879" font-size="6.3" text-anchor="middle" textLength="13.14" lengthAdjust="spacingAndGlyphs" fill="#000" font-family='"Liberation Sans", sans-serif' class="t">10.0</text>
<line x1="425.39" y1="870.5" x2="425.39" y2="873" stroke="#6a6a6a" stroke-width="1"/>
<text x="425.39" y="879" font-size="6.3" text-anchor="middle" textLength="13.14" lengthAdjust="spacingAndGlyphs" fill="#000" font-family='"Liberation Sans", sans-serif' class="t">12.5</text>
<line x1="451.05" y1="870.5" x2="451.05" y2="873" stroke="#6a6a6a" stroke-width="1"/>
<text x="451.05" y="879" font-size="6.3" text-anchor="middle" textLength="13.14" lengthAdjust="spacingAndGlyphs" fill="#000" font-family='"Liberation Sans", sans-serif' class="t">15.0</text>
<line x1="476.71" y1="870.5" x2="476.71" y2="873" stroke="#6a6a6a" stroke-width="1"/>
<text x="476.71" y="879" font-size="6.3" text-anchor="middle" textLength="13.14" lengthAdjust="spacingAndGlyphs" fill="#000" font-family='"Liberation Sans", sans-serif' class="t">17.5</text>
<text x="394.6" y="889.7" font-size="10" text-anchor="middle" textLength="149.59" lengthAdjust="spacingAndGlyphs" fill="#000" font-family='"Liberation Sans", sans-serif' class="b">Number of new cases--Arizona--</text>
<g transform="translate(279.92,807) rotate(-90)"><text x="0" y="0" font-size="10" text-anchor="middle" textLength="77.94" lengthAdjust="spacingAndGlyphs" fill="#000" font-family='"Liberation Sans", sans-serif' class="b">Probability value</text></g>
<text x="658.7" y="719.5" font-size="14" text-anchor="middle" textLength="151.99" lengthAdjust="spacingAndGlyphs" fill="#000" font-family='"Liberation Sans", sans-serif'>–Arizona– December.pdf</text>
<text x="658.7" y="913.1" font-size="14.45" text-anchor="middle" fill="#000" font-family='"Liberation Serif", serif'>(l) December</text>
<text x="662.2" y="740.4" font-size="8.2" text-anchor="middle" textLength="245.73" lengthAdjust="spacingAndGlyphs" fill="#000" font-family='"Liberation Sans", sans-serif' class="b">Modified PDF for WND using Poisson-Based Approach--December</text>
<clipPath id="clip11"><rect x="564.7" y="743.5" width="195" height="127"/></clipPath>
<g clip-path="url(#clip11)">
<circle cx="564.7" cy="750.07" r="1.8" fill="#0000ff"/>
<circle cx="578.63" cy="796.4" r="1.8" fill="#0000ff"/>
<circle cx="592.56" cy="830.56" r="1.8" fill="#0000ff"/>
<circle cx="606.49" cy="849.99" r="1.8" fill="#0000ff"/>
<circle cx="620.41" cy="862.15" r="1.8" fill="#0000ff"/>
<circle cx="634.34" cy="864.03" r="1.8" fill="#0000ff"/>
<circle cx="648.27" cy="864.49" r="1.8" fill="#0000ff"/>
<circle cx="662.2" cy="864.63" r="1.8" fill="#0000ff"/>
<circle cx="676.13" cy="864.68" r="1.8" fill="#0000ff"/>
<circle cx="690.06" cy="864.7" r="1.8" fill="#0000ff"/>
<circle cx="703.99" cy="864.7" r="1.8" fill="#0000ff"/>
<circle cx="717.91" cy="864.7" r="1.8" fill="#0000ff"/>
<circle cx="731.84" cy="864.7" r="1.8" fill="#0000ff"/>
<circle cx="745.77" cy="864.7" r="1.8" fill="#0000ff"/>
<circle cx="759.7" cy="864.7" r="1.8" fill="#0000ff"/>
<path d="M564.70,746.77L563.81,748.84L561.56,749.05L563.26,750.54L562.76,752.74L564.70,751.59L566.64,752.74L566.14,750.54L567.84,749.05L565.59,748.84ZM578.63,793.10L577.74,795.17L575.49,795.38L577.18,796.87L576.69,799.07L578.63,797.92L580.57,799.07L580.07,796.87L581.77,795.38L579.52,795.17ZM592.56,827.26L591.66,829.34L589.42,829.54L591.11,831.03L590.62,833.23L592.56,832.08L594.50,833.23L594.00,831.03L595.70,829.54L593.45,829.34ZM606.49,846.69L605.59,848.76L603.35,848.97L605.04,850.45L604.55,852.66L606.49,851.50L608.43,852.66L607.93,850.45L609.62,848.97L607.38,848.76ZM620.41,858.85L619.52,860.93L617.28,861.13L618.97,862.62L618.47,864.82L620.41,863.67L622.35,864.82L621.86,862.62L623.55,861.13L621.31,860.93ZM634.34,860.73L633.45,862.80L631.20,863.01L632.90,864.49L632.40,866.70L634.34,865.54L636.28,866.70L635.79,864.49L637.48,863.01L635.24,862.80ZM648.27,861.19L647.38,863.27L645.13,863.47L646.83,864.96L646.33,867.16L648.27,866.01L650.21,867.16L649.72,864.96L651.41,863.47L649.16,863.27ZM662.20,861.33L661.31,863.41L659.06,863.61L660.76,865.10L660.26,867.30L662.20,866.15L664.14,867.30L663.64,865.10L665.34,863.61L663.09,863.41ZM676.13,861.38L675.24,863.45L672.99,863.66L674.68,865.15L674.19,867.35L676.13,866.20L678.07,867.35L677.57,865.15L679.27,863.66L677.02,863.45ZM690.06,861.40L689.16,863.48L686.92,863.68L688.61,865.17L688.12,867.37L690.06,866.22L692.00,867.37L691.50,865.17L693.20,863.68L690.95,863.48ZM703.99,861.40L703.09,863.48L700.85,863.68L702.54,865.17L702.05,867.37L703.99,866.22L705.93,867.37L705.43,865.17L707.12,863.68L704.88,863.48ZM717.91,861.40L717.02,863.48L714.78,863.68L716.47,865.17L715.97,867.37L717.91,866.22L719.85,867.37L719.36,865.17L721.05,863.68L718.81,863.48ZM731.84,861.40L730.95,863.48L728.70,863.68L730.40,865.17L729.90,867.37L731.84,866.22L733.78,867.37L733.29,865.17L734.98,863.68L732.74,863.48ZM745.77,861.40L744.88,863.48L742.63,863.68L744.33,865.17L743.83,867.37L745.77,866.22L747.71,867.37L747.22,865.17L748.91,863.68L746.66,863.48ZM759.70,861.40L758.81,863.48L756.56,863.68L758.26,865.17L757.76,867.37L759.70,866.22L761.64,867.37L761.14,865.17L762.84,863.68L760.59,863.48Z" fill="#ff0000" stroke="#ff0000" stroke-width="0.25" stroke-linejoin="round"/>
<line x1="578.63" y1="864.73" x2="578.63" y2="750.07" stroke="#ff0000" stroke-width="1.0"/>
<text x="686.7" y="801.7" font-size="7.7" text-anchor="middle" textLength="73.62" lengthAdjust="spacingAndGlyphs" fill="#000" font-family='"Liberation Sans", sans-serif' class="b">Score value = -0.312</text>
<rect x="631.7" y="747.3" width="125" height="43.1" rx="1.5" fill="#fff" fill-opacity="0.8" stroke="#dcdcdc" stroke-width="0.8"/>
<circle cx="641.2" cy="753.05" r="1.8" fill="#0000ff"/>
<path d="M641.20,759.95L640.31,762.02L638.06,762.23L639.76,763.72L639.26,765.92L641.20,764.77L643.14,765.92L642.64,763.72L644.34,762.23L642.09,762.02Z" fill="#ff0000"/>
<line x1="634" y1="773.45" x2="648.9" y2="773.45" stroke="#ff0000" stroke-width="1.0"/>
<line x1="634" y1="783.55" x2="648.9" y2="783.55" stroke="#1e1e1e" stroke-width="1.0"/>
<text x="654" y="755.1" font-size="7.7" text-anchor="start" textLength="91.42" lengthAdjust="spacingAndGlyphs" fill="#000" font-family='"Liberation Sans", sans-serif' class="b">Poisson based distribution</text>
<text x="654" y="765.27" font-size="7.7" text-anchor="start" textLength="72.54" lengthAdjust="spacingAndGlyphs" fill="#000" font-family='"Liberation Sans", sans-serif' class="b">Adjusted distribution</text>
<text x="654" y="775.44" font-size="7.7" text-anchor="start" textLength="77.35" lengthAdjust="spacingAndGlyphs" fill="#000" font-family='"Liberation Sans", sans-serif' class="b">Prediction value = 1.0</text>
<text x="654" y="785.61" font-size="7.7" text-anchor="start" textLength="99.51" lengthAdjust="spacingAndGlyphs" fill="#000" font-family='"Liberation Sans", sans-serif' class="b">Confirmed cases 2020 = 0.0</text>
</g>
<rect x="564.7" y="743.5" width="195" height="127" fill="none" stroke="#6a6a6a" stroke-width="1"/>
<line x1="564.7" y1="864.73" x2="564.7" y2="750.07" stroke="#000" stroke-opacity="0.45" stroke-width="1.0"/>
<line x1="562.2" y1="864.73" x2="564.7" y2="864.73" stroke="#6a6a6a" stroke-width="1"/>
<text x="560.4" y="866.93" font-size="6.3" text-anchor="end" textLength="9.38" lengthAdjust="spacingAndGlyphs" fill="#000" font-family='"Liberation Sans", sans-serif' class="t">0.0</text>
<line x1="562.2" y1="841.33" x2="564.7" y2="841.33" stroke="#6a6a6a" stroke-width="1"/>
<text x="560.4" y="843.53" font-size="6.3" text-anchor="end" textLength="9.38" lengthAdjust="spacingAndGlyphs" fill="#000" font-family='"Liberation Sans", sans-serif' class="t">0.1</text>
<line x1="562.2" y1="817.93" x2="564.7" y2="817.93" stroke="#6a6a6a" stroke-width="1"/>
<text x="560.4" y="820.13" font-size="6.3" text-anchor="end" textLength="9.38" lengthAdjust="spacingAndGlyphs" fill="#000" font-family='"Liberation Sans", sans-serif' class="t">0.2</text>
<line x1="562.2" y1="794.53" x2="564.7" y2="794.53" stroke="#6a6a6a" stroke-width="1"/>
<text x="560.4" y="796.73" font-size="6.3" text-anchor="end" textLength="9.38" lengthAdjust="spacingAndGlyphs" fill="#000" font-family='"Liberation Sans", sans-serif' class="t">0.3</text>
<line x1="562.2" y1="771.13" x2="564.7" y2="771.13" stroke="#6a6a6a" stroke-width="1"/>
<text x="560.4" y="773.33" font-size="6.3" text-anchor="end" textLength="9.38" lengthAdjust="spacingAndGlyphs" fill="#000" font-family='"Liberation Sans", sans-serif' class="t">0.4</text>
<line x1="562.2" y1="747.73" x2="564.7" y2="747.73" stroke="#6a6a6a" stroke-width="1"/>
<text x="560.4" y="749.93" font-size="6.3" text-anchor="end" textLength="9.38" lengthAdjust="spacingAndGlyphs" fill="#000" font-family='"Liberation Sans", sans-serif' class="t">0.5</text>
<line x1="564.7" y1="870.5" x2="564.7" y2="873" stroke="#6a6a6a" stroke-width="1"/>
<text x="564.7" y="879" font-size="6.3" text-anchor="middle" textLength="3.75" lengthAdjust="spacingAndGlyphs" fill="#000" font-family='"Liberation Sans", sans-serif' class="t">0</text>
<line x1="592.56" y1="870.5" x2="592.56" y2="873" stroke="#6a6a6a" stroke-width="1"/>
<text x="592.56" y="879" font-size="6.3" text-anchor="middle" textLength="3.75" lengthAdjust="spacingAndGlyphs" fill="#000" font-family='"Liberation Sans", sans-serif' class="t">2</text>
<line x1="620.41" y1="870.5" x2="620.41" y2="873" stroke="#6a6a6a" stroke-width="1"/>
<text x="620.41" y="879" font-size="6.3" text-anchor="middle" textLength="3.75" lengthAdjust="spacingAndGlyphs" fill="#000" font-family='"Liberation Sans", sans-serif' class="t">4</text>
<line x1="648.27" y1="870.5" x2="648.27" y2="873" stroke="#6a6a6a" stroke-width="1"/>
<text x="648.27" y="879" font-size="6.3" text-anchor="middle" textLength="3.75" lengthAdjust="spacingAndGlyphs" fill="#000" font-family='"Liberation Sans", sans-serif' class="t">6</text>
<line x1="676.13" y1="870.5" x2="676.13" y2="873" stroke="#6a6a6a" stroke-width="1"/>
<text x="676.13" y="879" font-size="6.3" text-anchor="middle" textLength="3.75" lengthAdjust="spacingAndGlyphs" fill="#000" font-family='"Liberation Sans", sans-serif' class="t">8</text>
<line x1="703.99" y1="870.5" x2="703.99" y2="873" stroke="#6a6a6a" stroke-width="1"/>
<text x="703.99" y="879" font-size="6.3" text-anchor="middle" textLength="7.51" lengthAdjust="spacingAndGlyphs" fill="#000" font-family='"Liberation Sans", sans-serif' class="t">10</text>
<line x1="731.84" y1="870.5" x2="731.84" y2="873" stroke="#6a6a6a" stroke-width="1"/>
<text x="731.84" y="879" font-size="6.3" text-anchor="middle" textLength="7.51" lengthAdjust="spacingAndGlyphs" fill="#000" font-family='"Liberation Sans", sans-serif' class="t">12</text>
<line x1="759.7" y1="870.5" x2="759.7" y2="873" stroke="#6a6a6a" stroke-width="1"/>
<text x="759.7" y="879" font-size="6.3" text-anchor="middle" textLength="7.51" lengthAdjust="spacingAndGlyphs" fill="#000" font-family='"Liberation Sans", sans-serif' class="t">14</text>
<text x="662.2" y="889.7" font-size="10" text-anchor="middle" textLength="149.59" lengthAdjust="spacingAndGlyphs" fill="#000" font-family='"Liberation Sans", sans-serif' class="b">Number of new cases--Arizona--</text>
<g transform="translate(547.52,807) rotate(-90)"><text x="0" y="0" font-size="10" text-anchor="middle" textLength="77.94" lengthAdjust="spacingAndGlyphs" fill="#000" font-family='"Liberation Sans", sans-serif' class="b">Probability value</text></g>
</svg>
</body></html>
